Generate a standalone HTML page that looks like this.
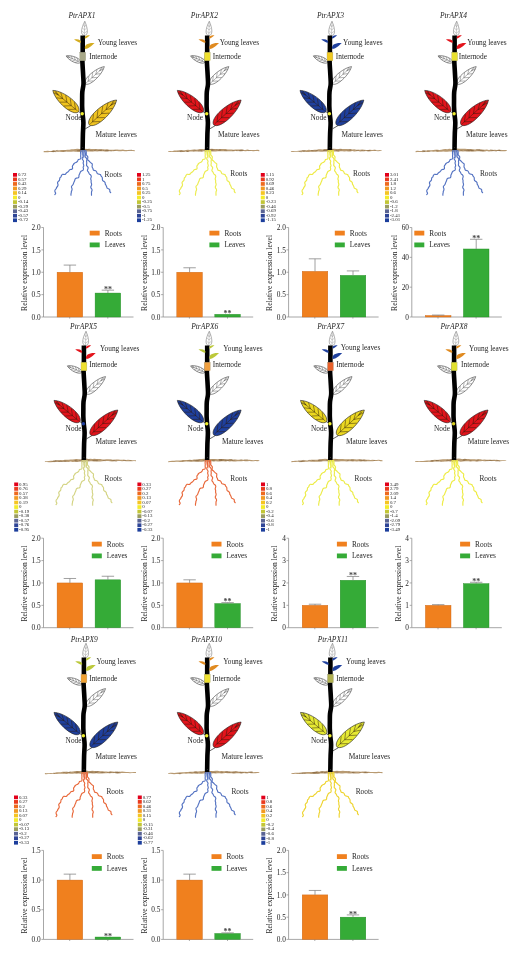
<!DOCTYPE html>
<html><head><meta charset="utf-8"><style>
html,body{margin:0;padding:0;background:#fff;}
svg{display:block;}
text{font-family:"Liberation Serif", "Times New Roman", serif;}
</style></head><body>
<svg width="523" height="957" viewBox="0 0 523 957">
<rect width="523" height="957" fill="#fff"/>
<text x="97.7" y="44.7" font-size="7.35" fill="#262626">Young leaves</text>
<text x="89.2" y="58.5" font-size="7.35" fill="#262626">Internode</text>
<text x="65.6" y="119.8" font-size="7.35" fill="#262626">Node</text>
<text x="95.4" y="136.5" font-size="7.35" fill="#262626">Mature leaves</text>
<text x="104.6" y="176.7" font-size="7.35" fill="#262626">Roots</text>
<text x="82" y="18.4" font-size="7.5" font-style="italic" text-anchor="middle" fill="#262626">PtrAPX1</text>
<path d="M43.7 150.95 L45.68 150.93 L47.66 150.81 L49.64 150.92 L51.62 150.92 L53.6 150.37 L55.58 150.53 L57.56 150.43 L59.54 150.37 L61.52 149.96 L63.5 149.92 L65.48 149.93 L67.47 149.76 L69.45 149.67 L71.43 149.25 L73.41 149.35 L75.39 148.96 L77.37 148.84 L79.35 148.95 L81.33 148.81 L83.31 148.95 L85.29 148.75 L87.27 148.98 L89.25 148.66 L91.23 149.05 L93.21 148.99 L95.19 148.94 L97.17 149.13 L99.15 149.22 L101.13 149.13 L103.11 149.35 L105.09 149.44 L107.07 149.26 L109.05 149.63 L111.03 149.69 L113.02 149.72 L115 149.68 L116.98 149.51 L118.96 149.72 L120.94 149.69 L122.92 149.62 L124.9 150.02 L126.88 150.04 L128.86 150.03 L130.84 150.19 L132.82 149.92 L134.8 150.13 L134.8 151.17 L132.82 151.03 L130.84 150.99 L128.86 150.87 L126.88 151.21 L124.9 151.15 L122.92 150.95 L120.94 151.33 L118.96 151.31 L116.98 151.1 L115 151.03 L113.02 151.34 L111.03 151.04 L109.05 151.32 L107.07 151.13 L105.09 151.41 L103.11 151.22 L101.13 151.26 L99.15 151.22 L97.17 151.46 L95.19 151.16 L93.21 151.62 L91.23 151.58 L89.25 151.61 L87.27 151.55 L85.29 151.29 L83.31 151.33 L81.33 151.64 L79.35 151.64 L77.37 151.65 L75.39 151.68 L73.41 151.52 L71.43 151.63 L69.45 151.72 L67.47 151.68 L65.48 151.56 L63.5 151.9 L61.52 151.96 L59.54 151.68 L57.56 151.8 L55.58 151.81 L53.6 152.08 L51.62 152.08 L49.64 152.01 L47.66 152.15 L45.68 152.17 L43.7 152.18Z" fill="#b89a72"/>
<path d="M76.95 150.81l2.91 0.36M55.82 150.65l1.56 -0.3M51.64 151.22l2.83 0.19M105.05 150.4l3.51 -0.03M78.29 150.19l2.28 -0.16M83.13 150.02l2.92 -0.22M78.98 150.37l1.57 0.24M102.79 150.44l1.6 0.12M56.79 150.69l1.75 0.32M51.57 151.54l2.78 -0.34M98.52 149.99l3.51 0.04M89.62 150.56l3.54 0.19M106.29 150.75l2.99 -0.19M62.41 151.2l3.55 -0.08M128.13 150.42l3.87 -0.33M76.8 150.69l3.87 0.08M104.78 150.74l3.46 0.34M53.52 151.38l2.65 0.37M51.52 151.5l2.41 0.34M94.78 149.9l2.63 -0.14M97.71 150.37l3.77 0.23M93.83 150.41l1.81 0.24M113.5 150.51l2.26 -0.37M85.65 149.71l3.92 -0.32M109.87 150.81l2.06 0.28M99.69 150.37l2.2 -0.18" stroke="#86643e" stroke-width="0.55" fill="none" opacity="0.8"/>
<path d="M80.9 150.5C80.86 150.71 80.72 151.32 80.67 151.73C80.62 152.15 80.58 152.56 80.59 152.98C80.61 153.39 80.75 153.82 80.76 154.24C80.78 154.65 80.69 155.06 80.68 155.48C80.66 155.9 80.66 156.31 80.68 156.73C80.71 157.15 80.88 157.59 80.81 157.99C80.74 158.39 80.66 158.88 80.26 159.13C79.86 159.38 78.86 159.12 78.39 159.48C77.92 159.85 77.78 160.87 77.46 161.32C77.13 161.77 76.84 161.96 76.45 162.19C76.07 162.42 75.53 162.46 75.15 162.68C74.76 162.91 74.46 163.15 74.13 163.51C73.81 163.87 73.48 164.39 73.19 164.85C72.89 165.3 72.48 165.66 72.38 166.24C72.28 166.81 72.69 167.8 72.6 168.3C72.5 168.79 72.16 169.01 71.8 169.22C71.43 169.43 70.82 169.39 70.41 169.55C70.01 169.72 69.64 169.92 69.34 170.2C69.05 170.48 68.9 170.92 68.65 171.23C68.39 171.53 68.16 171.78 67.81 172.03C67.47 172.28 66.95 172.39 66.6 172.72C66.24 173.04 66.04 173.68 65.66 173.98C65.29 174.27 64.87 174.41 64.35 174.47C63.82 174.53 62.98 174.16 62.52 174.32C62.05 174.48 61.81 174.99 61.55 175.42C61.29 175.85 61.23 176.48 60.95 176.88C60.68 177.29 60.11 177.46 59.9 177.83C59.69 178.21 59.76 178.7 59.68 179.12C59.59 179.55 59.61 180.01 59.38 180.39C59.15 180.77 58.6 181.01 58.29 181.41C57.98 181.81 57.55 182.25 57.51 182.77C57.46 183.29 57.99 183.97 58.02 184.52C58.06 185.07 57.91 185.6 57.7 186.07C57.48 186.54 56.97 186.89 56.71 187.34C56.45 187.79 56.42 188.32 56.14 188.78C55.86 189.25 55.21 189.65 55.01 190.12C54.81 190.59 54.82 191.09 54.93 191.61C55.04 192.13 55.71 192.74 55.68 193.24C55.66 193.73 54.95 194.37 54.8 194.6" stroke="#5473c2" stroke-width="1.15" fill="none" stroke-linejoin="round" stroke-linecap="round"/>
<path d="M82.8 150.5C82.81 150.71 82.82 151.33 82.84 151.74C82.86 152.15 82.91 152.57 82.93 152.98C82.94 153.39 82.9 153.81 82.95 154.22C82.99 154.63 83.18 155.04 83.2 155.45C83.22 155.87 83.2 156.28 83.06 156.7C82.91 157.11 82.43 157.53 82.31 157.95C82.19 158.37 82.19 158.78 82.35 159.19C82.5 159.6 83.03 160.01 83.23 160.42C83.43 160.83 83.56 161.24 83.54 161.65C83.52 162.06 83.12 162.4 83.12 162.86C83.11 163.33 83.4 163.94 83.51 164.45C83.61 164.96 83.81 165.5 83.75 165.94C83.69 166.38 83.19 166.68 83.14 167.12C83.09 167.55 83.43 168.05 83.45 168.53C83.46 169.02 83.48 169.64 83.24 170.02C83.01 170.39 82.45 170.54 82.04 170.78C81.62 171.03 81.07 171.17 80.75 171.49C80.42 171.81 80.3 172.29 80.1 172.7C79.9 173.12 79.74 173.57 79.55 174C79.37 174.43 79.09 174.78 78.97 175.27C78.86 175.77 79.05 176.55 78.88 176.99C78.7 177.43 78.35 177.71 77.92 177.91C77.49 178.1 76.76 177.98 76.31 178.15C75.86 178.32 75.49 178.58 75.22 178.94C74.96 179.3 74.89 179.87 74.73 180.32C74.57 180.76 74.45 181.19 74.26 181.61C74.08 182.03 73.8 182.42 73.64 182.84C73.49 183.25 73.5 183.71 73.32 184.11C73.14 184.51 72.86 184.88 72.56 185.25C72.27 185.61 71.7 185.91 71.54 186.32C71.38 186.72 71.5 187.21 71.59 187.66C71.68 188.12 72.03 188.61 72.08 189.05C72.13 189.48 72.01 189.87 71.89 190.28C71.78 190.69 71.48 191.07 71.38 191.48C71.28 191.89 71.35 192.31 71.28 192.72C71.21 193.13 71.02 193.53 70.98 193.95C70.93 194.36 71 194.99 71 195.2" stroke="#5473c2" stroke-width="1.15" fill="none" stroke-linejoin="round" stroke-linecap="round"/>
<path d="M84.7 150.5C84.74 150.71 84.86 151.32 84.95 151.73C85.05 152.14 85.18 152.54 85.28 152.95C85.38 153.36 85.56 153.75 85.55 154.18C85.54 154.61 85.3 155.08 85.23 155.52C85.16 155.96 84.98 156.41 85.14 156.81C85.29 157.21 85.86 157.53 86.15 157.91C86.44 158.28 86.78 158.64 86.87 159.05C86.96 159.47 86.75 159.94 86.7 160.38C86.66 160.81 86.58 161.24 86.6 161.66C86.61 162.08 86.79 162.48 86.79 162.9C86.79 163.32 86.62 163.77 86.58 164.19C86.55 164.62 86.44 165.07 86.59 165.47C86.75 165.87 87.26 166.23 87.53 166.61C87.8 167 88.16 167.38 88.2 167.79C88.24 168.21 87.89 168.67 87.76 169.13C87.63 169.6 87.34 170.16 87.41 170.59C87.49 171.02 87.97 171.33 88.21 171.72C88.46 172.11 88.65 172.53 88.86 172.93C89.08 173.34 89.19 173.79 89.5 174.15C89.81 174.51 90.42 174.72 90.72 175.08C91.02 175.45 91.24 175.91 91.29 176.35C91.33 176.79 91.09 177.29 90.99 177.72C90.9 178.15 90.69 178.51 90.72 178.94C90.74 179.37 91.08 179.85 91.15 180.27C91.21 180.7 91.11 181.06 91.12 181.47C91.12 181.88 91.1 182.32 91.18 182.73C91.26 183.15 91.51 183.54 91.57 183.96C91.63 184.37 91.66 184.8 91.55 185.23C91.44 185.65 91.03 186.08 90.92 186.5C90.81 186.92 90.74 187.33 90.88 187.74C91.01 188.16 91.53 188.57 91.73 188.99C91.93 189.4 92.08 189.81 92.07 190.23C92.05 190.64 91.74 191.06 91.64 191.47C91.54 191.89 91.51 192.3 91.48 192.71C91.46 193.13 91.49 193.54 91.49 193.96C91.49 194.37 91.5 194.99 91.5 195.2" stroke="#5473c2" stroke-width="1.15" fill="none" stroke-linejoin="round" stroke-linecap="round"/>
<path d="M85.9 150.5C85.96 150.72 86.18 151.37 86.25 151.81C86.31 152.26 86.3 152.73 86.3 153.19C86.3 153.65 86.1 154.15 86.23 154.58C86.37 155.02 86.81 155.39 87.08 155.79C87.36 156.2 87.76 156.58 87.86 157.02C87.95 157.46 87.67 157.97 87.65 158.45C87.64 158.92 87.54 159.45 87.76 159.85C87.98 160.25 88.63 160.51 88.97 160.86C89.31 161.21 89.47 161.6 89.81 161.94C90.14 162.28 90.58 162.58 90.98 162.9C91.38 163.21 91.98 163.42 92.19 163.83C92.4 164.24 92.25 164.84 92.24 165.36C92.22 165.88 92 166.47 92.1 166.97C92.2 167.46 92.63 167.83 92.83 168.31C93.03 168.79 93.01 169.48 93.29 169.84C93.56 170.2 94.04 170.31 94.47 170.48C94.91 170.65 95.52 170.61 95.88 170.86C96.24 171.11 96.4 171.53 96.65 171.98C96.89 172.44 96.99 173.25 97.35 173.6C97.71 173.95 98.31 173.92 98.82 174.08C99.33 174.24 100.07 174.3 100.42 174.57C100.78 174.85 100.73 175.37 100.94 175.73C101.15 176.1 101.47 176.41 101.7 176.76C101.94 177.11 102.24 177.42 102.35 177.84C102.46 178.26 102.3 178.81 102.36 179.28C102.41 179.74 102.41 180.28 102.7 180.64C103 181.01 103.73 181.15 104.12 181.46C104.52 181.77 104.89 182.1 105.08 182.52C105.27 182.93 105.11 183.5 105.26 183.96C105.41 184.42 105.77 184.82 105.99 185.27C106.22 185.72 106.43 186.18 106.62 186.65C106.81 187.12 106.8 187.72 107.13 188.1C107.46 188.47 108.16 188.59 108.6 188.88C109.04 189.18 109.56 189.42 109.76 189.86C109.97 190.3 109.68 191.06 109.83 191.53C109.99 192.01 110.56 192.51 110.7 192.7" stroke="#5473c2" stroke-width="1.15" fill="none" stroke-linejoin="round" stroke-linecap="round"/>
<path d="M80.8 150L85.6 150L85.2 155L83.5 159L82 155Z" fill="#5473c2" opacity="0.55"/>
<path d="M80.5 62.2C81.46 58.83 71.81 54.61 66.1 55.9C69.03 60.97 78.68 65.19 80.5 62.2Z" fill="#fff" stroke="#2a2a2a" stroke-width="0.55"/>
<path d="M79.92 61.95L67.11 56.34M78.34 61.26L76.96 58.13M78.34 61.26L75.11 62.36M75.46 59.99L74.07 56.9M75.46 59.99L72.24 61.08M72.58 58.73L71.02 56.04M72.58 58.73L69.54 59.42M69.7 57.47L67.73 55.7M69.7 57.47L67.06 57.24" stroke="#444" stroke-width="0.4" fill="none"/>
<path d="M85.2 83.8C89.07 86.95 101.87 75.43 104.3 66.6C95.27 68.09 82.47 79.62 85.2 83.8Z" fill="#fff" stroke="#2a2a2a" stroke-width="0.55"/>
<path d="M85.96 83.11L102.96 67.8M88.06 81.22L93.32 80.91M88.06 81.22L88.92 76.03M91.89 77.78L97.11 77.44M91.89 77.78L92.77 72.62M95.7 74.34L100.52 73.54M95.7 74.34L97 69.64M99.53 70.9L103.38 69.04M99.53 70.9L101.78 67.26" stroke="#444" stroke-width="0.4" fill="none"/>
<path d="M84.3 35.4C88.16 35.54 88.37 29.57 84.8 21.2C80.65 29.3 80.44 35.26 84.3 35.4Z" fill="#fff" stroke="#666" stroke-width="0.5"/>
<path d="M84.32 34.83L84.77 22.19M84.38 33.27L86.91 31.23M84.38 33.27L81.99 31.05M84.49 30.07L86.67 28.02M84.49 30.07L82.45 27.87M84.6 26.88L86 24.8M84.6 26.88L83.35 24.7" stroke="#888" stroke-width="0.4" fill="none"/>
<path d="M82.7 35.6C82.7 38.33 82.75 47.77 82.7 52C82.65 56.23 82.33 57.17 82.4 61C82.48 64.83 82.97 71.17 83.15 75C83.33 78.83 83.64 81.17 83.5 84C83.36 86.83 82.52 89.33 82.3 92C82.08 94.67 82.18 97.5 82.15 100C82.12 102.5 82.07 104.58 82.15 107C82.23 109.42 82.44 111.92 82.65 114.5C82.86 117.08 83.36 119.25 83.4 122.5C83.44 125.75 83.03 129.75 82.9 134C82.78 138.25 82.69 145.33 82.65 148C82.61 150.67 82.65 149.67 82.65 150" stroke="#000" stroke-width="4.6" fill="none" stroke-linejoin="round"/>
<path d="M81 42.6C81.35 39.91 78.55 38.67 74 39.5C77.15 41.84 79.95 43.08 81 42.6Z" fill="#d4ac20"/>
<path d="M84.9 38.4C85.78 38.67 87.82 37.39 90 35.2C86.33 35.02 84.29 36.3 84.9 38.4Z" fill="#d4ac20"/>
<path d="M85 48.8C86.71 49.47 90.51 47.15 94.5 43C87.74 42.6 83.94 44.92 85 48.8Z" fill="#d4ac20"/>
<rect x="79.8" y="52.2" width="5.9" height="8.6" fill="#a8a888" stroke="#9a9a80" stroke-width="0.3"/>
<path d="M85.2 128.9L90.8 125.6" stroke="#222" stroke-width="0.7"/>
<path d="M81 113L78.5 111.6" stroke="#222" stroke-width="0.7"/>
<path d="M78.6 111.8C82.42 105.62 64.62 90.85 52.8 90.4C55.43 101.93 73.23 116.7 78.6 111.8Z" fill="#f0c420" stroke="#1a1a1a" stroke-width="0.6"/>
<path d="M77.57 110.94L54.61 91.9M75.5 109.23L74.38 102.19M75.5 109.23L68.37 109.43M71.25 105.7L70.22 98.54M71.25 105.7L64.02 106.01M66.99 102.17L65.69 95.34M66.99 102.17L60.04 102.15M62.73 98.64L60.73 92.65M62.73 98.64L56.48 97.78M58.48 95.11L55.26 90.58M58.48 95.11L53.43 92.79" stroke="#2a1808" stroke-width="0.55" fill="none" opacity="0.85"/>
<path d="M89.2 124.8C95.12 129.69 114.03 112.58 116.6 100C103.83 101.31 84.92 118.42 89.2 124.8Z" fill="#f0c420" stroke="#1a1a1a" stroke-width="0.6"/>
<path d="M90.3 123.81L114.68 101.74M92.49 121.82L100.2 121.54M92.49 121.82L93.54 114.18M97.01 117.73L104.83 117.56M97.01 117.73L97.96 109.97M101.53 113.64L109.05 113.13M101.53 113.64L102.78 106.21M106.05 109.55L112.8 108.19M106.05 109.55L108.07 102.97M110.57 105.46L115.97 102.61M110.57 105.46L113.94 100.37" stroke="#2a1808" stroke-width="0.55" fill="none" opacity="0.85"/>
<circle cx="82.2" cy="113.8" r="1.7" fill="#f0ee30"/>
<rect x="13" y="173" width="4" height="3.7" fill="#e2001a"/>
<text x="17.9" y="176" font-size="4.9" fill="#262626">0.72</text>
<rect x="13" y="177.54" width="4" height="3.7" fill="#ea3a1e"/>
<text x="17.9" y="180.54" font-size="4.9" fill="#262626">0.57</text>
<rect x="13" y="182.08" width="4" height="3.7" fill="#ee6a1e"/>
<text x="17.9" y="185.08" font-size="4.9" fill="#262626">0.43</text>
<rect x="13" y="186.62" width="4" height="3.7" fill="#f29a22"/>
<text x="17.9" y="189.62" font-size="4.9" fill="#262626">0.29</text>
<rect x="13" y="191.16" width="4" height="3.7" fill="#f5c523"/>
<text x="17.9" y="194.16" font-size="4.9" fill="#262626">0.14</text>
<rect x="13" y="195.7" width="4" height="3.7" fill="#f4ec2a"/>
<text x="17.9" y="198.7" font-size="4.9" fill="#262626">0</text>
<rect x="13" y="200.24" width="4" height="3.7" fill="#c2c636"/>
<text x="17.9" y="203.24" font-size="4.9" fill="#262626">-0.14</text>
<rect x="13" y="204.78" width="4" height="3.7" fill="#9a9c60"/>
<text x="17.9" y="207.78" font-size="4.9" fill="#262626">-0.29</text>
<rect x="13" y="209.32" width="4" height="3.7" fill="#5a6494"/>
<text x="17.9" y="212.32" font-size="4.9" fill="#262626">-0.43</text>
<rect x="13" y="213.86" width="4" height="3.7" fill="#2e4496"/>
<text x="17.9" y="216.86" font-size="4.9" fill="#262626">-0.57</text>
<rect x="13" y="218.4" width="4" height="3.7" fill="#1c3e9c"/>
<text x="17.9" y="221.4" font-size="4.9" fill="#262626">-0.72</text>
<path d="M43.5 227.5V317H133.5" stroke="#8a8a8a" stroke-width="0.75" fill="none"/>
<path d="M41.4 317H43.5" stroke="#8a8a8a" stroke-width="0.7"/>
<text x="40.7" y="319.75" font-size="7.3" text-anchor="end" fill="#262626">0.0</text>
<path d="M41.4 294.62H43.5" stroke="#8a8a8a" stroke-width="0.7"/>
<text x="40.7" y="297.38" font-size="7.3" text-anchor="end" fill="#262626">0.5</text>
<path d="M41.4 272.25H43.5" stroke="#8a8a8a" stroke-width="0.7"/>
<text x="40.7" y="275" font-size="7.3" text-anchor="end" fill="#262626">1.0</text>
<path d="M41.4 249.88H43.5" stroke="#8a8a8a" stroke-width="0.7"/>
<text x="40.7" y="252.62" font-size="7.3" text-anchor="end" fill="#262626">1.5</text>
<path d="M41.4 227.5H43.5" stroke="#8a8a8a" stroke-width="0.7"/>
<text x="40.7" y="230.25" font-size="7.3" text-anchor="end" fill="#262626">2.0</text>
<path d="M69.7 317V318.6" stroke="#8a8a8a" stroke-width="0.7"/>
<path d="M107.8 317V318.6" stroke="#8a8a8a" stroke-width="0.7"/>
<text transform="translate(26.8 272.95) rotate(-90)" font-size="7.55" text-anchor="middle" fill="#262626">Relative expression level</text>
<rect x="57.1" y="272.25" width="25.6" height="44.75" fill="#f0801e" stroke="#c86010" stroke-width="0.4"/>
<path d="M69.9 272.25V265.09M63.7 265.09H76.1" stroke="#808080" stroke-width="0.75" fill="none"/>
<rect x="95.1" y="293.06" width="25.6" height="23.94" fill="#35ab37" stroke="#208a22" stroke-width="0.4"/>
<path d="M107.9 293.06V290.15M101.7 290.15H114.1" stroke="#808080" stroke-width="0.75" fill="none"/>
<text x="107.9" y="291.75" font-size="8" font-weight="bold" text-anchor="middle" fill="#444">**</text>
<rect x="89.7" y="230.7" width="10" height="4.8" fill="#f0801e"/>
<rect x="89.7" y="242.5" width="10" height="4.8" fill="#35ab37"/>
<text x="104.7" y="235.6" font-size="7.3" fill="#262626">Roots</text>
<text x="104.7" y="247.4" font-size="7.3" fill="#262626">Leaves</text>
<text x="219.7" y="44.7" font-size="7.35" fill="#262626">Young leaves</text>
<text x="212.8" y="58.5" font-size="7.35" fill="#262626">Internode</text>
<text x="187.1" y="119.8" font-size="7.35" fill="#262626">Node</text>
<text x="218.1" y="136.5" font-size="7.35" fill="#262626">Mature leaves</text>
<text x="230.3" y="175.5" font-size="7.35" fill="#262626">Roots</text>
<text x="204.4" y="18.4" font-size="7.5" font-style="italic" text-anchor="middle" fill="#262626">PtrAPX2</text>
<path d="M168.2 151.36 L170.18 151.03 L172.16 151.17 L174.14 150.59 L176.12 150.5 L178.1 150.41 L180.08 150.37 L182.06 150.27 L184.04 150.38 L186.02 149.96 L188 149.82 L189.98 149.98 L191.97 149.86 L193.95 149.48 L195.93 149.67 L197.91 149.39 L199.89 149.07 L201.87 149 L203.85 149.13 L205.83 148.62 L207.81 148.64 L209.79 148.96 L211.77 148.74 L213.75 148.95 L215.73 148.96 L217.71 149.22 L219.69 148.93 L221.67 148.92 L223.65 149.12 L225.63 149.05 L227.61 149.48 L229.59 149.39 L231.57 149.45 L233.55 149.64 L235.53 149.54 L237.52 149.55 L239.5 149.56 L241.48 149.65 L243.46 149.97 L245.44 149.88 L247.42 149.61 L249.4 150.1 L251.38 150.04 L253.36 149.91 L255.34 150.09 L257.32 149.87 L259.3 150.04 L259.3 151.24 L257.32 151.1 L255.34 151 L253.36 151.29 L251.38 150.97 L249.4 150.86 L247.42 151.07 L245.44 151.14 L243.46 151.04 L241.48 151.16 L239.5 150.99 L237.52 150.96 L235.53 151.04 L233.55 151.28 L231.57 151.17 L229.59 151.13 L227.61 151.13 L225.63 151.16 L223.65 151.19 L221.67 151.36 L219.69 151.25 L217.71 151.29 L215.73 151.51 L213.75 151.5 L211.77 151.57 L209.79 151.58 L207.81 151.31 L205.83 151.69 L203.85 151.34 L201.87 151.66 L199.89 151.56 L197.91 151.44 L195.93 151.55 L193.95 151.57 L191.97 151.59 L189.98 151.53 L188 151.94 L186.02 151.56 L184.04 151.92 L182.06 152.01 L180.08 151.74 L178.1 151.7 L176.12 151.91 L174.14 151.97 L172.16 151.95 L170.18 152.06 L168.2 151.96Z" fill="#b89a72"/>
<path d="M218.12 150.28l3.22 -0.19M239.25 150.57l3.59 0.01M185.78 151.41l2.48 0.13M247.75 150.63l2.92 -0.13M239.87 150.05l2.82 -0.35M235.94 150.56l1.63 0.29M200.64 150.61l1.67 0.2M186.87 151.35l1.63 0.11M224.2 150.56l3.03 0.14M181.09 151.03l1.64 0.14M182.2 151.3l2.47 -0.22M210.16 149.71l2.73 0.12M179.82 151.13l2.09 -0.31M232.2 150.65l2.29 -0.14M192.75 150.83l1.58 0.32M197.95 150.92l3.68 -0.28M218.75 150.01l2.13 0.03M180.03 151.57l1.53 0.11M241.09 150.3l2.87 -0.28M216.22 149.7l1.66 0.02M177.13 151.27l3.83 -0.09M211.29 149.85l2.04 0.01M207.41 149.89l1.76 -0.06M210.64 150.16l3.93 -0.3M193.85 150.2l2.43 0.02M238.6 150.85l2.43 -0.09" stroke="#86643e" stroke-width="0.55" fill="none" opacity="0.8"/>
<path d="M205.4 150.5C205.36 150.71 205.22 151.32 205.17 151.73C205.12 152.15 205.08 152.56 205.09 152.98C205.11 153.39 205.25 153.82 205.26 154.24C205.28 154.65 205.19 155.06 205.18 155.48C205.16 155.9 205.16 156.31 205.18 156.73C205.21 157.15 205.38 157.59 205.31 157.99C205.24 158.39 205.16 158.88 204.76 159.13C204.36 159.38 203.36 159.12 202.89 159.48C202.42 159.85 202.28 160.87 201.96 161.32C201.63 161.77 201.34 161.96 200.95 162.19C200.57 162.42 200.03 162.46 199.65 162.68C199.26 162.91 198.96 163.15 198.63 163.51C198.31 163.87 197.98 164.39 197.69 164.85C197.39 165.3 196.98 165.66 196.88 166.24C196.78 166.81 197.19 167.8 197.1 168.3C197 168.79 196.66 169.01 196.3 169.22C195.93 169.43 195.32 169.39 194.91 169.55C194.51 169.72 194.14 169.92 193.84 170.2C193.55 170.48 193.4 170.92 193.15 171.23C192.89 171.53 192.66 171.78 192.31 172.03C191.97 172.28 191.45 172.39 191.1 172.72C190.74 173.04 190.54 173.68 190.16 173.98C189.79 174.27 189.37 174.41 188.85 174.47C188.32 174.53 187.48 174.16 187.02 174.32C186.55 174.48 186.31 174.99 186.05 175.42C185.79 175.85 185.73 176.48 185.45 176.88C185.18 177.29 184.61 177.46 184.4 177.83C184.19 178.21 184.26 178.7 184.18 179.12C184.09 179.55 184.11 180.01 183.88 180.39C183.65 180.77 183.1 181.01 182.79 181.41C182.48 181.81 182.05 182.25 182.01 182.77C181.96 183.29 182.49 183.97 182.52 184.52C182.56 185.07 182.41 185.6 182.2 186.07C181.98 186.54 181.47 186.89 181.21 187.34C180.95 187.79 180.92 188.32 180.64 188.78C180.36 189.25 179.71 189.65 179.51 190.12C179.31 190.59 179.32 191.09 179.43 191.61C179.54 192.13 180.21 192.74 180.18 193.24C180.16 193.73 179.45 194.37 179.3 194.6" stroke="#ecec50" stroke-width="1.15" fill="none" stroke-linejoin="round" stroke-linecap="round"/>
<path d="M207.3 150.5C207.31 150.71 207.32 151.33 207.34 151.74C207.36 152.15 207.41 152.57 207.43 152.98C207.44 153.39 207.4 153.81 207.45 154.22C207.49 154.63 207.68 155.04 207.7 155.45C207.72 155.87 207.7 156.28 207.56 156.7C207.41 157.11 206.93 157.53 206.81 157.95C206.69 158.37 206.69 158.78 206.85 159.19C207 159.6 207.53 160.01 207.73 160.42C207.93 160.83 208.06 161.24 208.04 161.65C208.02 162.06 207.62 162.4 207.62 162.86C207.61 163.33 207.9 163.94 208.01 164.45C208.11 164.96 208.31 165.5 208.25 165.94C208.19 166.38 207.69 166.68 207.64 167.12C207.59 167.55 207.93 168.05 207.95 168.53C207.96 169.02 207.98 169.64 207.74 170.02C207.51 170.39 206.95 170.54 206.54 170.78C206.12 171.03 205.57 171.17 205.25 171.49C204.92 171.81 204.8 172.29 204.6 172.7C204.4 173.12 204.24 173.57 204.05 174C203.87 174.43 203.59 174.78 203.47 175.27C203.36 175.77 203.55 176.55 203.38 176.99C203.2 177.43 202.85 177.71 202.42 177.91C201.99 178.1 201.26 177.98 200.81 178.15C200.36 178.32 199.99 178.58 199.72 178.94C199.46 179.3 199.39 179.87 199.23 180.32C199.07 180.76 198.95 181.19 198.76 181.61C198.58 182.03 198.3 182.42 198.14 182.84C197.99 183.25 198 183.71 197.82 184.11C197.64 184.51 197.36 184.88 197.06 185.25C196.77 185.61 196.2 185.91 196.04 186.32C195.88 186.72 196 187.21 196.09 187.66C196.18 188.12 196.53 188.61 196.58 189.05C196.63 189.48 196.51 189.87 196.39 190.28C196.28 190.69 195.98 191.07 195.88 191.48C195.78 191.89 195.85 192.31 195.78 192.72C195.71 193.13 195.52 193.53 195.48 193.95C195.43 194.36 195.5 194.99 195.5 195.2" stroke="#ecec50" stroke-width="1.15" fill="none" stroke-linejoin="round" stroke-linecap="round"/>
<path d="M209.2 150.5C209.24 150.71 209.36 151.32 209.45 151.73C209.55 152.14 209.68 152.54 209.78 152.95C209.88 153.36 210.06 153.75 210.05 154.18C210.04 154.61 209.8 155.08 209.73 155.52C209.66 155.96 209.48 156.41 209.64 156.81C209.79 157.21 210.36 157.53 210.65 157.91C210.94 158.28 211.28 158.64 211.37 159.05C211.46 159.47 211.25 159.94 211.2 160.38C211.16 160.81 211.08 161.24 211.1 161.66C211.11 162.08 211.29 162.48 211.29 162.9C211.29 163.32 211.12 163.77 211.08 164.19C211.05 164.62 210.94 165.07 211.09 165.47C211.25 165.87 211.76 166.23 212.03 166.61C212.3 167 212.66 167.38 212.7 167.79C212.74 168.21 212.39 168.67 212.26 169.13C212.13 169.6 211.84 170.16 211.91 170.59C211.99 171.02 212.47 171.33 212.71 171.72C212.96 172.11 213.15 172.53 213.36 172.93C213.58 173.34 213.69 173.79 214 174.15C214.31 174.51 214.92 174.72 215.22 175.08C215.52 175.45 215.74 175.91 215.79 176.35C215.83 176.79 215.59 177.29 215.49 177.72C215.4 178.15 215.19 178.51 215.22 178.94C215.24 179.37 215.58 179.85 215.65 180.27C215.71 180.7 215.61 181.06 215.62 181.47C215.62 181.88 215.6 182.32 215.68 182.73C215.76 183.15 216.01 183.54 216.07 183.96C216.13 184.37 216.16 184.8 216.05 185.23C215.94 185.65 215.53 186.08 215.42 186.5C215.31 186.92 215.24 187.33 215.38 187.74C215.51 188.16 216.03 188.57 216.23 188.99C216.43 189.4 216.58 189.81 216.57 190.23C216.55 190.64 216.24 191.06 216.14 191.47C216.04 191.89 216.01 192.3 215.98 192.71C215.96 193.13 215.99 193.54 215.99 193.96C215.99 194.37 216 194.99 216 195.2" stroke="#ecec50" stroke-width="1.15" fill="none" stroke-linejoin="round" stroke-linecap="round"/>
<path d="M210.4 150.5C210.46 150.72 210.68 151.37 210.75 151.81C210.81 152.26 210.8 152.73 210.8 153.19C210.8 153.65 210.6 154.15 210.73 154.58C210.87 155.02 211.31 155.39 211.58 155.79C211.86 156.2 212.26 156.58 212.36 157.02C212.45 157.46 212.17 157.97 212.15 158.45C212.14 158.92 212.04 159.45 212.26 159.85C212.48 160.25 213.13 160.51 213.47 160.86C213.81 161.21 213.97 161.6 214.31 161.94C214.64 162.28 215.08 162.58 215.48 162.9C215.88 163.21 216.48 163.42 216.69 163.83C216.9 164.24 216.75 164.84 216.74 165.36C216.72 165.88 216.5 166.47 216.6 166.97C216.7 167.46 217.13 167.83 217.33 168.31C217.53 168.79 217.51 169.48 217.79 169.84C218.06 170.2 218.54 170.31 218.97 170.48C219.41 170.65 220.02 170.61 220.38 170.86C220.74 171.11 220.9 171.53 221.15 171.98C221.39 172.44 221.49 173.25 221.85 173.6C222.21 173.95 222.81 173.92 223.32 174.08C223.83 174.24 224.57 174.3 224.92 174.57C225.28 174.85 225.23 175.37 225.44 175.73C225.65 176.1 225.97 176.41 226.2 176.76C226.44 177.11 226.74 177.42 226.85 177.84C226.96 178.26 226.8 178.81 226.86 179.28C226.91 179.74 226.91 180.28 227.2 180.64C227.5 181.01 228.23 181.15 228.62 181.46C229.02 181.77 229.39 182.1 229.58 182.52C229.77 182.93 229.61 183.5 229.76 183.96C229.91 184.42 230.27 184.82 230.49 185.27C230.72 185.72 230.93 186.18 231.12 186.65C231.31 187.12 231.3 187.72 231.63 188.1C231.96 188.47 232.66 188.59 233.1 188.88C233.54 189.18 234.06 189.42 234.26 189.86C234.47 190.3 234.18 191.06 234.33 191.53C234.49 192.01 235.06 192.51 235.2 192.7" stroke="#ecec50" stroke-width="1.15" fill="none" stroke-linejoin="round" stroke-linecap="round"/>
<path d="M205.3 150L210.1 150L209.7 155L208 159L206.5 155Z" fill="#ecec50" opacity="0.55"/>
<path d="M205 62.2C205.96 58.83 196.31 54.61 190.6 55.9C193.53 60.97 203.18 65.19 205 62.2Z" fill="#fff" stroke="#2a2a2a" stroke-width="0.55"/>
<path d="M204.42 61.95L191.61 56.34M202.84 61.26L201.46 58.13M202.84 61.26L199.61 62.36M199.96 59.99L198.57 56.9M199.96 59.99L196.74 61.08M197.08 58.73L195.52 56.04M197.08 58.73L194.04 59.42M194.2 57.47L192.23 55.7M194.2 57.47L191.56 57.24" stroke="#444" stroke-width="0.4" fill="none"/>
<path d="M209.7 83.8C213.57 86.95 226.37 75.43 228.8 66.6C219.77 68.09 206.97 79.62 209.7 83.8Z" fill="#fff" stroke="#2a2a2a" stroke-width="0.55"/>
<path d="M210.46 83.11L227.46 67.8M212.56 81.22L217.82 80.91M212.56 81.22L213.42 76.03M216.38 77.78L221.61 77.44M216.38 77.78L217.27 72.62M220.21 74.34L225.02 73.54M220.21 74.34L221.5 69.64M224.03 70.9L227.88 69.04M224.03 70.9L226.28 67.26" stroke="#444" stroke-width="0.4" fill="none"/>
<path d="M208.8 35.4C212.66 35.54 212.87 29.57 209.3 21.2C205.15 29.3 204.94 35.26 208.8 35.4Z" fill="#fff" stroke="#666" stroke-width="0.5"/>
<path d="M208.82 34.83L209.27 22.19M208.88 33.27L211.41 31.23M208.88 33.27L206.49 31.05M208.99 30.07L211.17 28.02M208.99 30.07L206.95 27.87M209.1 26.88L210.5 24.8M209.1 26.88L207.85 24.7" stroke="#888" stroke-width="0.4" fill="none"/>
<path d="M207.2 35.6C207.2 38.33 207.25 47.77 207.2 52C207.15 56.23 206.82 57.17 206.9 61C206.98 64.83 207.47 71.17 207.65 75C207.83 78.83 208.14 81.17 208 84C207.86 86.83 207.03 89.33 206.8 92C206.58 94.67 206.68 97.5 206.65 100C206.62 102.5 206.57 104.58 206.65 107C206.73 109.42 206.94 111.92 207.15 114.5C207.36 117.08 207.86 119.25 207.9 122.5C207.94 125.75 207.53 129.75 207.4 134C207.28 138.25 207.19 145.33 207.15 148C207.11 150.67 207.15 149.67 207.15 150" stroke="#000" stroke-width="4.6" fill="none" stroke-linejoin="round"/>
<path d="M205.5 42.6C205.85 39.91 203.05 38.67 198.5 39.5C201.65 41.84 204.45 43.08 205.5 42.6Z" fill="#e08a20"/>
<path d="M209.4 38.4C210.28 38.67 212.32 37.39 214.5 35.2C210.83 35.02 208.79 36.3 209.4 38.4Z" fill="#e08a20"/>
<path d="M209.5 48.8C211.21 49.47 215.01 47.15 219 43C212.24 42.6 208.44 44.92 209.5 48.8Z" fill="#e08a20"/>
<rect x="204.3" y="52.2" width="5.9" height="8.6" fill="#eee030" stroke="#9a9a80" stroke-width="0.3"/>
<path d="M209.7 128.9L215.3 125.6" stroke="#222" stroke-width="0.7"/>
<path d="M205.5 113L203 111.6" stroke="#222" stroke-width="0.7"/>
<path d="M203.1 111.8C206.92 105.62 189.12 90.85 177.3 90.4C179.93 101.93 197.73 116.7 203.1 111.8Z" fill="#e3141c" stroke="#1a1a1a" stroke-width="0.6"/>
<path d="M202.07 110.94L179.11 91.9M200 109.23L198.88 102.19M200 109.23L192.87 109.43M195.75 105.7L194.72 98.54M195.75 105.7L188.52 106.01M191.49 102.17L190.19 95.34M191.49 102.17L184.54 102.15M187.23 98.64L185.23 92.65M187.23 98.64L180.98 97.78M182.98 95.11L179.76 90.58M182.98 95.11L177.93 92.79" stroke="#2a1808" stroke-width="0.55" fill="none" opacity="0.85"/>
<path d="M213.7 124.8C219.62 129.69 238.53 112.58 241.1 100C228.33 101.31 209.42 118.42 213.7 124.8Z" fill="#e3141c" stroke="#1a1a1a" stroke-width="0.6"/>
<path d="M214.8 123.81L239.18 101.74M216.99 121.82L224.7 121.54M216.99 121.82L218.04 114.18M221.51 117.73L229.33 117.56M221.51 117.73L222.46 109.97M226.03 113.64L233.55 113.13M226.03 113.64L227.28 106.21M230.55 109.55L237.3 108.19M230.55 109.55L232.57 102.97M235.07 105.46L240.47 102.61M235.07 105.46L238.44 100.37" stroke="#2a1808" stroke-width="0.55" fill="none" opacity="0.85"/>
<circle cx="206.7" cy="113.8" r="1.7" fill="#f0ee30"/>
<rect x="137" y="173" width="4" height="3.7" fill="#e2001a"/>
<text x="141.9" y="176" font-size="4.9" fill="#262626">1.25</text>
<rect x="137" y="177.54" width="4" height="3.7" fill="#ea3a1e"/>
<text x="141.9" y="180.54" font-size="4.9" fill="#262626">1</text>
<rect x="137" y="182.08" width="4" height="3.7" fill="#ee6a1e"/>
<text x="141.9" y="185.08" font-size="4.9" fill="#262626">0.75</text>
<rect x="137" y="186.62" width="4" height="3.7" fill="#f29a22"/>
<text x="141.9" y="189.62" font-size="4.9" fill="#262626">0.5</text>
<rect x="137" y="191.16" width="4" height="3.7" fill="#f5c523"/>
<text x="141.9" y="194.16" font-size="4.9" fill="#262626">0.25</text>
<rect x="137" y="195.7" width="4" height="3.7" fill="#f4ec2a"/>
<text x="141.9" y="198.7" font-size="4.9" fill="#262626">0</text>
<rect x="137" y="200.24" width="4" height="3.7" fill="#c2c636"/>
<text x="141.9" y="203.24" font-size="4.9" fill="#262626">-0.25</text>
<rect x="137" y="204.78" width="4" height="3.7" fill="#9a9c60"/>
<text x="141.9" y="207.78" font-size="4.9" fill="#262626">-0.5</text>
<rect x="137" y="209.32" width="4" height="3.7" fill="#5a6494"/>
<text x="141.9" y="212.32" font-size="4.9" fill="#262626">-0.75</text>
<rect x="137" y="213.86" width="4" height="3.7" fill="#2e4496"/>
<text x="141.9" y="216.86" font-size="4.9" fill="#262626">-1</text>
<rect x="137" y="218.4" width="4" height="3.7" fill="#1c3e9c"/>
<text x="141.9" y="221.4" font-size="4.9" fill="#262626">-1.25</text>
<path d="M163.2 227.5V317H253.2" stroke="#8a8a8a" stroke-width="0.75" fill="none"/>
<path d="M161.1 317H163.2" stroke="#8a8a8a" stroke-width="0.7"/>
<text x="160.4" y="319.75" font-size="7.3" text-anchor="end" fill="#262626">0.0</text>
<path d="M161.1 294.62H163.2" stroke="#8a8a8a" stroke-width="0.7"/>
<text x="160.4" y="297.38" font-size="7.3" text-anchor="end" fill="#262626">0.5</text>
<path d="M161.1 272.25H163.2" stroke="#8a8a8a" stroke-width="0.7"/>
<text x="160.4" y="275" font-size="7.3" text-anchor="end" fill="#262626">1.0</text>
<path d="M161.1 249.88H163.2" stroke="#8a8a8a" stroke-width="0.7"/>
<text x="160.4" y="252.62" font-size="7.3" text-anchor="end" fill="#262626">1.5</text>
<path d="M161.1 227.5H163.2" stroke="#8a8a8a" stroke-width="0.7"/>
<text x="160.4" y="230.25" font-size="7.3" text-anchor="end" fill="#262626">2.0</text>
<path d="M189.4 317V318.6" stroke="#8a8a8a" stroke-width="0.7"/>
<path d="M227.5 317V318.6" stroke="#8a8a8a" stroke-width="0.7"/>
<text transform="translate(146.5 272.95) rotate(-90)" font-size="7.55" text-anchor="middle" fill="#262626">Relative expression level</text>
<rect x="176.8" y="272.25" width="25.6" height="44.75" fill="#f0801e" stroke="#c86010" stroke-width="0.4"/>
<path d="M189.6 272.25V267.77M183.4 267.77H195.8" stroke="#808080" stroke-width="0.75" fill="none"/>
<rect x="214.8" y="314.31" width="25.6" height="2.69" fill="#35ab37" stroke="#208a22" stroke-width="0.4"/>
<text x="227.6" y="315.92" font-size="8" font-weight="bold" text-anchor="middle" fill="#444">**</text>
<rect x="209.4" y="230.7" width="10" height="4.8" fill="#f0801e"/>
<rect x="209.4" y="242.5" width="10" height="4.8" fill="#35ab37"/>
<text x="224.4" y="235.6" font-size="7.3" fill="#262626">Roots</text>
<text x="224.4" y="247.4" font-size="7.3" fill="#262626">Leaves</text>
<text x="343.1" y="44.7" font-size="7.35" fill="#262626">Young leaves</text>
<text x="335.8" y="58.5" font-size="7.35" fill="#262626">Internode</text>
<text x="310.5" y="119.8" font-size="7.35" fill="#262626">Node</text>
<text x="341.5" y="136.5" font-size="7.35" fill="#262626">Mature leaves</text>
<text x="353" y="175.5" font-size="7.35" fill="#262626">Roots</text>
<text x="330.5" y="18.4" font-size="7.5" font-style="italic" text-anchor="middle" fill="#262626">PtrAPX3</text>
<path d="M290.9 150.93 L292.88 151.11 L294.86 151.03 L296.84 151.04 L298.82 150.81 L300.8 150.55 L302.78 150.24 L304.76 150.3 L306.74 150.23 L308.72 149.85 L310.7 150.11 L312.68 149.93 L314.67 149.82 L316.65 149.74 L318.63 149.35 L320.61 149.35 L322.59 149.41 L324.57 148.89 L326.55 148.92 L328.53 148.85 L330.51 148.74 L332.49 148.65 L334.47 148.8 L336.45 149.01 L338.43 149.11 L340.41 148.76 L342.39 149.03 L344.37 149.09 L346.35 149.01 L348.33 149.37 L350.31 149.1 L352.29 149.51 L354.27 149.26 L356.25 149.7 L358.23 149.63 L360.22 149.76 L362.2 149.47 L364.18 149.72 L366.16 149.88 L368.14 149.98 L370.12 149.8 L372.1 150 L374.08 149.8 L376.06 150.15 L378.04 150.21 L380.02 150.03 L382 150.39 L382 150.86 L380.02 150.91 L378.04 151.27 L376.06 151.03 L374.08 150.89 L372.1 151.04 L370.12 151.24 L368.14 151.39 L366.16 151.05 L364.18 151.26 L362.2 151.35 L360.22 151.42 L358.23 150.97 L356.25 151.19 L354.27 151.47 L352.29 151.09 L350.31 151.52 L348.33 151.54 L346.35 151.36 L344.37 151.57 L342.39 151.17 L340.41 151.24 L338.43 151.64 L336.45 151.54 L334.47 151.56 L332.49 151.65 L330.51 151.57 L328.53 151.64 L326.55 151.38 L324.57 151.42 L322.59 151.84 L320.61 151.82 L318.63 151.42 L316.65 151.5 L314.67 151.64 L312.68 151.75 L310.7 151.67 L308.72 151.95 L306.74 151.93 L304.76 151.82 L302.78 151.76 L300.8 151.69 L298.82 151.71 L296.84 151.77 L294.86 151.73 L292.88 152.06 L290.9 151.85Z" fill="#b89a72"/>
<path d="M363.48 150.77l1.73 -0.36M301.92 150.78l3.71 0.03M323.09 150.46l2.38 0.15M302.87 151.33l2.01 -0.16M367.85 150.44l2.77 0.24M326.51 150.35l2.99 -0.04M330 149.82l3.23 -0.22M349.5 150.45l2.06 -0.29M330.91 149.93l2.47 -0.18M327.12 150.06l3.02 -0.34M366.59 150.58l3.48 -0.19M335.42 150.31l1.88 -0.14M315.28 151.05l2.07 -0.3M311.51 150.88l3.24 -0.09M347.31 150.04l3.45 -0.25M323.57 150.1l3.72 -0.13M374.31 150.05l1.92 0.28M298.75 151.43l3.17 0.37M361.25 150.53l1.86 0.15M315.47 150.86l2.45 -0.31M327.2 150.1l3.32 0.34M311.04 150.57l1.7 0.01M338.27 149.89l3.72 -0.11M356.15 150.51l2.83 -0.26M336.19 150.59l2.85 0.19M323.34 150.57l3.39 0.11" stroke="#86643e" stroke-width="0.55" fill="none" opacity="0.8"/>
<path d="M328.1 150.5C328.06 150.71 327.92 151.32 327.87 151.73C327.82 152.15 327.78 152.56 327.79 152.98C327.81 153.39 327.95 153.82 327.96 154.24C327.98 154.65 327.89 155.06 327.88 155.48C327.86 155.9 327.86 156.31 327.88 156.73C327.91 157.15 328.08 157.59 328.01 157.99C327.94 158.39 327.86 158.88 327.46 159.13C327.06 159.38 326.06 159.12 325.59 159.48C325.12 159.85 324.98 160.87 324.66 161.32C324.33 161.77 324.04 161.96 323.65 162.19C323.27 162.42 322.73 162.46 322.35 162.68C321.96 162.91 321.66 163.15 321.33 163.51C321.01 163.87 320.68 164.39 320.39 164.85C320.09 165.3 319.68 165.66 319.58 166.24C319.48 166.81 319.89 167.8 319.8 168.3C319.7 168.79 319.36 169.01 319 169.22C318.63 169.43 318.02 169.39 317.61 169.55C317.21 169.72 316.84 169.92 316.54 170.2C316.25 170.48 316.1 170.92 315.85 171.23C315.59 171.53 315.36 171.78 315.01 172.03C314.67 172.28 314.15 172.39 313.8 172.72C313.44 173.04 313.24 173.68 312.86 173.98C312.49 174.27 312.07 174.41 311.55 174.47C311.02 174.53 310.18 174.16 309.72 174.32C309.25 174.48 309.01 174.99 308.75 175.42C308.49 175.85 308.43 176.48 308.15 176.88C307.88 177.29 307.31 177.46 307.1 177.83C306.89 178.21 306.96 178.7 306.88 179.12C306.79 179.55 306.81 180.01 306.58 180.39C306.35 180.77 305.8 181.01 305.49 181.41C305.18 181.81 304.75 182.25 304.71 182.77C304.66 183.29 305.19 183.97 305.22 184.52C305.26 185.07 305.11 185.6 304.9 186.07C304.68 186.54 304.17 186.89 303.91 187.34C303.65 187.79 303.62 188.32 303.34 188.78C303.06 189.25 302.41 189.65 302.21 190.12C302.01 190.59 302.02 191.09 302.13 191.61C302.24 192.13 302.91 192.74 302.88 193.24C302.86 193.73 302.15 194.37 302 194.6" stroke="#eeea44" stroke-width="1.15" fill="none" stroke-linejoin="round" stroke-linecap="round"/>
<path d="M330 150.5C330.01 150.71 330.02 151.33 330.04 151.74C330.06 152.15 330.11 152.57 330.13 152.98C330.14 153.39 330.1 153.81 330.15 154.22C330.19 154.63 330.38 155.04 330.4 155.45C330.42 155.87 330.4 156.28 330.26 156.7C330.11 157.11 329.63 157.53 329.51 157.95C329.39 158.37 329.39 158.78 329.55 159.19C329.7 159.6 330.23 160.01 330.43 160.42C330.63 160.83 330.76 161.24 330.74 161.65C330.72 162.06 330.32 162.4 330.32 162.86C330.31 163.33 330.6 163.94 330.71 164.45C330.81 164.96 331.01 165.5 330.95 165.94C330.89 166.38 330.39 166.68 330.34 167.12C330.29 167.55 330.63 168.05 330.65 168.53C330.66 169.02 330.68 169.64 330.44 170.02C330.21 170.39 329.65 170.54 329.24 170.78C328.82 171.03 328.27 171.17 327.95 171.49C327.62 171.81 327.5 172.29 327.3 172.7C327.1 173.12 326.94 173.57 326.75 174C326.57 174.43 326.29 174.78 326.17 175.27C326.06 175.77 326.25 176.55 326.08 176.99C325.9 177.43 325.55 177.71 325.12 177.91C324.69 178.1 323.96 177.98 323.51 178.15C323.06 178.32 322.69 178.58 322.42 178.94C322.16 179.3 322.09 179.87 321.93 180.32C321.77 180.76 321.65 181.19 321.46 181.61C321.28 182.03 321 182.42 320.84 182.84C320.69 183.25 320.7 183.71 320.52 184.11C320.34 184.51 320.06 184.88 319.76 185.25C319.47 185.61 318.9 185.91 318.74 186.32C318.58 186.72 318.7 187.21 318.79 187.66C318.88 188.12 319.23 188.61 319.28 189.05C319.33 189.48 319.21 189.87 319.09 190.28C318.98 190.69 318.68 191.07 318.58 191.48C318.48 191.89 318.55 192.31 318.48 192.72C318.41 193.13 318.22 193.53 318.18 193.95C318.13 194.36 318.2 194.99 318.2 195.2" stroke="#eeea44" stroke-width="1.15" fill="none" stroke-linejoin="round" stroke-linecap="round"/>
<path d="M331.9 150.5C331.94 150.71 332.06 151.32 332.15 151.73C332.25 152.14 332.38 152.54 332.48 152.95C332.58 153.36 332.76 153.75 332.75 154.18C332.74 154.61 332.5 155.08 332.43 155.52C332.36 155.96 332.18 156.41 332.34 156.81C332.49 157.21 333.06 157.53 333.35 157.91C333.64 158.28 333.98 158.64 334.07 159.05C334.16 159.47 333.95 159.94 333.9 160.38C333.86 160.81 333.78 161.24 333.8 161.66C333.81 162.08 333.99 162.48 333.99 162.9C333.99 163.32 333.82 163.77 333.78 164.19C333.75 164.62 333.64 165.07 333.79 165.47C333.95 165.87 334.46 166.23 334.73 166.61C335 167 335.36 167.38 335.4 167.79C335.44 168.21 335.09 168.67 334.96 169.13C334.83 169.6 334.54 170.16 334.61 170.59C334.69 171.02 335.17 171.33 335.41 171.72C335.66 172.11 335.85 172.53 336.06 172.93C336.28 173.34 336.39 173.79 336.7 174.15C337.01 174.51 337.62 174.72 337.92 175.08C338.22 175.45 338.44 175.91 338.49 176.35C338.53 176.79 338.29 177.29 338.19 177.72C338.1 178.15 337.89 178.51 337.92 178.94C337.94 179.37 338.28 179.85 338.35 180.27C338.41 180.7 338.31 181.06 338.32 181.47C338.32 181.88 338.3 182.32 338.38 182.73C338.46 183.15 338.71 183.54 338.77 183.96C338.83 184.37 338.86 184.8 338.75 185.23C338.64 185.65 338.23 186.08 338.12 186.5C338.01 186.92 337.94 187.33 338.08 187.74C338.21 188.16 338.73 188.57 338.93 188.99C339.13 189.4 339.28 189.81 339.27 190.23C339.25 190.64 338.94 191.06 338.84 191.47C338.74 191.89 338.71 192.3 338.68 192.71C338.66 193.13 338.69 193.54 338.69 193.96C338.69 194.37 338.7 194.99 338.7 195.2" stroke="#eeea44" stroke-width="1.15" fill="none" stroke-linejoin="round" stroke-linecap="round"/>
<path d="M333.1 150.5C333.16 150.72 333.38 151.37 333.45 151.81C333.51 152.26 333.5 152.73 333.5 153.19C333.5 153.65 333.3 154.15 333.43 154.58C333.57 155.02 334.01 155.39 334.28 155.79C334.56 156.2 334.96 156.58 335.06 157.02C335.15 157.46 334.87 157.97 334.85 158.45C334.84 158.92 334.74 159.45 334.96 159.85C335.18 160.25 335.83 160.51 336.17 160.86C336.51 161.21 336.67 161.6 337.01 161.94C337.34 162.28 337.78 162.58 338.18 162.9C338.58 163.21 339.18 163.42 339.39 163.83C339.6 164.24 339.45 164.84 339.44 165.36C339.42 165.88 339.2 166.47 339.3 166.97C339.4 167.46 339.83 167.83 340.03 168.31C340.23 168.79 340.21 169.48 340.49 169.84C340.76 170.2 341.24 170.31 341.67 170.48C342.11 170.65 342.72 170.61 343.08 170.86C343.44 171.11 343.6 171.53 343.85 171.98C344.09 172.44 344.19 173.25 344.55 173.6C344.91 173.95 345.51 173.92 346.02 174.08C346.53 174.24 347.27 174.3 347.62 174.57C347.98 174.85 347.93 175.37 348.14 175.73C348.35 176.1 348.67 176.41 348.9 176.76C349.14 177.11 349.44 177.42 349.55 177.84C349.66 178.26 349.5 178.81 349.56 179.28C349.61 179.74 349.61 180.28 349.9 180.64C350.2 181.01 350.93 181.15 351.32 181.46C351.72 181.77 352.09 182.1 352.28 182.52C352.47 182.93 352.31 183.5 352.46 183.96C352.61 184.42 352.97 184.82 353.19 185.27C353.42 185.72 353.63 186.18 353.82 186.65C354.01 187.12 354 187.72 354.33 188.1C354.66 188.47 355.36 188.59 355.8 188.88C356.24 189.18 356.76 189.42 356.96 189.86C357.17 190.3 356.88 191.06 357.03 191.53C357.19 192.01 357.76 192.51 357.9 192.7" stroke="#eeea44" stroke-width="1.15" fill="none" stroke-linejoin="round" stroke-linecap="round"/>
<path d="M328 150L332.8 150L332.4 155L330.7 159L329.2 155Z" fill="#eeea44" opacity="0.55"/>
<path d="M327.7 62.2C328.66 58.83 319.01 54.61 313.3 55.9C316.23 60.97 325.88 65.19 327.7 62.2Z" fill="#fff" stroke="#2a2a2a" stroke-width="0.55"/>
<path d="M327.12 61.95L314.31 56.34M325.54 61.26L324.16 58.13M325.54 61.26L322.31 62.36M322.66 60L321.27 56.9M322.66 60L319.44 61.08M319.78 58.73L318.22 56.04M319.78 58.73L316.74 59.42M316.9 57.48L314.93 55.7M316.9 57.48L314.26 57.24" stroke="#444" stroke-width="0.4" fill="none"/>
<path d="M332.4 83.8C336.27 86.95 349.07 75.43 351.5 66.6C342.47 68.09 329.67 79.62 332.4 83.8Z" fill="#fff" stroke="#2a2a2a" stroke-width="0.55"/>
<path d="M333.16 83.11L350.16 67.8M335.26 81.22L340.52 80.91M335.26 81.22L336.12 76.03M339.08 77.78L344.31 77.44M339.08 77.78L339.97 72.62M342.9 74.34L347.72 73.54M342.9 74.34L344.2 69.64M346.73 70.9L350.58 69.04M346.73 70.9L348.98 67.26" stroke="#444" stroke-width="0.4" fill="none"/>
<path d="M331.5 35.4C335.36 35.54 335.57 29.57 332 21.2C327.85 29.3 327.64 35.26 331.5 35.4Z" fill="#fff" stroke="#666" stroke-width="0.5"/>
<path d="M331.52 34.83L331.96 22.19M331.57 33.27L334.11 31.23M331.57 33.27L329.19 31.05M331.69 30.07L333.87 28.02M331.69 30.07L329.65 27.87M331.8 26.88L333.2 24.8M331.8 26.88L330.55 24.7" stroke="#888" stroke-width="0.4" fill="none"/>
<path d="M329.9 35.6C329.9 38.33 329.95 47.77 329.9 52C329.85 56.23 329.52 57.17 329.6 61C329.67 64.83 330.17 71.17 330.35 75C330.53 78.83 330.84 81.17 330.7 84C330.56 86.83 329.73 89.33 329.5 92C329.27 94.67 329.38 97.5 329.35 100C329.32 102.5 329.27 104.58 329.35 107C329.43 109.42 329.64 111.92 329.85 114.5C330.06 117.08 330.56 119.25 330.6 122.5C330.64 125.75 330.22 129.75 330.1 134C329.97 138.25 329.89 145.33 329.85 148C329.81 150.67 329.85 149.67 329.85 150" stroke="#000" stroke-width="4.6" fill="none" stroke-linejoin="round"/>
<path d="M328.2 42.6C328.55 39.91 325.75 38.67 321.2 39.5C324.35 41.84 327.15 43.08 328.2 42.6Z" fill="#1f409e"/>
<path d="M332.1 38.4C332.98 38.67 335.02 37.39 337.2 35.2C333.53 35.02 331.49 36.3 332.1 38.4Z" fill="#1f409e"/>
<path d="M332.2 48.8C333.91 49.47 337.71 47.15 341.7 43C334.94 42.6 331.14 44.92 332.2 48.8Z" fill="#1f409e"/>
<rect x="327" y="52.2" width="5.9" height="8.6" fill="#f0c820" stroke="#9a9a80" stroke-width="0.3"/>
<path d="M332.4 128.9L338 125.6" stroke="#222" stroke-width="0.7"/>
<path d="M328.2 113L325.7 111.6" stroke="#222" stroke-width="0.7"/>
<path d="M325.8 111.8C329.62 105.62 311.82 90.85 300 90.4C302.63 101.93 320.43 116.7 325.8 111.8Z" fill="#1f409e" stroke="#1a1a1a" stroke-width="0.6"/>
<path d="M324.77 110.94L301.81 91.9M322.7 109.23L321.58 102.19M322.7 109.23L315.57 109.43M318.45 105.7L317.42 98.54M318.45 105.7L311.22 106.01M314.19 102.17L312.89 95.34M314.19 102.17L307.24 102.15M309.93 98.64L307.93 92.65M309.93 98.64L303.68 97.78M305.68 95.11L302.46 90.58M305.68 95.11L300.63 92.79" stroke="#2a1808" stroke-width="0.55" fill="none" opacity="0.85"/>
<path d="M336.4 124.8C342.32 129.69 361.23 112.58 363.8 100C351.03 101.31 332.12 118.42 336.4 124.8Z" fill="#1f409e" stroke="#1a1a1a" stroke-width="0.6"/>
<path d="M337.5 123.81L361.88 101.74M339.69 121.82L347.4 121.54M339.69 121.82L340.74 114.18M344.21 117.73L352.03 117.56M344.21 117.73L345.16 109.97M348.73 113.64L356.25 113.13M348.73 113.64L349.98 106.21M353.25 109.55L360 108.19M353.25 109.55L355.27 102.97M357.77 105.46L363.17 102.61M357.77 105.46L361.14 100.37" stroke="#2a1808" stroke-width="0.55" fill="none" opacity="0.85"/>
<circle cx="329.4" cy="113.8" r="1.7" fill="#f0ee30"/>
<rect x="260.8" y="173" width="4" height="3.7" fill="#e2001a"/>
<text x="265.7" y="176" font-size="4.9" fill="#262626">1.15</text>
<rect x="260.8" y="177.54" width="4" height="3.7" fill="#ea3a1e"/>
<text x="265.7" y="180.54" font-size="4.9" fill="#262626">0.92</text>
<rect x="260.8" y="182.08" width="4" height="3.7" fill="#ee6a1e"/>
<text x="265.7" y="185.08" font-size="4.9" fill="#262626">0.69</text>
<rect x="260.8" y="186.62" width="4" height="3.7" fill="#f29a22"/>
<text x="265.7" y="189.62" font-size="4.9" fill="#262626">0.46</text>
<rect x="260.8" y="191.16" width="4" height="3.7" fill="#f5c523"/>
<text x="265.7" y="194.16" font-size="4.9" fill="#262626">0.23</text>
<rect x="260.8" y="195.7" width="4" height="3.7" fill="#f4ec2a"/>
<text x="265.7" y="198.7" font-size="4.9" fill="#262626">0</text>
<rect x="260.8" y="200.24" width="4" height="3.7" fill="#c2c636"/>
<text x="265.7" y="203.24" font-size="4.9" fill="#262626">-0.23</text>
<rect x="260.8" y="204.78" width="4" height="3.7" fill="#9a9c60"/>
<text x="265.7" y="207.78" font-size="4.9" fill="#262626">-0.46</text>
<rect x="260.8" y="209.32" width="4" height="3.7" fill="#5a6494"/>
<text x="265.7" y="212.32" font-size="4.9" fill="#262626">-0.69</text>
<rect x="260.8" y="213.86" width="4" height="3.7" fill="#2e4496"/>
<text x="265.7" y="216.86" font-size="4.9" fill="#262626">-0.92</text>
<rect x="260.8" y="218.4" width="4" height="3.7" fill="#1c3e9c"/>
<text x="265.7" y="221.4" font-size="4.9" fill="#262626">-1.15</text>
<path d="M288.6 227.5V317H378.6" stroke="#8a8a8a" stroke-width="0.75" fill="none"/>
<path d="M286.5 317H288.6" stroke="#8a8a8a" stroke-width="0.7"/>
<text x="285.8" y="319.75" font-size="7.3" text-anchor="end" fill="#262626">0.0</text>
<path d="M286.5 294.62H288.6" stroke="#8a8a8a" stroke-width="0.7"/>
<text x="285.8" y="297.38" font-size="7.3" text-anchor="end" fill="#262626">0.5</text>
<path d="M286.5 272.25H288.6" stroke="#8a8a8a" stroke-width="0.7"/>
<text x="285.8" y="275" font-size="7.3" text-anchor="end" fill="#262626">1.0</text>
<path d="M286.5 249.88H288.6" stroke="#8a8a8a" stroke-width="0.7"/>
<text x="285.8" y="252.62" font-size="7.3" text-anchor="end" fill="#262626">1.5</text>
<path d="M286.5 227.5H288.6" stroke="#8a8a8a" stroke-width="0.7"/>
<text x="285.8" y="230.25" font-size="7.3" text-anchor="end" fill="#262626">2.0</text>
<path d="M314.8 317V318.6" stroke="#8a8a8a" stroke-width="0.7"/>
<path d="M352.9 317V318.6" stroke="#8a8a8a" stroke-width="0.7"/>
<text transform="translate(271.9 272.95) rotate(-90)" font-size="7.55" text-anchor="middle" fill="#262626">Relative expression level</text>
<rect x="302.2" y="271.36" width="25.6" height="45.64" fill="#f0801e" stroke="#c86010" stroke-width="0.4"/>
<path d="M315 271.36V258.82M308.8 258.82H321.2" stroke="#808080" stroke-width="0.75" fill="none"/>
<rect x="340.2" y="275.38" width="25.6" height="41.62" fill="#35ab37" stroke="#208a22" stroke-width="0.4"/>
<path d="M353 275.38V270.91M346.8 270.91H359.2" stroke="#808080" stroke-width="0.75" fill="none"/>
<rect x="334.8" y="230.7" width="10" height="4.8" fill="#f0801e"/>
<rect x="334.8" y="242.5" width="10" height="4.8" fill="#35ab37"/>
<text x="349.8" y="235.6" font-size="7.3" fill="#262626">Roots</text>
<text x="349.8" y="247.4" font-size="7.3" fill="#262626">Leaves</text>
<text x="467.2" y="44.7" font-size="7.35" fill="#262626">Young leaves</text>
<text x="458.8" y="58.5" font-size="7.35" fill="#262626">Internode</text>
<text x="434" y="119.8" font-size="7.35" fill="#262626">Node</text>
<text x="466.1" y="136.5" font-size="7.35" fill="#262626">Mature leaves</text>
<text x="479.9" y="175.5" font-size="7.35" fill="#262626">Roots</text>
<text x="453.5" y="18.4" font-size="7.5" font-style="italic" text-anchor="middle" fill="#262626">PtrAPX4</text>
<path d="M415.6 150.9 L417.58 150.86 L419.56 150.89 L421.54 150.97 L423.52 150.52 L425.5 150.65 L427.48 150.21 L429.46 150.15 L431.44 150.32 L433.42 150.1 L435.4 149.76 L437.38 149.67 L439.37 149.95 L441.35 149.7 L443.33 149.25 L445.31 149.08 L447.29 149.29 L449.27 148.87 L451.25 148.95 L453.23 148.88 L455.21 148.72 L457.19 148.6 L459.17 148.73 L461.15 148.65 L463.13 148.82 L465.11 148.82 L467.09 148.91 L469.07 149.15 L471.05 148.99 L473.03 149.28 L475.01 149.51 L476.99 149.29 L478.97 149.49 L480.95 149.33 L482.93 149.72 L484.92 149.8 L486.9 149.61 L488.88 149.92 L490.86 149.7 L492.84 150 L494.82 149.75 L496.8 150 L498.78 149.83 L500.76 150.15 L502.74 149.97 L504.72 150.07 L506.7 150.1 L506.7 151 L504.72 151.28 L502.74 151.14 L500.76 151.15 L498.78 151.01 L496.8 150.98 L494.82 150.98 L492.84 150.99 L490.86 151.35 L488.88 151.38 L486.9 151.08 L484.92 151.46 L482.93 151.43 L480.95 151.15 L478.97 151.23 L476.99 151.18 L475.01 151.54 L473.03 151.42 L471.05 151.56 L469.07 151.58 L467.09 151.5 L465.11 151.32 L463.13 151.54 L461.15 151.24 L459.17 151.51 L457.19 151.31 L455.21 151.41 L453.23 151.45 L451.25 151.6 L449.27 151.54 L447.29 151.77 L445.31 151.83 L443.33 151.5 L441.35 151.75 L439.37 151.85 L437.38 151.94 L435.4 151.58 L433.42 151.81 L431.44 151.61 L429.46 151.77 L427.48 152.06 L425.5 151.8 L423.52 151.78 L421.54 152.03 L419.56 152.06 L417.58 151.93 L415.6 152.19Z" fill="#b89a72"/>
<path d="M479.5 150.39l3.04 0.18M467.19 150.22l2.48 -0.09M427.36 151.02l2.49 0.25M476.21 149.81l3.69 -0.36M467.37 149.77l3.61 0.04M422.27 151.78l3.16 -0.39M482.25 150.24l2.1 0.09M435.94 150.37l2.56 0.08M470.32 150.48l3.25 0.34M423.11 151.27l2.03 0.36M470.96 150.75l2.92 -0.22M468.12 150.57l3.87 -0.36M494.39 150.87l2.45 0.33M477.63 150.4l2.28 -0.29M466.11 150.57l3.78 0.27M491.3 150.82l2.69 -0.19M498.38 150.15l1.74 -0.11M421.92 150.88l3.63 -0.21M464.31 150.67l2.23 0.06M499.13 150.33l2.44 0.02M479.84 150.78l3.96 0.13M489.99 150.02l3.21 0.17M451.37 150.68l3.01 -0.1M470.81 150.52l2.47 0.02M496.69 150.48l3.93 0.03M460.43 150.53l2.1 0.17" stroke="#86643e" stroke-width="0.55" fill="none" opacity="0.8"/>
<path d="M452.8 150.5C452.76 150.71 452.62 151.32 452.57 151.73C452.52 152.15 452.48 152.56 452.49 152.98C452.51 153.39 452.65 153.82 452.66 154.24C452.68 154.65 452.59 155.06 452.58 155.48C452.56 155.9 452.56 156.31 452.58 156.73C452.61 157.15 452.78 157.59 452.71 157.99C452.64 158.39 452.56 158.88 452.16 159.13C451.76 159.38 450.76 159.12 450.29 159.48C449.82 159.85 449.68 160.87 449.36 161.32C449.03 161.77 448.74 161.96 448.35 162.19C447.97 162.42 447.43 162.46 447.05 162.68C446.66 162.91 446.36 163.15 446.03 163.51C445.71 163.87 445.38 164.39 445.09 164.85C444.79 165.3 444.38 165.66 444.28 166.24C444.18 166.81 444.59 167.8 444.5 168.3C444.4 168.79 444.06 169.01 443.7 169.22C443.33 169.43 442.72 169.39 442.31 169.55C441.91 169.72 441.54 169.92 441.24 170.2C440.95 170.48 440.8 170.92 440.55 171.23C440.29 171.53 440.06 171.78 439.71 172.03C439.37 172.28 438.85 172.39 438.5 172.72C438.14 173.04 437.94 173.68 437.56 173.98C437.19 174.27 436.77 174.41 436.25 174.47C435.72 174.53 434.88 174.16 434.42 174.32C433.95 174.48 433.71 174.99 433.45 175.42C433.19 175.85 433.13 176.48 432.85 176.88C432.58 177.29 432.01 177.46 431.8 177.83C431.59 178.21 431.66 178.7 431.58 179.12C431.49 179.55 431.51 180.01 431.28 180.39C431.05 180.77 430.5 181.01 430.19 181.41C429.88 181.81 429.45 182.25 429.41 182.77C429.36 183.29 429.89 183.97 429.92 184.52C429.96 185.07 429.81 185.6 429.6 186.07C429.38 186.54 428.87 186.89 428.61 187.34C428.35 187.79 428.32 188.32 428.04 188.78C427.76 189.25 427.11 189.65 426.91 190.12C426.71 190.59 426.72 191.09 426.83 191.61C426.94 192.13 427.61 192.74 427.58 193.24C427.56 193.73 426.85 194.37 426.7 194.6" stroke="#5473c2" stroke-width="1.15" fill="none" stroke-linejoin="round" stroke-linecap="round"/>
<path d="M454.7 150.5C454.71 150.71 454.72 151.33 454.74 151.74C454.76 152.15 454.81 152.57 454.83 152.98C454.84 153.39 454.8 153.81 454.85 154.22C454.89 154.63 455.08 155.04 455.1 155.45C455.12 155.87 455.1 156.28 454.96 156.7C454.81 157.11 454.33 157.53 454.21 157.95C454.09 158.37 454.09 158.78 454.25 159.19C454.4 159.6 454.93 160.01 455.13 160.42C455.33 160.83 455.46 161.24 455.44 161.65C455.42 162.06 455.02 162.4 455.02 162.86C455.01 163.33 455.3 163.94 455.41 164.45C455.51 164.96 455.71 165.5 455.65 165.94C455.59 166.38 455.09 166.68 455.04 167.12C454.99 167.55 455.33 168.05 455.35 168.53C455.36 169.02 455.38 169.64 455.14 170.02C454.91 170.39 454.35 170.54 453.94 170.78C453.52 171.03 452.97 171.17 452.65 171.49C452.32 171.81 452.2 172.29 452 172.7C451.8 173.12 451.64 173.57 451.45 174C451.27 174.43 450.99 174.78 450.87 175.27C450.76 175.77 450.95 176.55 450.78 176.99C450.6 177.43 450.25 177.71 449.82 177.91C449.39 178.1 448.66 177.98 448.21 178.15C447.76 178.32 447.39 178.58 447.12 178.94C446.86 179.3 446.79 179.87 446.63 180.32C446.47 180.76 446.35 181.19 446.16 181.61C445.98 182.03 445.7 182.42 445.54 182.84C445.39 183.25 445.4 183.71 445.22 184.11C445.04 184.51 444.76 184.88 444.46 185.25C444.17 185.61 443.6 185.91 443.44 186.32C443.28 186.72 443.4 187.21 443.49 187.66C443.58 188.12 443.93 188.61 443.98 189.05C444.03 189.48 443.91 189.87 443.79 190.28C443.68 190.69 443.38 191.07 443.28 191.48C443.18 191.89 443.25 192.31 443.18 192.72C443.11 193.13 442.92 193.53 442.88 193.95C442.83 194.36 442.9 194.99 442.9 195.2" stroke="#5473c2" stroke-width="1.15" fill="none" stroke-linejoin="round" stroke-linecap="round"/>
<path d="M456.6 150.5C456.64 150.71 456.76 151.32 456.85 151.73C456.95 152.14 457.08 152.54 457.18 152.95C457.28 153.36 457.46 153.75 457.45 154.18C457.44 154.61 457.2 155.08 457.13 155.52C457.06 155.96 456.88 156.41 457.04 156.81C457.19 157.21 457.76 157.53 458.05 157.91C458.34 158.28 458.68 158.64 458.77 159.05C458.86 159.47 458.65 159.94 458.6 160.38C458.56 160.81 458.48 161.24 458.5 161.66C458.51 162.08 458.69 162.48 458.69 162.9C458.69 163.32 458.52 163.77 458.48 164.19C458.45 164.62 458.34 165.07 458.49 165.47C458.65 165.87 459.16 166.23 459.43 166.61C459.7 167 460.06 167.38 460.1 167.79C460.14 168.21 459.79 168.67 459.66 169.13C459.53 169.6 459.24 170.16 459.31 170.59C459.39 171.02 459.87 171.33 460.11 171.72C460.36 172.11 460.55 172.53 460.76 172.93C460.98 173.34 461.09 173.79 461.4 174.15C461.71 174.51 462.32 174.72 462.62 175.08C462.92 175.45 463.14 175.91 463.19 176.35C463.23 176.79 462.99 177.29 462.89 177.72C462.8 178.15 462.59 178.51 462.62 178.94C462.64 179.37 462.98 179.85 463.05 180.27C463.11 180.7 463.01 181.06 463.02 181.47C463.02 181.88 463 182.32 463.08 182.73C463.16 183.15 463.41 183.54 463.47 183.96C463.53 184.37 463.56 184.8 463.45 185.23C463.34 185.65 462.93 186.08 462.82 186.5C462.71 186.92 462.64 187.33 462.78 187.74C462.91 188.16 463.43 188.57 463.63 188.99C463.83 189.4 463.98 189.81 463.97 190.23C463.95 190.64 463.64 191.06 463.54 191.47C463.44 191.89 463.41 192.3 463.38 192.71C463.36 193.13 463.39 193.54 463.39 193.96C463.39 194.37 463.4 194.99 463.4 195.2" stroke="#5473c2" stroke-width="1.15" fill="none" stroke-linejoin="round" stroke-linecap="round"/>
<path d="M457.8 150.5C457.86 150.72 458.08 151.37 458.15 151.81C458.21 152.26 458.2 152.73 458.2 153.19C458.2 153.65 458 154.15 458.13 154.58C458.27 155.02 458.71 155.39 458.98 155.79C459.26 156.2 459.66 156.58 459.76 157.02C459.85 157.46 459.57 157.97 459.55 158.45C459.54 158.92 459.44 159.45 459.66 159.85C459.88 160.25 460.53 160.51 460.87 160.86C461.21 161.21 461.37 161.6 461.71 161.94C462.04 162.28 462.48 162.58 462.88 162.9C463.28 163.21 463.88 163.42 464.09 163.83C464.3 164.24 464.15 164.84 464.14 165.36C464.12 165.88 463.9 166.47 464 166.97C464.1 167.46 464.53 167.83 464.73 168.31C464.93 168.79 464.91 169.48 465.19 169.84C465.46 170.2 465.94 170.31 466.37 170.48C466.81 170.65 467.42 170.61 467.78 170.86C468.14 171.11 468.3 171.53 468.55 171.98C468.79 172.44 468.89 173.25 469.25 173.6C469.61 173.95 470.21 173.92 470.72 174.08C471.23 174.24 471.97 174.3 472.32 174.57C472.68 174.85 472.63 175.37 472.84 175.73C473.05 176.1 473.37 176.41 473.6 176.76C473.84 177.11 474.14 177.42 474.25 177.84C474.36 178.26 474.2 178.81 474.26 179.28C474.31 179.74 474.31 180.28 474.6 180.64C474.9 181.01 475.63 181.15 476.02 181.46C476.42 181.77 476.79 182.1 476.98 182.52C477.17 182.93 477.01 183.5 477.16 183.96C477.31 184.42 477.67 184.82 477.89 185.27C478.12 185.72 478.33 186.18 478.52 186.65C478.71 187.12 478.7 187.72 479.03 188.1C479.36 188.47 480.06 188.59 480.5 188.88C480.94 189.18 481.46 189.42 481.66 189.86C481.87 190.3 481.58 191.06 481.73 191.53C481.89 192.01 482.46 192.51 482.6 192.7" stroke="#5473c2" stroke-width="1.15" fill="none" stroke-linejoin="round" stroke-linecap="round"/>
<path d="M452.7 150L457.5 150L457.1 155L455.4 159L453.9 155Z" fill="#5473c2" opacity="0.55"/>
<path d="M452.4 62.2C453.36 58.83 443.71 54.61 438 55.9C440.93 60.97 450.58 65.19 452.4 62.2Z" fill="#fff" stroke="#2a2a2a" stroke-width="0.55"/>
<path d="M451.82 61.95L439.01 56.34M450.24 61.26L448.86 58.13M450.24 61.26L447.01 62.36M447.36 60L445.97 56.9M447.36 60L444.14 61.08M444.48 58.73L442.92 56.04M444.48 58.73L441.44 59.42M441.6 57.48L439.63 55.7M441.6 57.48L438.96 57.24" stroke="#444" stroke-width="0.4" fill="none"/>
<path d="M457.1 83.8C460.97 86.95 473.77 75.43 476.2 66.6C467.17 68.09 454.37 79.62 457.1 83.8Z" fill="#fff" stroke="#2a2a2a" stroke-width="0.55"/>
<path d="M457.86 83.11L474.86 67.8M459.96 81.22L465.22 80.91M459.96 81.22L460.82 76.03M463.78 77.78L469.01 77.44M463.78 77.78L464.67 72.62M467.6 74.34L472.42 73.54M467.6 74.34L468.9 69.64M471.43 70.9L475.28 69.04M471.43 70.9L473.68 67.26" stroke="#444" stroke-width="0.4" fill="none"/>
<path d="M456.2 35.4C460.06 35.54 460.27 29.57 456.7 21.2C452.55 29.3 452.34 35.26 456.2 35.4Z" fill="#fff" stroke="#666" stroke-width="0.5"/>
<path d="M456.22 34.83L456.66 22.19M456.27 33.27L458.81 31.23M456.27 33.27L453.89 31.05M456.39 30.07L458.57 28.02M456.39 30.07L454.35 27.87M456.5 26.88L457.9 24.8M456.5 26.88L455.25 24.7" stroke="#888" stroke-width="0.4" fill="none"/>
<path d="M454.6 35.6C454.6 38.33 454.65 47.77 454.6 52C454.55 56.23 454.22 57.17 454.3 61C454.37 64.83 454.87 71.17 455.05 75C455.23 78.83 455.54 81.17 455.4 84C455.26 86.83 454.43 89.33 454.2 92C453.97 94.67 454.07 97.5 454.05 100C454.02 102.5 453.97 104.58 454.05 107C454.13 109.42 454.34 111.92 454.55 114.5C454.76 117.08 455.26 119.25 455.3 122.5C455.34 125.75 454.92 129.75 454.8 134C454.67 138.25 454.59 145.33 454.55 148C454.51 150.67 454.55 149.67 454.55 150" stroke="#000" stroke-width="4.6" fill="none" stroke-linejoin="round"/>
<path d="M452.9 42.6C453.25 39.91 450.45 38.67 445.9 39.5C449.05 41.84 451.85 43.08 452.9 42.6Z" fill="#e3141c"/>
<path d="M456.8 38.4C457.68 38.67 459.72 37.39 461.9 35.2C458.23 35.02 456.19 36.3 456.8 38.4Z" fill="#e3141c"/>
<path d="M456.9 48.8C458.61 49.47 462.41 47.15 466.4 43C459.64 42.6 455.84 44.92 456.9 48.8Z" fill="#e3141c"/>
<rect x="451.7" y="52.2" width="5.9" height="8.6" fill="#e8e030" stroke="#9a9a80" stroke-width="0.3"/>
<path d="M457.1 128.9L462.7 125.6" stroke="#222" stroke-width="0.7"/>
<path d="M452.9 113L450.4 111.6" stroke="#222" stroke-width="0.7"/>
<path d="M450.5 111.8C454.32 105.62 436.52 90.85 424.7 90.4C427.33 101.93 445.13 116.7 450.5 111.8Z" fill="#e3141c" stroke="#1a1a1a" stroke-width="0.6"/>
<path d="M449.47 110.94L426.51 91.9M447.4 109.23L446.28 102.19M447.4 109.23L440.27 109.43M443.15 105.7L442.12 98.54M443.15 105.7L435.92 106.01M438.89 102.17L437.59 95.34M438.89 102.17L431.94 102.15M434.63 98.64L432.63 92.65M434.63 98.64L428.38 97.78M430.38 95.11L427.16 90.58M430.38 95.11L425.33 92.79" stroke="#2a1808" stroke-width="0.55" fill="none" opacity="0.85"/>
<path d="M461.1 124.8C467.02 129.69 485.93 112.58 488.5 100C475.73 101.31 456.82 118.42 461.1 124.8Z" fill="#e3141c" stroke="#1a1a1a" stroke-width="0.6"/>
<path d="M462.2 123.81L486.58 101.74M464.39 121.82L472.1 121.54M464.39 121.82L465.44 114.18M468.91 117.73L476.73 117.56M468.91 117.73L469.86 109.97M473.43 113.64L480.95 113.13M473.43 113.64L474.68 106.21M477.95 109.55L484.7 108.19M477.95 109.55L479.97 102.97M482.47 105.46L487.87 102.61M482.47 105.46L485.84 100.37" stroke="#2a1808" stroke-width="0.55" fill="none" opacity="0.85"/>
<circle cx="454.1" cy="113.8" r="1.7" fill="#f0ee30"/>
<rect x="385" y="173" width="4" height="3.7" fill="#e2001a"/>
<text x="389.9" y="176" font-size="4.9" fill="#262626">3.01</text>
<rect x="385" y="177.54" width="4" height="3.7" fill="#ea3a1e"/>
<text x="389.9" y="180.54" font-size="4.9" fill="#262626">2.41</text>
<rect x="385" y="182.08" width="4" height="3.7" fill="#ee6a1e"/>
<text x="389.9" y="185.08" font-size="4.9" fill="#262626">1.8</text>
<rect x="385" y="186.62" width="4" height="3.7" fill="#f29a22"/>
<text x="389.9" y="189.62" font-size="4.9" fill="#262626">1.2</text>
<rect x="385" y="191.16" width="4" height="3.7" fill="#f5c523"/>
<text x="389.9" y="194.16" font-size="4.9" fill="#262626">0.6</text>
<rect x="385" y="195.7" width="4" height="3.7" fill="#f4ec2a"/>
<text x="389.9" y="198.7" font-size="4.9" fill="#262626">0</text>
<rect x="385" y="200.24" width="4" height="3.7" fill="#c2c636"/>
<text x="389.9" y="203.24" font-size="4.9" fill="#262626">-0.6</text>
<rect x="385" y="204.78" width="4" height="3.7" fill="#9a9c60"/>
<text x="389.9" y="207.78" font-size="4.9" fill="#262626">-1.2</text>
<rect x="385" y="209.32" width="4" height="3.7" fill="#5a6494"/>
<text x="389.9" y="212.32" font-size="4.9" fill="#262626">-1.8</text>
<rect x="385" y="213.86" width="4" height="3.7" fill="#2e4496"/>
<text x="389.9" y="216.86" font-size="4.9" fill="#262626">-2.41</text>
<rect x="385" y="218.4" width="4" height="3.7" fill="#1c3e9c"/>
<text x="389.9" y="221.4" font-size="4.9" fill="#262626">-3.01</text>
<path d="M411.8 227.5V317H501.8" stroke="#8a8a8a" stroke-width="0.75" fill="none"/>
<path d="M409.7 317H411.8" stroke="#8a8a8a" stroke-width="0.7"/>
<text x="409" y="319.75" font-size="7.3" text-anchor="end" fill="#262626">0</text>
<path d="M409.7 287.17H411.8" stroke="#8a8a8a" stroke-width="0.7"/>
<text x="409" y="289.92" font-size="7.3" text-anchor="end" fill="#262626">20</text>
<path d="M409.7 257.33H411.8" stroke="#8a8a8a" stroke-width="0.7"/>
<text x="409" y="260.08" font-size="7.3" text-anchor="end" fill="#262626">40</text>
<path d="M409.7 227.5H411.8" stroke="#8a8a8a" stroke-width="0.7"/>
<text x="409" y="230.25" font-size="7.3" text-anchor="end" fill="#262626">60</text>
<path d="M438 317V318.6" stroke="#8a8a8a" stroke-width="0.7"/>
<path d="M476.1 317V318.6" stroke="#8a8a8a" stroke-width="0.7"/>
<text transform="translate(396.9 272.95) rotate(-90)" font-size="7.55" text-anchor="middle" fill="#262626">Relative expression level</text>
<rect x="425.4" y="315.51" width="25.6" height="1.49" fill="#f0801e" stroke="#c86010" stroke-width="0.4"/>
<path d="M438.2 315.51V315.06M432 315.06H444.4" stroke="#808080" stroke-width="0.75" fill="none"/>
<rect x="463.4" y="248.98" width="25.6" height="68.02" fill="#35ab37" stroke="#208a22" stroke-width="0.4"/>
<path d="M476.2 248.98V239.28M470 239.28H482.4" stroke="#808080" stroke-width="0.75" fill="none"/>
<text x="476.2" y="240.88" font-size="8" font-weight="bold" text-anchor="middle" fill="#444">**</text>
<rect x="414.3" y="230.7" width="10" height="4.8" fill="#f0801e"/>
<rect x="414.3" y="242.5" width="10" height="4.8" fill="#35ab37"/>
<text x="429.3" y="235.6" font-size="7.3" fill="#262626">Roots</text>
<text x="429.3" y="247.4" font-size="7.3" fill="#262626">Leaves</text>
<text x="100" y="350.8" font-size="7.35" fill="#262626">Young leaves</text>
<text x="89.2" y="367.4" font-size="7.35" fill="#262626">Internode</text>
<text x="65.6" y="430.5" font-size="7.35" fill="#262626">Node</text>
<text x="95.4" y="444.2" font-size="7.35" fill="#262626">Mature leaves</text>
<text x="104.6" y="481" font-size="7.35" fill="#262626">Roots</text>
<text x="83.6" y="328.8" font-size="7.5" font-style="italic" text-anchor="middle" fill="#262626">PtrAPX5</text>
<path d="M44.9 461.18 L46.88 461.25 L48.86 461.03 L50.84 460.8 L52.82 460.66 L54.8 460.6 L56.78 460.62 L58.76 460.24 L60.74 460 L62.72 460.25 L64.7 459.78 L66.68 459.69 L68.67 459.8 L70.65 459.55 L72.63 459.54 L74.61 459.22 L76.59 459.1 L78.57 459.27 L80.55 459.18 L82.53 458.68 L84.51 458.59 L86.49 458.54 L88.47 458.99 L90.45 458.75 L92.43 459.08 L94.41 458.76 L96.39 459.08 L98.37 458.93 L100.35 459.05 L102.33 459.48 L104.31 459.47 L106.29 459.22 L108.27 459.24 L110.25 459.38 L112.23 459.72 L114.22 459.77 L116.2 459.49 L118.18 459.52 L120.16 459.87 L122.14 459.82 L124.12 459.85 L126.1 460.09 L128.08 459.82 L130.06 459.94 L132.04 460.14 L134.02 460.35 L136 460.17 L136 461.3 L134.02 460.88 L132.04 461.28 L130.06 461.28 L128.08 461.19 L126.1 461.32 L124.12 461.07 L122.14 461.29 L120.16 461.12 L118.18 461.09 L116.2 461.35 L114.22 460.96 L112.23 461.47 L110.25 461.14 L108.27 461.07 L106.29 461.07 L104.31 461.05 L102.33 461.15 L100.35 461.57 L98.37 461.38 L96.39 461.52 L94.41 461.61 L92.43 461.29 L90.45 461.3 L88.47 461.47 L86.49 461.36 L84.51 461.68 L82.53 461.77 L80.55 461.46 L78.57 461.81 L76.59 461.63 L74.61 461.67 L72.63 461.88 L70.65 461.58 L68.67 461.93 L66.68 461.81 L64.7 461.81 L62.72 461.86 L60.74 461.58 L58.76 461.9 L56.78 461.83 L54.8 462.02 L52.82 461.88 L50.84 462.13 L48.86 462.16 L46.88 462.01 L44.9 462.11Z" fill="#b89a72"/>
<path d="M62.15 461.22l3.67 0.12M83.26 460.62l3.24 -0.28M74.64 460.93l3.54 0.39M86.62 460.02l3.32 -0.28M64.13 460.95l1.94 0.17M93.85 460.08l3.99 0.04M58.66 461.43l3.55 -0.02M111.67 460.45l3.27 -0.18M53.18 460.91l2.99 -0.15M74.92 460.82l2.27 0.13M51.57 461.58l3.53 0.07M102.58 460.42l3.12 0.35M112.85 460.8l3.84 0.28M92.3 460.62l1.83 -0.01M55.04 460.92l3.71 -0.06M58.58 461.25l3.82 0.29M55.2 461.19l2.18 -0.31M92.78 460.33l3.73 0.23M95.91 460.69l2.24 -0.06M129.46 460.45l2.12 0.05M78.92 460.64l3.78 -0.07M123.01 460.29l3.13 0.23M74.63 460.46l1.68 -0.4M65.84 461.25l1.63 -0.11M109.66 459.92l2.19 0.2M84.74 460.12l3.9 0.06" stroke="#86643e" stroke-width="0.55" fill="none" opacity="0.8"/>
<path d="M82.1 460.5C82.06 460.71 81.92 461.32 81.87 461.73C81.82 462.15 81.78 462.56 81.79 462.98C81.81 463.39 81.95 463.82 81.96 464.24C81.98 464.65 81.89 465.06 81.88 465.48C81.86 465.9 81.86 466.31 81.88 466.73C81.91 467.15 82.08 467.59 82.01 467.99C81.94 468.39 81.86 468.88 81.46 469.13C81.06 469.38 80.06 469.12 79.59 469.48C79.12 469.85 78.98 470.87 78.66 471.32C78.33 471.77 78.04 471.96 77.65 472.19C77.27 472.42 76.73 472.46 76.35 472.68C75.96 472.91 75.66 473.15 75.33 473.51C75.01 473.87 74.68 474.39 74.39 474.85C74.09 475.3 73.68 475.66 73.58 476.24C73.48 476.81 73.89 477.8 73.8 478.3C73.7 478.79 73.36 479.01 73 479.22C72.63 479.43 72.02 479.39 71.61 479.55C71.21 479.72 70.84 479.92 70.54 480.2C70.25 480.48 70.1 480.92 69.85 481.23C69.59 481.53 69.36 481.78 69.01 482.03C68.67 482.28 68.15 482.39 67.8 482.72C67.44 483.04 67.24 483.68 66.86 483.98C66.49 484.27 66.07 484.41 65.55 484.47C65.02 484.53 64.18 484.16 63.72 484.32C63.25 484.48 63.01 484.99 62.75 485.42C62.49 485.85 62.43 486.48 62.15 486.88C61.88 487.29 61.31 487.46 61.1 487.83C60.89 488.21 60.96 488.7 60.88 489.12C60.79 489.55 60.81 490.01 60.58 490.39C60.35 490.77 59.8 491.01 59.49 491.41C59.18 491.81 58.75 492.25 58.71 492.77C58.66 493.29 59.19 493.97 59.22 494.52C59.26 495.07 59.11 495.6 58.9 496.07C58.68 496.54 58.17 496.89 57.91 497.34C57.65 497.79 57.62 498.32 57.34 498.78C57.06 499.25 56.41 499.65 56.21 500.12C56.01 500.59 56.02 501.09 56.13 501.61C56.24 502.13 56.91 502.74 56.88 503.24C56.86 503.73 56.15 504.37 56 504.6" stroke="#d4d484" stroke-width="1.15" fill="none" stroke-linejoin="round" stroke-linecap="round"/>
<path d="M84 460.5C84.01 460.71 84.02 461.33 84.04 461.74C84.06 462.15 84.11 462.57 84.13 462.98C84.14 463.39 84.1 463.81 84.15 464.22C84.19 464.63 84.38 465.04 84.4 465.45C84.42 465.87 84.4 466.28 84.26 466.7C84.11 467.11 83.63 467.53 83.51 467.95C83.39 468.37 83.39 468.78 83.55 469.19C83.7 469.6 84.23 470.01 84.43 470.42C84.63 470.83 84.76 471.24 84.74 471.65C84.72 472.06 84.32 472.4 84.32 472.86C84.31 473.33 84.6 473.94 84.71 474.45C84.81 474.96 85.01 475.5 84.95 475.94C84.89 476.38 84.39 476.68 84.34 477.12C84.29 477.55 84.63 478.05 84.65 478.53C84.66 479.02 84.68 479.64 84.44 480.02C84.21 480.39 83.65 480.54 83.24 480.78C82.82 481.03 82.27 481.17 81.95 481.49C81.62 481.81 81.5 482.29 81.3 482.7C81.1 483.12 80.94 483.57 80.75 484C80.57 484.43 80.29 484.78 80.17 485.27C80.06 485.77 80.25 486.55 80.08 486.99C79.9 487.43 79.55 487.71 79.12 487.91C78.69 488.1 77.96 487.98 77.51 488.15C77.06 488.32 76.69 488.58 76.42 488.94C76.16 489.3 76.09 489.87 75.93 490.32C75.77 490.76 75.65 491.19 75.46 491.61C75.28 492.03 75 492.42 74.84 492.84C74.69 493.25 74.7 493.71 74.52 494.11C74.34 494.51 74.06 494.88 73.76 495.25C73.47 495.61 72.9 495.91 72.74 496.32C72.58 496.72 72.7 497.21 72.79 497.66C72.88 498.12 73.23 498.61 73.28 499.05C73.33 499.48 73.21 499.87 73.09 500.28C72.98 500.69 72.68 501.07 72.58 501.48C72.48 501.89 72.55 502.31 72.48 502.72C72.41 503.13 72.22 503.53 72.18 503.95C72.13 504.36 72.2 504.99 72.2 505.2" stroke="#d4d484" stroke-width="1.15" fill="none" stroke-linejoin="round" stroke-linecap="round"/>
<path d="M85.9 460.5C85.94 460.71 86.06 461.32 86.15 461.73C86.25 462.14 86.38 462.54 86.48 462.95C86.58 463.36 86.76 463.75 86.75 464.18C86.74 464.61 86.5 465.08 86.43 465.52C86.36 465.96 86.18 466.41 86.34 466.81C86.49 467.21 87.06 467.53 87.35 467.91C87.64 468.28 87.98 468.64 88.07 469.05C88.16 469.47 87.95 469.94 87.9 470.38C87.86 470.81 87.78 471.24 87.8 471.66C87.81 472.08 87.99 472.48 87.99 472.9C87.99 473.32 87.82 473.77 87.78 474.19C87.75 474.62 87.64 475.07 87.79 475.47C87.95 475.87 88.46 476.23 88.73 476.61C89 477 89.36 477.38 89.4 477.79C89.44 478.21 89.09 478.67 88.96 479.13C88.83 479.6 88.54 480.16 88.61 480.59C88.69 481.02 89.17 481.33 89.41 481.72C89.66 482.11 89.85 482.53 90.06 482.93C90.28 483.34 90.39 483.79 90.7 484.15C91.01 484.51 91.62 484.72 91.92 485.08C92.22 485.45 92.44 485.91 92.49 486.35C92.53 486.79 92.29 487.29 92.19 487.72C92.1 488.15 91.89 488.51 91.92 488.94C91.94 489.37 92.28 489.85 92.35 490.27C92.41 490.7 92.31 491.06 92.32 491.47C92.32 491.88 92.3 492.32 92.38 492.73C92.46 493.15 92.71 493.54 92.77 493.96C92.83 494.37 92.86 494.8 92.75 495.23C92.64 495.65 92.23 496.08 92.12 496.5C92.01 496.92 91.94 497.33 92.08 497.74C92.21 498.16 92.73 498.57 92.93 498.99C93.13 499.4 93.28 499.81 93.27 500.23C93.25 500.64 92.94 501.06 92.84 501.47C92.74 501.89 92.71 502.3 92.68 502.71C92.66 503.13 92.69 503.54 92.69 503.96C92.69 504.37 92.7 504.99 92.7 505.2" stroke="#d4d484" stroke-width="1.15" fill="none" stroke-linejoin="round" stroke-linecap="round"/>
<path d="M87.1 460.5C87.16 460.72 87.38 461.37 87.45 461.81C87.51 462.26 87.5 462.73 87.5 463.19C87.5 463.65 87.3 464.15 87.43 464.58C87.57 465.02 88.01 465.39 88.28 465.79C88.56 466.2 88.96 466.58 89.06 467.02C89.15 467.46 88.87 467.97 88.85 468.45C88.84 468.92 88.74 469.45 88.96 469.85C89.18 470.25 89.83 470.51 90.17 470.86C90.51 471.21 90.67 471.6 91.01 471.94C91.34 472.28 91.78 472.58 92.18 472.9C92.58 473.21 93.18 473.42 93.39 473.83C93.6 474.24 93.45 474.84 93.44 475.36C93.42 475.88 93.2 476.47 93.3 476.97C93.4 477.46 93.83 477.83 94.03 478.31C94.23 478.79 94.21 479.48 94.49 479.84C94.76 480.2 95.24 480.31 95.67 480.48C96.11 480.65 96.72 480.61 97.08 480.86C97.44 481.11 97.6 481.53 97.85 481.98C98.09 482.44 98.19 483.25 98.55 483.6C98.91 483.95 99.51 483.92 100.02 484.08C100.53 484.24 101.27 484.3 101.62 484.57C101.98 484.85 101.93 485.37 102.14 485.73C102.35 486.1 102.67 486.41 102.9 486.76C103.14 487.11 103.44 487.42 103.55 487.84C103.66 488.26 103.5 488.81 103.56 489.28C103.61 489.74 103.61 490.28 103.9 490.64C104.2 491.01 104.93 491.15 105.32 491.46C105.72 491.77 106.09 492.1 106.28 492.52C106.47 492.93 106.31 493.5 106.46 493.96C106.61 494.42 106.97 494.82 107.19 495.27C107.42 495.72 107.63 496.18 107.82 496.65C108.01 497.12 108 497.72 108.33 498.1C108.66 498.47 109.36 498.59 109.8 498.88C110.24 499.18 110.76 499.42 110.96 499.86C111.17 500.3 110.88 501.06 111.03 501.53C111.19 502.01 111.76 502.51 111.9 502.7" stroke="#d4d484" stroke-width="1.15" fill="none" stroke-linejoin="round" stroke-linecap="round"/>
<path d="M82 460L86.8 460L86.4 465L84.7 469L83.2 465Z" fill="#d4d484" opacity="0.55"/>
<path d="M81.7 372.2C82.66 368.83 73.01 364.61 67.3 365.9C70.23 370.97 79.88 375.19 81.7 372.2Z" fill="#fff" stroke="#2a2a2a" stroke-width="0.55"/>
<path d="M81.12 371.95L68.31 366.34M79.54 371.25L78.16 368.13M79.54 371.25L76.31 372.36M76.66 370L75.27 366.9M76.66 370L73.44 371.08M73.78 368.73L72.22 366.04M73.78 368.73L70.74 369.42M70.9 367.47L68.93 365.7M70.9 367.47L68.26 367.24" stroke="#444" stroke-width="0.4" fill="none"/>
<path d="M86.4 393.8C90.27 396.95 103.07 385.43 105.5 376.6C96.47 378.09 83.67 389.62 86.4 393.8Z" fill="#fff" stroke="#2a2a2a" stroke-width="0.55"/>
<path d="M87.16 393.11L104.16 377.8M89.27 391.22L94.52 390.91M89.27 391.22L90.12 386.03M93.09 387.78L98.31 387.44M93.09 387.78L93.97 382.62M96.91 384.34L101.72 383.54M96.91 384.34L98.2 379.64M100.73 380.9L104.58 379.04M100.73 380.9L102.98 377.26" stroke="#444" stroke-width="0.4" fill="none"/>
<path d="M85.5 345.4C89.36 345.54 89.57 339.57 86 331.2C81.85 339.3 81.64 345.26 85.5 345.4Z" fill="#fff" stroke="#666" stroke-width="0.5"/>
<path d="M85.52 344.83L85.97 332.19M85.58 343.27L88.11 341.23M85.58 343.27L83.19 341.05M85.69 340.07L87.87 338.02M85.69 340.07L83.65 337.87M85.8 336.88L87.2 334.8M85.8 336.88L84.55 334.7" stroke="#888" stroke-width="0.4" fill="none"/>
<path d="M83.9 345.6C83.9 348.33 83.95 357.77 83.9 362C83.85 366.23 83.53 367.17 83.6 371C83.68 374.83 84.17 381.17 84.35 385C84.53 388.83 84.84 391.17 84.7 394C84.56 396.83 83.72 399.33 83.5 402C83.28 404.67 83.38 407.5 83.35 410C83.33 412.5 83.27 414.58 83.35 417C83.43 419.42 83.64 421.92 83.85 424.5C84.06 427.08 84.56 429.25 84.6 432.5C84.64 435.75 84.23 439.75 84.1 444C83.98 448.25 83.89 455.33 83.85 458C83.81 460.67 83.85 459.67 83.85 460" stroke="#000" stroke-width="4.6" fill="none" stroke-linejoin="round"/>
<path d="M82.2 352.6C82.55 349.91 79.75 348.67 75.2 349.5C78.35 351.84 81.15 353.08 82.2 352.6Z" fill="#e3141c"/>
<path d="M86.1 348.4C86.98 348.67 89.02 347.39 91.2 345.2C87.53 345.02 85.49 346.3 86.1 348.4Z" fill="#e3141c"/>
<path d="M86.2 358.8C87.91 359.47 91.71 357.15 95.7 353C88.94 352.6 85.14 354.92 86.2 358.8Z" fill="#e3141c"/>
<rect x="81" y="362.2" width="5.9" height="8.6" fill="#eee030" stroke="#9a9a80" stroke-width="0.3"/>
<path d="M86.4 438.9L92 435.6" stroke="#222" stroke-width="0.7"/>
<path d="M82.2 423L79.7 421.6" stroke="#222" stroke-width="0.7"/>
<path d="M79.8 421.8C83.62 415.62 65.82 400.85 54 400.4C56.63 411.93 74.43 426.7 79.8 421.8Z" fill="#e3141c" stroke="#1a1a1a" stroke-width="0.6"/>
<path d="M78.77 420.94L55.81 401.9M76.7 419.23L75.58 412.19M76.7 419.23L69.57 419.43M72.45 415.7L71.42 408.54M72.45 415.7L65.22 416.01M68.19 412.17L66.89 405.34M68.19 412.17L61.24 412.15M63.93 408.64L61.93 402.65M63.93 408.64L57.68 407.78M59.68 405.11L56.46 400.58M59.68 405.11L54.63 402.79" stroke="#2a1808" stroke-width="0.55" fill="none" opacity="0.85"/>
<path d="M90.4 434.8C96.32 439.69 115.23 422.58 117.8 410C105.03 411.31 86.12 428.42 90.4 434.8Z" fill="#e3141c" stroke="#1a1a1a" stroke-width="0.6"/>
<path d="M91.5 433.81L115.88 411.74M93.69 431.82L101.4 431.54M93.69 431.82L94.74 424.18M98.21 427.73L106.03 427.56M98.21 427.73L99.16 419.97M102.73 423.64L110.25 423.13M102.73 423.64L103.98 416.21M107.25 419.55L114 418.19M107.25 419.55L109.27 412.97M111.77 415.46L117.17 412.61M111.77 415.46L115.14 410.37" stroke="#2a1808" stroke-width="0.55" fill="none" opacity="0.85"/>
<circle cx="83.4" cy="423.8" r="1.7" fill="#2040a0"/>
<rect x="14.2" y="482.5" width="4" height="3.7" fill="#e2001a"/>
<text x="19.1" y="485.5" font-size="4.9" fill="#262626">0.95</text>
<rect x="14.2" y="487.04" width="4" height="3.7" fill="#ea3a1e"/>
<text x="19.1" y="490.04" font-size="4.9" fill="#262626">0.76</text>
<rect x="14.2" y="491.58" width="4" height="3.7" fill="#ee6a1e"/>
<text x="19.1" y="494.58" font-size="4.9" fill="#262626">0.57</text>
<rect x="14.2" y="496.12" width="4" height="3.7" fill="#f29a22"/>
<text x="19.1" y="499.12" font-size="4.9" fill="#262626">0.38</text>
<rect x="14.2" y="500.66" width="4" height="3.7" fill="#f5c523"/>
<text x="19.1" y="503.66" font-size="4.9" fill="#262626">0.19</text>
<rect x="14.2" y="505.2" width="4" height="3.7" fill="#f4ec2a"/>
<text x="19.1" y="508.2" font-size="4.9" fill="#262626">0</text>
<rect x="14.2" y="509.74" width="4" height="3.7" fill="#c2c636"/>
<text x="19.1" y="512.74" font-size="4.9" fill="#262626">-0.19</text>
<rect x="14.2" y="514.28" width="4" height="3.7" fill="#9a9c60"/>
<text x="19.1" y="517.28" font-size="4.9" fill="#262626">-0.38</text>
<rect x="14.2" y="518.82" width="4" height="3.7" fill="#5a6494"/>
<text x="19.1" y="521.82" font-size="4.9" fill="#262626">-0.57</text>
<rect x="14.2" y="523.36" width="4" height="3.7" fill="#2e4496"/>
<text x="19.1" y="526.36" font-size="4.9" fill="#262626">-0.76</text>
<rect x="14.2" y="527.9" width="4" height="3.7" fill="#1c3e9c"/>
<text x="19.1" y="530.9" font-size="4.9" fill="#262626">-0.95</text>
<path d="M43.5 538.2V627.7H133.5" stroke="#8a8a8a" stroke-width="0.75" fill="none"/>
<path d="M41.4 627.7H43.5" stroke="#8a8a8a" stroke-width="0.7"/>
<text x="40.7" y="630.45" font-size="7.3" text-anchor="end" fill="#262626">0.0</text>
<path d="M41.4 605.33H43.5" stroke="#8a8a8a" stroke-width="0.7"/>
<text x="40.7" y="608.08" font-size="7.3" text-anchor="end" fill="#262626">0.5</text>
<path d="M41.4 582.95H43.5" stroke="#8a8a8a" stroke-width="0.7"/>
<text x="40.7" y="585.7" font-size="7.3" text-anchor="end" fill="#262626">1.0</text>
<path d="M41.4 560.58H43.5" stroke="#8a8a8a" stroke-width="0.7"/>
<text x="40.7" y="563.33" font-size="7.3" text-anchor="end" fill="#262626">1.5</text>
<path d="M41.4 538.2H43.5" stroke="#8a8a8a" stroke-width="0.7"/>
<text x="40.7" y="540.95" font-size="7.3" text-anchor="end" fill="#262626">2.0</text>
<path d="M69.7 627.7V629.3" stroke="#8a8a8a" stroke-width="0.7"/>
<path d="M107.8 627.7V629.3" stroke="#8a8a8a" stroke-width="0.7"/>
<text transform="translate(26.8 583.65) rotate(-90)" font-size="7.55" text-anchor="middle" fill="#262626">Relative expression level</text>
<rect x="57.1" y="582.95" width="25.6" height="44.75" fill="#f0801e" stroke="#c86010" stroke-width="0.4"/>
<path d="M69.9 582.95V578.48M63.7 578.48H76.1" stroke="#808080" stroke-width="0.75" fill="none"/>
<rect x="95.1" y="579.82" width="25.6" height="47.88" fill="#35ab37" stroke="#208a22" stroke-width="0.4"/>
<path d="M107.9 579.82V576.24M101.7 576.24H114.1" stroke="#808080" stroke-width="0.75" fill="none"/>
<rect x="91.8" y="541.7" width="10" height="4.8" fill="#f0801e"/>
<rect x="91.8" y="553.5" width="10" height="4.8" fill="#35ab37"/>
<text x="106.8" y="546.6" font-size="7.3" fill="#262626">Roots</text>
<text x="106.8" y="558.4" font-size="7.3" fill="#262626">Leaves</text>
<text x="223.2" y="350.8" font-size="7.35" fill="#262626">Young leaves</text>
<text x="212.8" y="367.4" font-size="7.35" fill="#262626">Internode</text>
<text x="187.6" y="430.5" font-size="7.35" fill="#262626">Node</text>
<text x="222" y="444.2" font-size="7.35" fill="#262626">Mature leaves</text>
<text x="230.3" y="481" font-size="7.35" fill="#262626">Roots</text>
<text x="204.7" y="328.8" font-size="7.5" font-style="italic" text-anchor="middle" fill="#262626">PtrAPX6</text>
<path d="M168.2 461.26 L170.18 461.06 L172.16 460.8 L174.14 460.73 L176.12 460.59 L178.1 460.57 L180.08 460.54 L182.06 460.27 L184.04 460.01 L186.02 460.12 L188 460.02 L189.98 459.82 L191.97 459.91 L193.95 459.53 L195.93 459.42 L197.91 459.47 L199.89 459.11 L201.87 459.04 L203.85 458.79 L205.83 459.01 L207.81 458.8 L209.79 458.88 L211.77 459.07 L213.75 459.09 L215.73 458.99 L217.71 459.25 L219.69 459.01 L221.67 459.09 L223.65 459 L225.63 459.4 L227.61 459.51 L229.59 459.15 L231.57 459.31 L233.55 459.69 L235.53 459.39 L237.52 459.71 L239.5 459.81 L241.48 459.82 L243.46 459.71 L245.44 459.82 L247.42 459.71 L249.4 459.76 L251.38 459.92 L253.36 460.14 L255.34 459.97 L257.32 460.12 L259.3 460.19 L259.3 460.92 L257.32 461.17 L255.34 460.99 L253.36 461.27 L251.38 461.14 L249.4 461.11 L247.42 461.14 L245.44 461.18 L243.46 460.93 L241.48 461.21 L239.5 461.31 L237.52 461.18 L235.53 461.43 L233.55 461.48 L231.57 461.31 L229.59 461.39 L227.61 461.11 L225.63 461.48 L223.65 461.2 L221.67 461.22 L219.69 461.45 L217.71 461.6 L215.73 461.29 L213.75 461.53 L211.77 461.37 L209.79 461.69 L207.81 461.47 L205.83 461.29 L203.85 461.38 L201.87 461.79 L199.89 461.73 L197.91 461.71 L195.93 461.52 L193.95 461.49 L191.97 461.69 L189.98 461.84 L188 461.58 L186.02 461.53 L184.04 461.7 L182.06 462.01 L180.08 461.99 L178.1 461.72 L176.12 461.74 L174.14 461.97 L172.16 461.99 L170.18 461.99 L168.2 462.21Z" fill="#b89a72"/>
<path d="M218.97 460.51l2.87 0.01M229.05 459.87l2.98 -0.25M202.64 460.29l1.87 0.36M189.04 460.4l3.07 0.37M219.59 460.1l2.45 0.12M212.31 460.53l2.15 0.31M229.61 460.18l3.48 0.18M193.18 460.73l2.73 0.21M194.62 460.7l3.99 0.39M196.76 460.46l2.61 -0.36M225.36 459.83l3.98 0.26M211.55 459.94l3.44 0.27M224.67 460.42l1.97 0.23M195.61 460.85l1.6 0.11M187.28 460.86l1.74 -0.34M232.19 460.33l3.02 -0.27M226.7 460.55l2.17 -0.07M221.22 460.19l3.26 -0.28M219.05 459.86l2.23 0.17M243.95 460.03l3.89 -0.16M224.29 459.97l1.91 -0.11M221.11 459.91l2.36 0.31M182.05 461.01l1.62 -0.21M196.17 460.23l3.72 -0.03M218.6 459.73l3.41 -0.16M239.65 460.07l2.67 -0.33" stroke="#86643e" stroke-width="0.55" fill="none" opacity="0.8"/>
<path d="M205.4 460.5C205.36 460.71 205.22 461.32 205.17 461.73C205.12 462.15 205.08 462.56 205.09 462.98C205.11 463.39 205.25 463.82 205.26 464.24C205.28 464.65 205.19 465.06 205.18 465.48C205.16 465.9 205.16 466.31 205.18 466.73C205.21 467.15 205.38 467.59 205.31 467.99C205.24 468.39 205.16 468.88 204.76 469.13C204.36 469.38 203.36 469.12 202.89 469.48C202.42 469.85 202.28 470.87 201.96 471.32C201.63 471.77 201.34 471.96 200.95 472.19C200.57 472.42 200.03 472.46 199.65 472.68C199.26 472.91 198.96 473.15 198.63 473.51C198.31 473.87 197.98 474.39 197.69 474.85C197.39 475.3 196.98 475.66 196.88 476.24C196.78 476.81 197.19 477.8 197.1 478.3C197 478.79 196.66 479.01 196.3 479.22C195.93 479.43 195.32 479.39 194.91 479.55C194.51 479.72 194.14 479.92 193.84 480.2C193.55 480.48 193.4 480.92 193.15 481.23C192.89 481.53 192.66 481.78 192.31 482.03C191.97 482.28 191.45 482.39 191.1 482.72C190.74 483.04 190.54 483.68 190.16 483.98C189.79 484.27 189.37 484.41 188.85 484.47C188.32 484.53 187.48 484.16 187.02 484.32C186.55 484.48 186.31 484.99 186.05 485.42C185.79 485.85 185.73 486.48 185.45 486.88C185.18 487.29 184.61 487.46 184.4 487.83C184.19 488.21 184.26 488.7 184.18 489.12C184.09 489.55 184.11 490.01 183.88 490.39C183.65 490.77 183.1 491.01 182.79 491.41C182.48 491.81 182.05 492.25 182.01 492.77C181.96 493.29 182.49 493.97 182.52 494.52C182.56 495.07 182.41 495.6 182.2 496.07C181.98 496.54 181.47 496.89 181.21 497.34C180.95 497.79 180.92 498.32 180.64 498.78C180.36 499.25 179.71 499.65 179.51 500.12C179.31 500.59 179.32 501.09 179.43 501.61C179.54 502.13 180.21 502.74 180.18 503.24C180.16 503.73 179.45 504.37 179.3 504.6" stroke="#e8683a" stroke-width="1.15" fill="none" stroke-linejoin="round" stroke-linecap="round"/>
<path d="M207.3 460.5C207.31 460.71 207.32 461.33 207.34 461.74C207.36 462.15 207.41 462.57 207.43 462.98C207.44 463.39 207.4 463.81 207.45 464.22C207.49 464.63 207.68 465.04 207.7 465.45C207.72 465.87 207.7 466.28 207.56 466.7C207.41 467.11 206.93 467.53 206.81 467.95C206.69 468.37 206.69 468.78 206.85 469.19C207 469.6 207.53 470.01 207.73 470.42C207.93 470.83 208.06 471.24 208.04 471.65C208.02 472.06 207.62 472.4 207.62 472.86C207.61 473.33 207.9 473.94 208.01 474.45C208.11 474.96 208.31 475.5 208.25 475.94C208.19 476.38 207.69 476.68 207.64 477.12C207.59 477.55 207.93 478.05 207.95 478.53C207.96 479.02 207.98 479.64 207.74 480.02C207.51 480.39 206.95 480.54 206.54 480.78C206.12 481.03 205.57 481.17 205.25 481.49C204.92 481.81 204.8 482.29 204.6 482.7C204.4 483.12 204.24 483.57 204.05 484C203.87 484.43 203.59 484.78 203.47 485.27C203.36 485.77 203.55 486.55 203.38 486.99C203.2 487.43 202.85 487.71 202.42 487.91C201.99 488.1 201.26 487.98 200.81 488.15C200.36 488.32 199.99 488.58 199.72 488.94C199.46 489.3 199.39 489.87 199.23 490.32C199.07 490.76 198.95 491.19 198.76 491.61C198.58 492.03 198.3 492.42 198.14 492.84C197.99 493.25 198 493.71 197.82 494.11C197.64 494.51 197.36 494.88 197.06 495.25C196.77 495.61 196.2 495.91 196.04 496.32C195.88 496.72 196 497.21 196.09 497.66C196.18 498.12 196.53 498.61 196.58 499.05C196.63 499.48 196.51 499.87 196.39 500.28C196.28 500.69 195.98 501.07 195.88 501.48C195.78 501.89 195.85 502.31 195.78 502.72C195.71 503.13 195.52 503.53 195.48 503.95C195.43 504.36 195.5 504.99 195.5 505.2" stroke="#e8683a" stroke-width="1.15" fill="none" stroke-linejoin="round" stroke-linecap="round"/>
<path d="M209.2 460.5C209.24 460.71 209.36 461.32 209.45 461.73C209.55 462.14 209.68 462.54 209.78 462.95C209.88 463.36 210.06 463.75 210.05 464.18C210.04 464.61 209.8 465.08 209.73 465.52C209.66 465.96 209.48 466.41 209.64 466.81C209.79 467.21 210.36 467.53 210.65 467.91C210.94 468.28 211.28 468.64 211.37 469.05C211.46 469.47 211.25 469.94 211.2 470.38C211.16 470.81 211.08 471.24 211.1 471.66C211.11 472.08 211.29 472.48 211.29 472.9C211.29 473.32 211.12 473.77 211.08 474.19C211.05 474.62 210.94 475.07 211.09 475.47C211.25 475.87 211.76 476.23 212.03 476.61C212.3 477 212.66 477.38 212.7 477.79C212.74 478.21 212.39 478.67 212.26 479.13C212.13 479.6 211.84 480.16 211.91 480.59C211.99 481.02 212.47 481.33 212.71 481.72C212.96 482.11 213.15 482.53 213.36 482.93C213.58 483.34 213.69 483.79 214 484.15C214.31 484.51 214.92 484.72 215.22 485.08C215.52 485.45 215.74 485.91 215.79 486.35C215.83 486.79 215.59 487.29 215.49 487.72C215.4 488.15 215.19 488.51 215.22 488.94C215.24 489.37 215.58 489.85 215.65 490.27C215.71 490.7 215.61 491.06 215.62 491.47C215.62 491.88 215.6 492.32 215.68 492.73C215.76 493.15 216.01 493.54 216.07 493.96C216.13 494.37 216.16 494.8 216.05 495.23C215.94 495.65 215.53 496.08 215.42 496.5C215.31 496.92 215.24 497.33 215.38 497.74C215.51 498.16 216.03 498.57 216.23 498.99C216.43 499.4 216.58 499.81 216.57 500.23C216.55 500.64 216.24 501.06 216.14 501.47C216.04 501.89 216.01 502.3 215.98 502.71C215.96 503.13 215.99 503.54 215.99 503.96C215.99 504.37 216 504.99 216 505.2" stroke="#e8683a" stroke-width="1.15" fill="none" stroke-linejoin="round" stroke-linecap="round"/>
<path d="M210.4 460.5C210.46 460.72 210.68 461.37 210.75 461.81C210.81 462.26 210.8 462.73 210.8 463.19C210.8 463.65 210.6 464.15 210.73 464.58C210.87 465.02 211.31 465.39 211.58 465.79C211.86 466.2 212.26 466.58 212.36 467.02C212.45 467.46 212.17 467.97 212.15 468.45C212.14 468.92 212.04 469.45 212.26 469.85C212.48 470.25 213.13 470.51 213.47 470.86C213.81 471.21 213.97 471.6 214.31 471.94C214.64 472.28 215.08 472.58 215.48 472.9C215.88 473.21 216.48 473.42 216.69 473.83C216.9 474.24 216.75 474.84 216.74 475.36C216.72 475.88 216.5 476.47 216.6 476.97C216.7 477.46 217.13 477.83 217.33 478.31C217.53 478.79 217.51 479.48 217.79 479.84C218.06 480.2 218.54 480.31 218.97 480.48C219.41 480.65 220.02 480.61 220.38 480.86C220.74 481.11 220.9 481.53 221.15 481.98C221.39 482.44 221.49 483.25 221.85 483.6C222.21 483.95 222.81 483.92 223.32 484.08C223.83 484.24 224.57 484.3 224.92 484.57C225.28 484.85 225.23 485.37 225.44 485.73C225.65 486.1 225.97 486.41 226.2 486.76C226.44 487.11 226.74 487.42 226.85 487.84C226.96 488.26 226.8 488.81 226.86 489.28C226.91 489.74 226.91 490.28 227.2 490.64C227.5 491.01 228.23 491.15 228.62 491.46C229.02 491.77 229.39 492.1 229.58 492.52C229.77 492.93 229.61 493.5 229.76 493.96C229.91 494.42 230.27 494.82 230.49 495.27C230.72 495.72 230.93 496.18 231.12 496.65C231.31 497.12 231.3 497.72 231.63 498.1C231.96 498.47 232.66 498.59 233.1 498.88C233.54 499.18 234.06 499.42 234.26 499.86C234.47 500.3 234.18 501.06 234.33 501.53C234.49 502.01 235.06 502.51 235.2 502.7" stroke="#e8683a" stroke-width="1.15" fill="none" stroke-linejoin="round" stroke-linecap="round"/>
<path d="M205.3 460L210.1 460L209.7 465L208 469L206.5 465Z" fill="#e8683a" opacity="0.55"/>
<path d="M205 372.2C205.96 368.83 196.31 364.61 190.6 365.9C193.53 370.97 203.18 375.19 205 372.2Z" fill="#fff" stroke="#2a2a2a" stroke-width="0.55"/>
<path d="M204.42 371.95L191.61 366.34M202.84 371.25L201.46 368.13M202.84 371.25L199.61 372.36M199.96 370L198.57 366.9M199.96 370L196.74 371.08M197.08 368.73L195.52 366.04M197.08 368.73L194.04 369.42M194.2 367.47L192.23 365.7M194.2 367.47L191.56 367.24" stroke="#444" stroke-width="0.4" fill="none"/>
<path d="M209.7 393.8C213.57 396.95 226.37 385.43 228.8 376.6C219.77 378.09 206.97 389.62 209.7 393.8Z" fill="#fff" stroke="#2a2a2a" stroke-width="0.55"/>
<path d="M210.46 393.11L227.46 377.8M212.56 391.22L217.82 390.91M212.56 391.22L213.42 386.03M216.38 387.78L221.61 387.44M216.38 387.78L217.27 382.62M220.21 384.34L225.02 383.54M220.21 384.34L221.5 379.64M224.03 380.9L227.88 379.04M224.03 380.9L226.28 377.26" stroke="#444" stroke-width="0.4" fill="none"/>
<path d="M208.8 345.4C212.66 345.54 212.87 339.57 209.3 331.2C205.15 339.3 204.94 345.26 208.8 345.4Z" fill="#fff" stroke="#666" stroke-width="0.5"/>
<path d="M208.82 344.83L209.27 332.19M208.88 343.27L211.41 341.23M208.88 343.27L206.49 341.05M208.99 340.07L211.17 338.02M208.99 340.07L206.95 337.87M209.1 336.88L210.5 334.8M209.1 336.88L207.85 334.7" stroke="#888" stroke-width="0.4" fill="none"/>
<path d="M207.2 345.6C207.2 348.33 207.25 357.77 207.2 362C207.15 366.23 206.82 367.17 206.9 371C206.98 374.83 207.47 381.17 207.65 385C207.83 388.83 208.14 391.17 208 394C207.86 396.83 207.03 399.33 206.8 402C206.58 404.67 206.68 407.5 206.65 410C206.62 412.5 206.57 414.58 206.65 417C206.73 419.42 206.94 421.92 207.15 424.5C207.36 427.08 207.86 429.25 207.9 432.5C207.94 435.75 207.53 439.75 207.4 444C207.28 448.25 207.19 455.33 207.15 458C207.11 460.67 207.15 459.67 207.15 460" stroke="#000" stroke-width="4.6" fill="none" stroke-linejoin="round"/>
<path d="M205.5 352.6C205.85 349.91 203.05 348.67 198.5 349.5C201.65 351.84 204.45 353.08 205.5 352.6Z" fill="#bcc83a"/>
<path d="M209.4 348.4C210.28 348.67 212.32 347.39 214.5 345.2C210.83 345.02 208.79 346.3 209.4 348.4Z" fill="#bcc83a"/>
<path d="M209.5 358.8C211.21 359.47 215.01 357.15 219 353C212.24 352.6 208.44 354.92 209.5 358.8Z" fill="#bcc83a"/>
<rect x="204.3" y="362.2" width="5.9" height="8.6" fill="#f0a040" stroke="#9a9a80" stroke-width="0.3"/>
<path d="M209.7 438.9L215.3 435.6" stroke="#222" stroke-width="0.7"/>
<path d="M205.5 423L203 421.6" stroke="#222" stroke-width="0.7"/>
<path d="M203.1 421.8C206.92 415.62 189.12 400.85 177.3 400.4C179.93 411.93 197.73 426.7 203.1 421.8Z" fill="#1f409e" stroke="#1a1a1a" stroke-width="0.6"/>
<path d="M202.07 420.94L179.11 401.9M200 419.23L198.88 412.19M200 419.23L192.87 419.43M195.75 415.7L194.72 408.54M195.75 415.7L188.52 416.01M191.49 412.17L190.19 405.34M191.49 412.17L184.54 412.15M187.23 408.64L185.23 402.65M187.23 408.64L180.98 407.78M182.98 405.11L179.76 400.58M182.98 405.11L177.93 402.79" stroke="#2a1808" stroke-width="0.55" fill="none" opacity="0.85"/>
<path d="M213.7 434.8C219.62 439.69 238.53 422.58 241.1 410C228.33 411.31 209.42 428.42 213.7 434.8Z" fill="#1f409e" stroke="#1a1a1a" stroke-width="0.6"/>
<path d="M214.8 433.81L239.18 411.74M216.99 431.82L224.7 431.54M216.99 431.82L218.04 424.18M221.51 427.73L229.33 427.56M221.51 427.73L222.46 419.97M226.03 423.64L233.55 423.13M226.03 423.64L227.28 416.21M230.55 419.55L237.3 418.19M230.55 419.55L232.57 412.97M235.07 415.46L240.47 412.61M235.07 415.46L238.44 410.37" stroke="#2a1808" stroke-width="0.55" fill="none" opacity="0.85"/>
<circle cx="206.7" cy="423.8" r="1.7" fill="#f0ee30"/>
<rect x="137.4" y="482.5" width="4" height="3.7" fill="#e2001a"/>
<text x="142.3" y="485.5" font-size="4.9" fill="#262626">0.33</text>
<rect x="137.4" y="487.04" width="4" height="3.7" fill="#ea3a1e"/>
<text x="142.3" y="490.04" font-size="4.9" fill="#262626">0.27</text>
<rect x="137.4" y="491.58" width="4" height="3.7" fill="#ee6a1e"/>
<text x="142.3" y="494.58" font-size="4.9" fill="#262626">0.2</text>
<rect x="137.4" y="496.12" width="4" height="3.7" fill="#f29a22"/>
<text x="142.3" y="499.12" font-size="4.9" fill="#262626">0.13</text>
<rect x="137.4" y="500.66" width="4" height="3.7" fill="#f5c523"/>
<text x="142.3" y="503.66" font-size="4.9" fill="#262626">0.07</text>
<rect x="137.4" y="505.2" width="4" height="3.7" fill="#f4ec2a"/>
<text x="142.3" y="508.2" font-size="4.9" fill="#262626">0</text>
<rect x="137.4" y="509.74" width="4" height="3.7" fill="#c2c636"/>
<text x="142.3" y="512.74" font-size="4.9" fill="#262626">-0.07</text>
<rect x="137.4" y="514.28" width="4" height="3.7" fill="#9a9c60"/>
<text x="142.3" y="517.28" font-size="4.9" fill="#262626">-0.13</text>
<rect x="137.4" y="518.82" width="4" height="3.7" fill="#5a6494"/>
<text x="142.3" y="521.82" font-size="4.9" fill="#262626">-0.2</text>
<rect x="137.4" y="523.36" width="4" height="3.7" fill="#2e4496"/>
<text x="142.3" y="526.36" font-size="4.9" fill="#262626">-0.27</text>
<rect x="137.4" y="527.9" width="4" height="3.7" fill="#1c3e9c"/>
<text x="142.3" y="530.9" font-size="4.9" fill="#262626">-0.33</text>
<path d="M163.2 538.2V627.7H253.2" stroke="#8a8a8a" stroke-width="0.75" fill="none"/>
<path d="M161.1 627.7H163.2" stroke="#8a8a8a" stroke-width="0.7"/>
<text x="160.4" y="630.45" font-size="7.3" text-anchor="end" fill="#262626">0.0</text>
<path d="M161.1 605.33H163.2" stroke="#8a8a8a" stroke-width="0.7"/>
<text x="160.4" y="608.08" font-size="7.3" text-anchor="end" fill="#262626">0.5</text>
<path d="M161.1 582.95H163.2" stroke="#8a8a8a" stroke-width="0.7"/>
<text x="160.4" y="585.7" font-size="7.3" text-anchor="end" fill="#262626">1.0</text>
<path d="M161.1 560.58H163.2" stroke="#8a8a8a" stroke-width="0.7"/>
<text x="160.4" y="563.33" font-size="7.3" text-anchor="end" fill="#262626">1.5</text>
<path d="M161.1 538.2H163.2" stroke="#8a8a8a" stroke-width="0.7"/>
<text x="160.4" y="540.95" font-size="7.3" text-anchor="end" fill="#262626">2.0</text>
<path d="M189.4 627.7V629.3" stroke="#8a8a8a" stroke-width="0.7"/>
<path d="M227.5 627.7V629.3" stroke="#8a8a8a" stroke-width="0.7"/>
<text transform="translate(146.5 583.65) rotate(-90)" font-size="7.55" text-anchor="middle" fill="#262626">Relative expression level</text>
<rect x="176.8" y="582.95" width="25.6" height="44.75" fill="#f0801e" stroke="#c86010" stroke-width="0.4"/>
<path d="M189.6 582.95V579.82M183.4 579.82H195.8" stroke="#808080" stroke-width="0.75" fill="none"/>
<rect x="214.8" y="603.54" width="25.6" height="24.16" fill="#35ab37" stroke="#208a22" stroke-width="0.4"/>
<path d="M227.6 603.54V602.64M221.4 602.64H233.8" stroke="#808080" stroke-width="0.75" fill="none"/>
<text x="227.6" y="604.24" font-size="8" font-weight="bold" text-anchor="middle" fill="#444">**</text>
<rect x="211.5" y="541.7" width="10" height="4.8" fill="#f0801e"/>
<rect x="211.5" y="553.5" width="10" height="4.8" fill="#35ab37"/>
<text x="226.5" y="546.6" font-size="7.3" fill="#262626">Roots</text>
<text x="226.5" y="558.4" font-size="7.3" fill="#262626">Leaves</text>
<text x="340.8" y="350.2" font-size="7.35" fill="#262626">Young leaves</text>
<text x="336.2" y="367.4" font-size="7.35" fill="#262626">Internode</text>
<text x="311" y="430.5" font-size="7.35" fill="#262626">Node</text>
<text x="345.9" y="444.2" font-size="7.35" fill="#262626">Mature leaves</text>
<text x="354.6" y="481" font-size="7.35" fill="#262626">Roots</text>
<text x="330.7" y="328.8" font-size="7.5" font-style="italic" text-anchor="middle" fill="#262626">PtrAPX7</text>
<path d="M291.4 460.98 L293.38 460.97 L295.36 460.79 L297.34 460.85 L299.32 460.71 L301.3 460.48 L303.28 460.6 L305.26 460.36 L307.24 460.41 L309.22 460.16 L311.2 459.73 L313.18 459.7 L315.17 459.79 L317.15 459.75 L319.13 459.44 L321.11 459.24 L323.09 458.99 L325.07 458.87 L327.05 458.91 L329.03 458.8 L331.01 458.9 L332.99 458.92 L334.97 458.72 L336.95 459.12 L338.93 459.02 L340.91 459.11 L342.89 458.9 L344.87 459.32 L346.85 459.14 L348.83 459.22 L350.81 459.18 L352.79 459.33 L354.77 459.27 L356.75 459.44 L358.73 459.34 L360.72 459.39 L362.7 459.71 L364.68 459.58 L366.66 459.78 L368.64 459.84 L370.62 460.07 L372.6 459.75 L374.58 459.93 L376.56 459.91 L378.54 459.87 L380.52 459.99 L382.5 460.31 L382.5 461.16 L380.52 461.18 L378.54 460.87 L376.56 461.11 L374.58 461.05 L372.6 461.25 L370.62 461.18 L368.64 461.22 L366.66 461.28 L364.68 461.36 L362.7 461.29 L360.72 461.42 L358.73 461.15 L356.75 461.38 L354.77 461.16 L352.79 461.43 L350.81 461.13 L348.83 461.18 L346.85 461.58 L344.87 461.25 L342.89 461.15 L340.91 461.19 L338.93 461.61 L336.95 461.43 L334.97 461.39 L332.99 461.34 L331.01 461.34 L329.03 461.74 L327.05 461.36 L325.07 461.37 L323.09 461.37 L321.11 461.49 L319.13 461.64 L317.15 461.76 L315.17 461.71 L313.18 461.8 L311.2 461.71 L309.22 461.62 L307.24 461.83 L305.26 461.87 L303.28 461.89 L301.3 461.87 L299.32 461.74 L297.34 461.82 L295.36 462.06 L293.38 461.91 L291.4 462.27Z" fill="#b89a72"/>
<path d="M307.81 460.57l2.46 -0.37M329.79 460.05l2.73 -0.17M334.3 459.7l3.41 -0.09M360.89 460.64l3.68 -0.21M373.47 460.53l1.65 -0.18M300.59 461.39l2.8 0.01M351.06 459.84l2.72 0.15M362.57 459.94l2.03 -0.11M300.31 461.3l1.8 -0.07M363.74 460.88l1.64 -0.1M359.09 460.09l2.35 0.34M311.95 460.41l2.77 0.37M301.69 460.77l1.92 -0.4M302.79 460.82l2.2 0.13M317.97 460.36l2.66 -0.17M319.55 460.77l2.61 0.09M298.05 460.9l2.32 0.17M326.17 460.04l2.02 0.26M359.36 460.01l2.97 -0.04M328.15 460.44l2.53 -0.23M318.02 460.4l1.8 -0.36M350.57 460.36l3.2 -0.1M365.28 460.85l1.61 -0.15M299.13 461.71l3.29 -0.14M347.02 460.53l1.9 -0.31M319.34 460.05l3.93 -0.07" stroke="#86643e" stroke-width="0.55" fill="none" opacity="0.8"/>
<path d="M328.6 460.5C328.56 460.71 328.42 461.32 328.37 461.73C328.32 462.15 328.28 462.56 328.29 462.98C328.31 463.39 328.45 463.82 328.46 464.24C328.48 464.65 328.39 465.06 328.38 465.48C328.36 465.9 328.36 466.31 328.38 466.73C328.41 467.15 328.58 467.59 328.51 467.99C328.44 468.39 328.36 468.88 327.96 469.13C327.56 469.38 326.56 469.12 326.09 469.48C325.62 469.85 325.48 470.87 325.16 471.32C324.83 471.77 324.54 471.96 324.15 472.19C323.77 472.42 323.23 472.46 322.85 472.68C322.46 472.91 322.16 473.15 321.83 473.51C321.51 473.87 321.18 474.39 320.89 474.85C320.59 475.3 320.18 475.66 320.08 476.24C319.98 476.81 320.39 477.8 320.3 478.3C320.2 478.79 319.86 479.01 319.5 479.22C319.13 479.43 318.52 479.39 318.11 479.55C317.71 479.72 317.34 479.92 317.04 480.2C316.75 480.48 316.6 480.92 316.35 481.23C316.09 481.53 315.86 481.78 315.51 482.03C315.17 482.28 314.65 482.39 314.3 482.72C313.94 483.04 313.74 483.68 313.36 483.98C312.99 484.27 312.57 484.41 312.05 484.47C311.52 484.53 310.68 484.16 310.22 484.32C309.75 484.48 309.51 484.99 309.25 485.42C308.99 485.85 308.93 486.48 308.65 486.88C308.38 487.29 307.81 487.46 307.6 487.83C307.39 488.21 307.46 488.7 307.38 489.12C307.29 489.55 307.31 490.01 307.08 490.39C306.85 490.77 306.3 491.01 305.99 491.41C305.68 491.81 305.25 492.25 305.21 492.77C305.16 493.29 305.69 493.97 305.72 494.52C305.76 495.07 305.61 495.6 305.4 496.07C305.18 496.54 304.67 496.89 304.41 497.34C304.15 497.79 304.12 498.32 303.84 498.78C303.56 499.25 302.91 499.65 302.71 500.12C302.51 500.59 302.52 501.09 302.63 501.61C302.74 502.13 303.41 502.74 303.38 503.24C303.36 503.73 302.65 504.37 302.5 504.6" stroke="#ecec48" stroke-width="1.15" fill="none" stroke-linejoin="round" stroke-linecap="round"/>
<path d="M330.5 460.5C330.51 460.71 330.52 461.33 330.54 461.74C330.56 462.15 330.61 462.57 330.63 462.98C330.64 463.39 330.6 463.81 330.65 464.22C330.69 464.63 330.88 465.04 330.9 465.45C330.92 465.87 330.9 466.28 330.76 466.7C330.61 467.11 330.13 467.53 330.01 467.95C329.89 468.37 329.89 468.78 330.05 469.19C330.2 469.6 330.73 470.01 330.93 470.42C331.13 470.83 331.26 471.24 331.24 471.65C331.22 472.06 330.82 472.4 330.82 472.86C330.81 473.33 331.1 473.94 331.21 474.45C331.31 474.96 331.51 475.5 331.45 475.94C331.39 476.38 330.89 476.68 330.84 477.12C330.79 477.55 331.13 478.05 331.15 478.53C331.16 479.02 331.18 479.64 330.94 480.02C330.71 480.39 330.15 480.54 329.74 480.78C329.32 481.03 328.77 481.17 328.45 481.49C328.12 481.81 328 482.29 327.8 482.7C327.6 483.12 327.44 483.57 327.25 484C327.07 484.43 326.79 484.78 326.67 485.27C326.56 485.77 326.75 486.55 326.58 486.99C326.4 487.43 326.05 487.71 325.62 487.91C325.19 488.1 324.46 487.98 324.01 488.15C323.56 488.32 323.19 488.58 322.92 488.94C322.66 489.3 322.59 489.87 322.43 490.32C322.27 490.76 322.15 491.19 321.96 491.61C321.78 492.03 321.5 492.42 321.34 492.84C321.19 493.25 321.2 493.71 321.02 494.11C320.84 494.51 320.56 494.88 320.26 495.25C319.97 495.61 319.4 495.91 319.24 496.32C319.08 496.72 319.2 497.21 319.29 497.66C319.38 498.12 319.73 498.61 319.78 499.05C319.83 499.48 319.71 499.87 319.59 500.28C319.48 500.69 319.18 501.07 319.08 501.48C318.98 501.89 319.05 502.31 318.98 502.72C318.91 503.13 318.72 503.53 318.68 503.95C318.63 504.36 318.7 504.99 318.7 505.2" stroke="#ecec48" stroke-width="1.15" fill="none" stroke-linejoin="round" stroke-linecap="round"/>
<path d="M332.4 460.5C332.44 460.71 332.56 461.32 332.65 461.73C332.75 462.14 332.88 462.54 332.98 462.95C333.08 463.36 333.26 463.75 333.25 464.18C333.24 464.61 333 465.08 332.93 465.52C332.86 465.96 332.68 466.41 332.84 466.81C332.99 467.21 333.56 467.53 333.85 467.91C334.14 468.28 334.48 468.64 334.57 469.05C334.66 469.47 334.45 469.94 334.4 470.38C334.36 470.81 334.28 471.24 334.3 471.66C334.31 472.08 334.49 472.48 334.49 472.9C334.49 473.32 334.32 473.77 334.28 474.19C334.25 474.62 334.14 475.07 334.29 475.47C334.45 475.87 334.96 476.23 335.23 476.61C335.5 477 335.86 477.38 335.9 477.79C335.94 478.21 335.59 478.67 335.46 479.13C335.33 479.6 335.04 480.16 335.11 480.59C335.19 481.02 335.67 481.33 335.91 481.72C336.16 482.11 336.35 482.53 336.56 482.93C336.78 483.34 336.89 483.79 337.2 484.15C337.51 484.51 338.12 484.72 338.42 485.08C338.72 485.45 338.94 485.91 338.99 486.35C339.03 486.79 338.79 487.29 338.69 487.72C338.6 488.15 338.39 488.51 338.42 488.94C338.44 489.37 338.78 489.85 338.85 490.27C338.91 490.7 338.81 491.06 338.82 491.47C338.82 491.88 338.8 492.32 338.88 492.73C338.96 493.15 339.21 493.54 339.27 493.96C339.33 494.37 339.36 494.8 339.25 495.23C339.14 495.65 338.73 496.08 338.62 496.5C338.51 496.92 338.44 497.33 338.58 497.74C338.71 498.16 339.23 498.57 339.43 498.99C339.63 499.4 339.78 499.81 339.77 500.23C339.75 500.64 339.44 501.06 339.34 501.47C339.24 501.89 339.21 502.3 339.18 502.71C339.16 503.13 339.19 503.54 339.19 503.96C339.19 504.37 339.2 504.99 339.2 505.2" stroke="#ecec48" stroke-width="1.15" fill="none" stroke-linejoin="round" stroke-linecap="round"/>
<path d="M333.6 460.5C333.66 460.72 333.88 461.37 333.95 461.81C334.01 462.26 334 462.73 334 463.19C334 463.65 333.8 464.15 333.93 464.58C334.07 465.02 334.51 465.39 334.78 465.79C335.06 466.2 335.46 466.58 335.56 467.02C335.65 467.46 335.37 467.97 335.35 468.45C335.34 468.92 335.24 469.45 335.46 469.85C335.68 470.25 336.33 470.51 336.67 470.86C337.01 471.21 337.17 471.6 337.51 471.94C337.84 472.28 338.28 472.58 338.68 472.9C339.08 473.21 339.68 473.42 339.89 473.83C340.1 474.24 339.95 474.84 339.94 475.36C339.92 475.88 339.7 476.47 339.8 476.97C339.9 477.46 340.33 477.83 340.53 478.31C340.73 478.79 340.71 479.48 340.99 479.84C341.26 480.2 341.74 480.31 342.17 480.48C342.61 480.65 343.22 480.61 343.58 480.86C343.94 481.11 344.1 481.53 344.35 481.98C344.59 482.44 344.69 483.25 345.05 483.6C345.41 483.95 346.01 483.92 346.52 484.08C347.03 484.24 347.77 484.3 348.12 484.57C348.48 484.85 348.43 485.37 348.64 485.73C348.85 486.1 349.17 486.41 349.4 486.76C349.64 487.11 349.94 487.42 350.05 487.84C350.16 488.26 350 488.81 350.06 489.28C350.11 489.74 350.11 490.28 350.4 490.64C350.7 491.01 351.43 491.15 351.82 491.46C352.22 491.77 352.59 492.1 352.78 492.52C352.97 492.93 352.81 493.5 352.96 493.96C353.11 494.42 353.47 494.82 353.69 495.27C353.92 495.72 354.13 496.18 354.32 496.65C354.51 497.12 354.5 497.72 354.83 498.1C355.16 498.47 355.86 498.59 356.3 498.88C356.74 499.18 357.26 499.42 357.46 499.86C357.67 500.3 357.38 501.06 357.53 501.53C357.69 502.01 358.26 502.51 358.4 502.7" stroke="#ecec48" stroke-width="1.15" fill="none" stroke-linejoin="round" stroke-linecap="round"/>
<path d="M328.5 460L333.3 460L332.9 465L331.2 469L329.7 465Z" fill="#ecec48" opacity="0.55"/>
<path d="M328.2 372.2C329.16 368.83 319.51 364.61 313.8 365.9C316.73 370.97 326.38 375.19 328.2 372.2Z" fill="#fff" stroke="#2a2a2a" stroke-width="0.55"/>
<path d="M327.62 371.95L314.81 366.34M326.04 371.25L324.66 368.13M326.04 371.25L322.81 372.36M323.16 370L321.77 366.9M323.16 370L319.94 371.08M320.28 368.73L318.72 366.04M320.28 368.73L317.24 369.42M317.4 367.47L315.43 365.7M317.4 367.47L314.76 367.24" stroke="#444" stroke-width="0.4" fill="none"/>
<path d="M332.9 393.8C336.77 396.95 349.57 385.43 352 376.6C342.97 378.09 330.17 389.62 332.9 393.8Z" fill="#fff" stroke="#2a2a2a" stroke-width="0.55"/>
<path d="M333.66 393.11L350.66 377.8M335.76 391.22L341.02 390.91M335.76 391.22L336.62 386.03M339.58 387.78L344.81 387.44M339.58 387.78L340.47 382.62M343.4 384.34L348.22 383.54M343.4 384.34L344.7 379.64M347.23 380.9L351.08 379.04M347.23 380.9L349.48 377.26" stroke="#444" stroke-width="0.4" fill="none"/>
<path d="M332 345.4C335.86 345.54 336.07 339.57 332.5 331.2C328.35 339.3 328.14 345.26 332 345.4Z" fill="#fff" stroke="#666" stroke-width="0.5"/>
<path d="M332.02 344.83L332.46 332.19M332.07 343.27L334.61 341.23M332.07 343.27L329.69 341.05M332.19 340.07L334.37 338.02M332.19 340.07L330.15 337.87M332.3 336.88L333.7 334.8M332.3 336.88L331.05 334.7" stroke="#888" stroke-width="0.4" fill="none"/>
<path d="M330.4 345.6C330.4 348.33 330.45 357.77 330.4 362C330.35 366.23 330.02 367.17 330.1 371C330.17 374.83 330.67 381.17 330.85 385C331.03 388.83 331.34 391.17 331.2 394C331.06 396.83 330.23 399.33 330 402C329.77 404.67 329.88 407.5 329.85 410C329.82 412.5 329.77 414.58 329.85 417C329.93 419.42 330.14 421.92 330.35 424.5C330.56 427.08 331.06 429.25 331.1 432.5C331.14 435.75 330.72 439.75 330.6 444C330.47 448.25 330.39 455.33 330.35 458C330.31 460.67 330.35 459.67 330.35 460" stroke="#000" stroke-width="4.6" fill="none" stroke-linejoin="round"/>
<path d="M328.7 352.6C329.05 349.91 326.25 348.67 321.7 349.5C324.85 351.84 327.65 353.08 328.7 352.6Z" fill="#1f409e"/>
<path d="M332.6 348.4C333.48 348.67 335.52 347.39 337.7 345.2C334.03 345.02 331.99 346.3 332.6 348.4Z" fill="#1f409e"/>
<path d="M332.7 358.8C334.41 359.47 338.21 357.15 342.2 353C335.44 352.6 331.64 354.92 332.7 358.8Z" fill="#1f409e"/>
<rect x="327.5" y="362.2" width="5.9" height="8.6" fill="#e8602a" stroke="#9a9a80" stroke-width="0.3"/>
<path d="M332.9 438.9L338.5 435.6" stroke="#222" stroke-width="0.7"/>
<path d="M328.7 423L326.2 421.6" stroke="#222" stroke-width="0.7"/>
<path d="M326.3 421.8C330.12 415.62 312.32 400.85 300.5 400.4C303.13 411.93 320.93 426.7 326.3 421.8Z" fill="#ecd820" stroke="#1a1a1a" stroke-width="0.6"/>
<path d="M325.27 420.94L302.31 401.9M323.2 419.23L322.08 412.19M323.2 419.23L316.07 419.43M318.95 415.7L317.92 408.54M318.95 415.7L311.72 416.01M314.69 412.17L313.39 405.34M314.69 412.17L307.74 412.15M310.43 408.64L308.43 402.65M310.43 408.64L304.18 407.78M306.18 405.11L302.96 400.58M306.18 405.11L301.13 402.79" stroke="#2a1808" stroke-width="0.55" fill="none" opacity="0.85"/>
<path d="M336.9 434.8C342.82 439.69 361.73 422.58 364.3 410C351.53 411.31 332.62 428.42 336.9 434.8Z" fill="#ecd820" stroke="#1a1a1a" stroke-width="0.6"/>
<path d="M338 433.81L362.38 411.74M340.19 431.82L347.9 431.54M340.19 431.82L341.24 424.18M344.71 427.73L352.53 427.56M344.71 427.73L345.66 419.97M349.23 423.64L356.75 423.13M349.23 423.64L350.48 416.21M353.75 419.55L360.5 418.19M353.75 419.55L355.77 412.97M358.27 415.46L363.67 412.61M358.27 415.46L361.64 410.37" stroke="#2a1808" stroke-width="0.55" fill="none" opacity="0.85"/>
<circle cx="329.9" cy="423.8" r="1.7" fill="#f0ee30"/>
<rect x="261" y="482.5" width="4" height="3.7" fill="#e2001a"/>
<text x="265.9" y="485.5" font-size="4.9" fill="#262626">1</text>
<rect x="261" y="487.04" width="4" height="3.7" fill="#ea3a1e"/>
<text x="265.9" y="490.04" font-size="4.9" fill="#262626">0.8</text>
<rect x="261" y="491.58" width="4" height="3.7" fill="#ee6a1e"/>
<text x="265.9" y="494.58" font-size="4.9" fill="#262626">0.6</text>
<rect x="261" y="496.12" width="4" height="3.7" fill="#f29a22"/>
<text x="265.9" y="499.12" font-size="4.9" fill="#262626">0.4</text>
<rect x="261" y="500.66" width="4" height="3.7" fill="#f5c523"/>
<text x="265.9" y="503.66" font-size="4.9" fill="#262626">0.2</text>
<rect x="261" y="505.2" width="4" height="3.7" fill="#f4ec2a"/>
<text x="265.9" y="508.2" font-size="4.9" fill="#262626">0</text>
<rect x="261" y="509.74" width="4" height="3.7" fill="#c2c636"/>
<text x="265.9" y="512.74" font-size="4.9" fill="#262626">-0.2</text>
<rect x="261" y="514.28" width="4" height="3.7" fill="#9a9c60"/>
<text x="265.9" y="517.28" font-size="4.9" fill="#262626">-0.4</text>
<rect x="261" y="518.82" width="4" height="3.7" fill="#5a6494"/>
<text x="265.9" y="521.82" font-size="4.9" fill="#262626">-0.6</text>
<rect x="261" y="523.36" width="4" height="3.7" fill="#2e4496"/>
<text x="265.9" y="526.36" font-size="4.9" fill="#262626">-0.8</text>
<rect x="261" y="527.9" width="4" height="3.7" fill="#1c3e9c"/>
<text x="265.9" y="530.9" font-size="4.9" fill="#262626">-1</text>
<path d="M288.6 538.2V627.7H378.6" stroke="#8a8a8a" stroke-width="0.75" fill="none"/>
<path d="M286.5 627.7H288.6" stroke="#8a8a8a" stroke-width="0.7"/>
<text x="285.8" y="630.45" font-size="7.3" text-anchor="end" fill="#262626">0</text>
<path d="M286.5 605.33H288.6" stroke="#8a8a8a" stroke-width="0.7"/>
<text x="285.8" y="608.08" font-size="7.3" text-anchor="end" fill="#262626">1</text>
<path d="M286.5 582.95H288.6" stroke="#8a8a8a" stroke-width="0.7"/>
<text x="285.8" y="585.7" font-size="7.3" text-anchor="end" fill="#262626">2</text>
<path d="M286.5 560.58H288.6" stroke="#8a8a8a" stroke-width="0.7"/>
<text x="285.8" y="563.33" font-size="7.3" text-anchor="end" fill="#262626">3</text>
<path d="M286.5 538.2H288.6" stroke="#8a8a8a" stroke-width="0.7"/>
<text x="285.8" y="540.95" font-size="7.3" text-anchor="end" fill="#262626">4</text>
<path d="M314.8 627.7V629.3" stroke="#8a8a8a" stroke-width="0.7"/>
<path d="M352.9 627.7V629.3" stroke="#8a8a8a" stroke-width="0.7"/>
<text transform="translate(277.3 583.65) rotate(-90)" font-size="7.55" text-anchor="middle" fill="#262626">Relative expression level</text>
<rect x="302.2" y="605.33" width="25.6" height="22.38" fill="#f0801e" stroke="#c86010" stroke-width="0.4"/>
<path d="M315 605.33V604.21M308.8 604.21H321.2" stroke="#808080" stroke-width="0.75" fill="none"/>
<rect x="340.2" y="580.27" width="25.6" height="47.43" fill="#35ab37" stroke="#208a22" stroke-width="0.4"/>
<path d="M353 580.27V576.46M346.8 576.46H359.2" stroke="#808080" stroke-width="0.75" fill="none"/>
<text x="353" y="578.06" font-size="8" font-weight="bold" text-anchor="middle" fill="#444">**</text>
<rect x="336.9" y="541.7" width="10" height="4.8" fill="#f0801e"/>
<rect x="336.9" y="553.5" width="10" height="4.8" fill="#35ab37"/>
<text x="351.9" y="546.6" font-size="7.3" fill="#262626">Roots</text>
<text x="351.9" y="558.4" font-size="7.3" fill="#262626">Leaves</text>
<text x="469.1" y="350.8" font-size="7.35" fill="#262626">Young leaves</text>
<text x="461.1" y="367.4" font-size="7.35" fill="#262626">Internode</text>
<text x="434" y="430.5" font-size="7.35" fill="#262626">Node</text>
<text x="467.7" y="444.2" font-size="7.35" fill="#262626">Mature leaves</text>
<text x="479.4" y="481" font-size="7.35" fill="#262626">Roots</text>
<text x="454" y="328.8" font-size="7.5" font-style="italic" text-anchor="middle" fill="#262626">PtrAPX8</text>
<path d="M415.1 461.28 L417.08 461.11 L419.06 460.93 L421.04 460.88 L423.02 460.89 L425 460.81 L426.98 460.58 L428.96 460.38 L430.94 460.43 L432.92 460.03 L434.9 459.75 L436.88 460.01 L438.87 459.85 L440.85 459.57 L442.83 459.31 L444.81 459.29 L446.79 459.13 L448.77 459.18 L450.75 459.09 L452.73 459.04 L454.71 458.86 L456.69 458.66 L458.67 458.58 L460.65 458.81 L462.63 459.15 L464.61 458.85 L466.59 458.96 L468.57 458.9 L470.55 459.36 L472.53 459.2 L474.51 459.21 L476.49 459.56 L478.47 459.31 L480.45 459.23 L482.43 459.73 L484.42 459.57 L486.4 459.73 L488.38 459.85 L490.36 459.69 L492.34 459.94 L494.32 459.88 L496.3 459.78 L498.28 460.03 L500.26 460.18 L502.24 460.26 L504.22 460.28 L506.2 460.24 L506.2 460.84 L504.22 461.02 L502.24 461.04 L500.26 461.19 L498.28 460.89 L496.3 461.18 L494.32 460.9 L492.34 460.9 L490.36 461.04 L488.38 460.96 L486.4 461.12 L484.42 461.29 L482.43 461.07 L480.45 461.36 L478.47 461.36 L476.49 461.41 L474.51 461.34 L472.53 461.29 L470.55 461.46 L468.57 461.28 L466.59 461.36 L464.61 461.21 L462.63 461.62 L460.65 461.65 L458.67 461.27 L456.69 461.35 L454.71 461.33 L452.73 461.41 L450.75 461.52 L448.77 461.37 L446.79 461.62 L444.81 461.59 L442.83 461.73 L440.85 461.43 L438.87 461.56 L436.88 461.62 L434.9 461.49 L432.92 461.77 L430.94 461.96 L428.96 461.74 L426.98 461.95 L425 462.07 L423.02 462.07 L421.04 461.89 L419.06 461.73 L417.08 461.9 L415.1 462.11Z" fill="#b89a72"/>
<path d="M476.76 460.1l2.32 -0.16M450.12 459.87l3.04 -0.3M431.05 460.94l2.03 0.19M431.69 460.97l2.66 -0.11M489.04 460.52l1.81 -0.24M430.47 460.55l2.25 0.07M469.5 460.57l1.98 -0M462.39 459.86l3.66 -0.06M435.74 460.6l3.04 -0.08M475.66 460.8l2.71 0.14M454.81 460.53l2.23 -0.18M463.26 459.8l3.72 -0.12M489.54 460.42l2.73 0.25M462.58 460.42l2.33 0.17M495.51 460.8l2.75 -0.15M446.15 460.38l1.74 -0.15M497.42 460.87l2.66 0.27M435.87 460.4l1.66 -0.09M447.15 460.12l2.06 0.36M448.57 460.59l2.58 0.18M450 459.92l3.81 0.24M491.31 460.35l3.54 -0.38M454.19 460.37l3.29 0.32M439.95 461.08l1.88 0.3M485.21 460.82l3.63 -0.21M435.54 460.78l3.83 -0.04" stroke="#86643e" stroke-width="0.55" fill="none" opacity="0.8"/>
<path d="M452.3 460.5C452.26 460.71 452.12 461.32 452.07 461.73C452.02 462.15 451.98 462.56 451.99 462.98C452.01 463.39 452.15 463.82 452.16 464.24C452.18 464.65 452.09 465.06 452.08 465.48C452.06 465.9 452.06 466.31 452.08 466.73C452.11 467.15 452.28 467.59 452.21 467.99C452.14 468.39 452.06 468.88 451.66 469.13C451.26 469.38 450.26 469.12 449.79 469.48C449.32 469.85 449.18 470.87 448.86 471.32C448.53 471.77 448.24 471.96 447.85 472.19C447.47 472.42 446.93 472.46 446.55 472.68C446.16 472.91 445.86 473.15 445.53 473.51C445.21 473.87 444.88 474.39 444.59 474.85C444.29 475.3 443.88 475.66 443.78 476.24C443.68 476.81 444.09 477.8 444 478.3C443.9 478.79 443.56 479.01 443.2 479.22C442.83 479.43 442.22 479.39 441.81 479.55C441.41 479.72 441.04 479.92 440.74 480.2C440.45 480.48 440.3 480.92 440.05 481.23C439.79 481.53 439.56 481.78 439.21 482.03C438.87 482.28 438.35 482.39 438 482.72C437.64 483.04 437.44 483.68 437.06 483.98C436.69 484.27 436.27 484.41 435.75 484.47C435.22 484.53 434.38 484.16 433.92 484.32C433.45 484.48 433.21 484.99 432.95 485.42C432.69 485.85 432.63 486.48 432.35 486.88C432.08 487.29 431.51 487.46 431.3 487.83C431.09 488.21 431.16 488.7 431.08 489.12C430.99 489.55 431.01 490.01 430.78 490.39C430.55 490.77 430 491.01 429.69 491.41C429.38 491.81 428.95 492.25 428.91 492.77C428.86 493.29 429.39 493.97 429.42 494.52C429.46 495.07 429.31 495.6 429.1 496.07C428.88 496.54 428.37 496.89 428.11 497.34C427.85 497.79 427.82 498.32 427.54 498.78C427.26 499.25 426.61 499.65 426.41 500.12C426.21 500.59 426.22 501.09 426.33 501.61C426.44 502.13 427.11 502.74 427.08 503.24C427.06 503.73 426.35 504.37 426.2 504.6" stroke="#eeec44" stroke-width="1.15" fill="none" stroke-linejoin="round" stroke-linecap="round"/>
<path d="M454.2 460.5C454.21 460.71 454.22 461.33 454.24 461.74C454.26 462.15 454.31 462.57 454.33 462.98C454.34 463.39 454.3 463.81 454.35 464.22C454.39 464.63 454.58 465.04 454.6 465.45C454.62 465.87 454.6 466.28 454.46 466.7C454.31 467.11 453.83 467.53 453.71 467.95C453.59 468.37 453.59 468.78 453.75 469.19C453.9 469.6 454.43 470.01 454.63 470.42C454.83 470.83 454.96 471.24 454.94 471.65C454.92 472.06 454.52 472.4 454.52 472.86C454.51 473.33 454.8 473.94 454.91 474.45C455.01 474.96 455.21 475.5 455.15 475.94C455.09 476.38 454.59 476.68 454.54 477.12C454.49 477.55 454.83 478.05 454.85 478.53C454.86 479.02 454.88 479.64 454.64 480.02C454.41 480.39 453.85 480.54 453.44 480.78C453.02 481.03 452.47 481.17 452.15 481.49C451.82 481.81 451.7 482.29 451.5 482.7C451.3 483.12 451.14 483.57 450.95 484C450.77 484.43 450.49 484.78 450.37 485.27C450.26 485.77 450.45 486.55 450.28 486.99C450.1 487.43 449.75 487.71 449.32 487.91C448.89 488.1 448.16 487.98 447.71 488.15C447.26 488.32 446.89 488.58 446.62 488.94C446.36 489.3 446.29 489.87 446.13 490.32C445.97 490.76 445.85 491.19 445.66 491.61C445.48 492.03 445.2 492.42 445.04 492.84C444.89 493.25 444.9 493.71 444.72 494.11C444.54 494.51 444.26 494.88 443.96 495.25C443.67 495.61 443.1 495.91 442.94 496.32C442.78 496.72 442.9 497.21 442.99 497.66C443.08 498.12 443.43 498.61 443.48 499.05C443.53 499.48 443.41 499.87 443.29 500.28C443.18 500.69 442.88 501.07 442.78 501.48C442.68 501.89 442.75 502.31 442.68 502.72C442.61 503.13 442.42 503.53 442.38 503.95C442.33 504.36 442.4 504.99 442.4 505.2" stroke="#eeec44" stroke-width="1.15" fill="none" stroke-linejoin="round" stroke-linecap="round"/>
<path d="M456.1 460.5C456.14 460.71 456.26 461.32 456.35 461.73C456.45 462.14 456.58 462.54 456.68 462.95C456.78 463.36 456.96 463.75 456.95 464.18C456.94 464.61 456.7 465.08 456.63 465.52C456.56 465.96 456.38 466.41 456.54 466.81C456.69 467.21 457.26 467.53 457.55 467.91C457.84 468.28 458.18 468.64 458.27 469.05C458.36 469.47 458.15 469.94 458.1 470.38C458.06 470.81 457.98 471.24 458 471.66C458.01 472.08 458.19 472.48 458.19 472.9C458.19 473.32 458.02 473.77 457.98 474.19C457.95 474.62 457.84 475.07 457.99 475.47C458.15 475.87 458.66 476.23 458.93 476.61C459.2 477 459.56 477.38 459.6 477.79C459.64 478.21 459.29 478.67 459.16 479.13C459.03 479.6 458.74 480.16 458.81 480.59C458.89 481.02 459.37 481.33 459.61 481.72C459.86 482.11 460.05 482.53 460.26 482.93C460.48 483.34 460.59 483.79 460.9 484.15C461.21 484.51 461.82 484.72 462.12 485.08C462.42 485.45 462.64 485.91 462.69 486.35C462.73 486.79 462.49 487.29 462.39 487.72C462.3 488.15 462.09 488.51 462.12 488.94C462.14 489.37 462.48 489.85 462.55 490.27C462.61 490.7 462.51 491.06 462.52 491.47C462.52 491.88 462.5 492.32 462.58 492.73C462.66 493.15 462.91 493.54 462.97 493.96C463.03 494.37 463.06 494.8 462.95 495.23C462.84 495.65 462.43 496.08 462.32 496.5C462.21 496.92 462.14 497.33 462.28 497.74C462.41 498.16 462.93 498.57 463.13 498.99C463.33 499.4 463.48 499.81 463.47 500.23C463.45 500.64 463.14 501.06 463.04 501.47C462.94 501.89 462.91 502.3 462.88 502.71C462.86 503.13 462.89 503.54 462.89 503.96C462.89 504.37 462.9 504.99 462.9 505.2" stroke="#eeec44" stroke-width="1.15" fill="none" stroke-linejoin="round" stroke-linecap="round"/>
<path d="M457.3 460.5C457.36 460.72 457.58 461.37 457.65 461.81C457.71 462.26 457.7 462.73 457.7 463.19C457.7 463.65 457.5 464.15 457.63 464.58C457.77 465.02 458.21 465.39 458.48 465.79C458.76 466.2 459.16 466.58 459.26 467.02C459.35 467.46 459.07 467.97 459.05 468.45C459.04 468.92 458.94 469.45 459.16 469.85C459.38 470.25 460.03 470.51 460.37 470.86C460.71 471.21 460.87 471.6 461.21 471.94C461.54 472.28 461.98 472.58 462.38 472.9C462.78 473.21 463.38 473.42 463.59 473.83C463.8 474.24 463.65 474.84 463.64 475.36C463.62 475.88 463.4 476.47 463.5 476.97C463.6 477.46 464.03 477.83 464.23 478.31C464.43 478.79 464.41 479.48 464.69 479.84C464.96 480.2 465.44 480.31 465.87 480.48C466.31 480.65 466.92 480.61 467.28 480.86C467.64 481.11 467.8 481.53 468.05 481.98C468.29 482.44 468.39 483.25 468.75 483.6C469.11 483.95 469.71 483.92 470.22 484.08C470.73 484.24 471.47 484.3 471.82 484.57C472.18 484.85 472.13 485.37 472.34 485.73C472.55 486.1 472.87 486.41 473.1 486.76C473.34 487.11 473.64 487.42 473.75 487.84C473.86 488.26 473.7 488.81 473.76 489.28C473.81 489.74 473.81 490.28 474.1 490.64C474.4 491.01 475.13 491.15 475.52 491.46C475.92 491.77 476.29 492.1 476.48 492.52C476.67 492.93 476.51 493.5 476.66 493.96C476.81 494.42 477.17 494.82 477.39 495.27C477.62 495.72 477.83 496.18 478.02 496.65C478.21 497.12 478.2 497.72 478.53 498.1C478.86 498.47 479.56 498.59 480 498.88C480.44 499.18 480.96 499.42 481.16 499.86C481.37 500.3 481.08 501.06 481.23 501.53C481.39 502.01 481.96 502.51 482.1 502.7" stroke="#eeec44" stroke-width="1.15" fill="none" stroke-linejoin="round" stroke-linecap="round"/>
<path d="M452.2 460L457 460L456.6 465L454.9 469L453.4 465Z" fill="#eeec44" opacity="0.55"/>
<path d="M451.9 372.2C452.86 368.83 443.21 364.61 437.5 365.9C440.43 370.97 450.08 375.19 451.9 372.2Z" fill="#fff" stroke="#2a2a2a" stroke-width="0.55"/>
<path d="M451.32 371.95L438.51 366.34M449.74 371.25L448.36 368.13M449.74 371.25L446.51 372.36M446.86 370L445.47 366.9M446.86 370L443.64 371.08M443.98 368.73L442.42 366.04M443.98 368.73L440.94 369.42M441.1 367.47L439.13 365.7M441.1 367.47L438.46 367.24" stroke="#444" stroke-width="0.4" fill="none"/>
<path d="M456.6 393.8C460.47 396.95 473.27 385.43 475.7 376.6C466.67 378.09 453.87 389.62 456.6 393.8Z" fill="#fff" stroke="#2a2a2a" stroke-width="0.55"/>
<path d="M457.36 393.11L474.36 377.8M459.46 391.22L464.72 390.91M459.46 391.22L460.32 386.03M463.28 387.78L468.51 387.44M463.28 387.78L464.17 382.62M467.1 384.34L471.92 383.54M467.1 384.34L468.4 379.64M470.92 380.9L474.78 379.04M470.92 380.9L473.18 377.26" stroke="#444" stroke-width="0.4" fill="none"/>
<path d="M455.7 345.4C459.56 345.54 459.77 339.57 456.2 331.2C452.05 339.3 451.84 345.26 455.7 345.4Z" fill="#fff" stroke="#666" stroke-width="0.5"/>
<path d="M455.72 344.83L456.16 332.19M455.77 343.27L458.31 341.23M455.77 343.27L453.39 341.05M455.89 340.07L458.07 338.02M455.89 340.07L453.85 337.87M456 336.88L457.4 334.8M456 336.88L454.75 334.7" stroke="#888" stroke-width="0.4" fill="none"/>
<path d="M454.1 345.6C454.1 348.33 454.15 357.77 454.1 362C454.05 366.23 453.72 367.17 453.8 371C453.87 374.83 454.37 381.17 454.55 385C454.73 388.83 455.04 391.17 454.9 394C454.76 396.83 453.93 399.33 453.7 402C453.47 404.67 453.57 407.5 453.55 410C453.52 412.5 453.47 414.58 453.55 417C453.63 419.42 453.84 421.92 454.05 424.5C454.26 427.08 454.76 429.25 454.8 432.5C454.84 435.75 454.42 439.75 454.3 444C454.17 448.25 454.09 455.33 454.05 458C454.01 460.67 454.05 459.67 454.05 460" stroke="#000" stroke-width="4.6" fill="none" stroke-linejoin="round"/>
<path d="M452.4 352.6C452.75 349.91 449.95 348.67 445.4 349.5C448.55 351.84 451.35 353.08 452.4 352.6Z" fill="#e08a20"/>
<path d="M456.3 348.4C457.18 348.67 459.22 347.39 461.4 345.2C457.73 345.02 455.69 346.3 456.3 348.4Z" fill="#e08a20"/>
<path d="M456.4 358.8C458.11 359.47 461.91 357.15 465.9 353C459.14 352.6 455.34 354.92 456.4 358.8Z" fill="#e08a20"/>
<rect x="451.2" y="362.2" width="5.9" height="8.6" fill="#e0e030" stroke="#9a9a80" stroke-width="0.3"/>
<path d="M456.6 438.9L462.2 435.6" stroke="#222" stroke-width="0.7"/>
<path d="M452.4 423L449.9 421.6" stroke="#222" stroke-width="0.7"/>
<path d="M450 421.8C453.82 415.62 436.02 400.85 424.2 400.4C426.83 411.93 444.63 426.7 450 421.8Z" fill="#e3141c" stroke="#1a1a1a" stroke-width="0.6"/>
<path d="M448.97 420.94L426.01 401.9M446.9 419.23L445.78 412.19M446.9 419.23L439.77 419.43M442.65 415.7L441.62 408.54M442.65 415.7L435.42 416.01M438.39 412.17L437.09 405.34M438.39 412.17L431.44 412.15M434.13 408.64L432.13 402.65M434.13 408.64L427.88 407.78M429.88 405.11L426.66 400.58M429.88 405.11L424.83 402.79" stroke="#2a1808" stroke-width="0.55" fill="none" opacity="0.85"/>
<path d="M460.6 434.8C466.52 439.69 485.43 422.58 488 410C475.23 411.31 456.32 428.42 460.6 434.8Z" fill="#e3141c" stroke="#1a1a1a" stroke-width="0.6"/>
<path d="M461.7 433.81L486.08 411.74M463.89 431.82L471.6 431.54M463.89 431.82L464.94 424.18M468.41 427.73L476.23 427.56M468.41 427.73L469.36 419.97M472.93 423.64L480.45 423.13M472.93 423.64L474.18 416.21M477.45 419.55L484.2 418.19M477.45 419.55L479.47 412.97M481.97 415.46L487.37 412.61M481.97 415.46L485.34 410.37" stroke="#2a1808" stroke-width="0.55" fill="none" opacity="0.85"/>
<circle cx="453.6" cy="423.8" r="1.7" fill="#d8d020"/>
<rect x="385" y="482.5" width="4" height="3.7" fill="#e2001a"/>
<text x="389.9" y="485.5" font-size="4.9" fill="#262626">3.49</text>
<rect x="385" y="487.04" width="4" height="3.7" fill="#ea3a1e"/>
<text x="389.9" y="490.04" font-size="4.9" fill="#262626">2.79</text>
<rect x="385" y="491.58" width="4" height="3.7" fill="#ee6a1e"/>
<text x="389.9" y="494.58" font-size="4.9" fill="#262626">2.09</text>
<rect x="385" y="496.12" width="4" height="3.7" fill="#f29a22"/>
<text x="389.9" y="499.12" font-size="4.9" fill="#262626">1.4</text>
<rect x="385" y="500.66" width="4" height="3.7" fill="#f5c523"/>
<text x="389.9" y="503.66" font-size="4.9" fill="#262626">0.7</text>
<rect x="385" y="505.2" width="4" height="3.7" fill="#f4ec2a"/>
<text x="389.9" y="508.2" font-size="4.9" fill="#262626">0</text>
<rect x="385" y="509.74" width="4" height="3.7" fill="#c2c636"/>
<text x="389.9" y="512.74" font-size="4.9" fill="#262626">-0.7</text>
<rect x="385" y="514.28" width="4" height="3.7" fill="#9a9c60"/>
<text x="389.9" y="517.28" font-size="4.9" fill="#262626">-1.4</text>
<rect x="385" y="518.82" width="4" height="3.7" fill="#5a6494"/>
<text x="389.9" y="521.82" font-size="4.9" fill="#262626">-2.09</text>
<rect x="385" y="523.36" width="4" height="3.7" fill="#2e4496"/>
<text x="389.9" y="526.36" font-size="4.9" fill="#262626">-2.79</text>
<rect x="385" y="527.9" width="4" height="3.7" fill="#1c3e9c"/>
<text x="389.9" y="530.9" font-size="4.9" fill="#262626">-3.49</text>
<path d="M411.8 538.2V627.7H501.8" stroke="#8a8a8a" stroke-width="0.75" fill="none"/>
<path d="M409.7 627.7H411.8" stroke="#8a8a8a" stroke-width="0.7"/>
<text x="409" y="630.45" font-size="7.3" text-anchor="end" fill="#262626">0</text>
<path d="M409.7 605.33H411.8" stroke="#8a8a8a" stroke-width="0.7"/>
<text x="409" y="608.08" font-size="7.3" text-anchor="end" fill="#262626">1</text>
<path d="M409.7 582.95H411.8" stroke="#8a8a8a" stroke-width="0.7"/>
<text x="409" y="585.7" font-size="7.3" text-anchor="end" fill="#262626">2</text>
<path d="M409.7 560.58H411.8" stroke="#8a8a8a" stroke-width="0.7"/>
<text x="409" y="563.33" font-size="7.3" text-anchor="end" fill="#262626">3</text>
<path d="M409.7 538.2H411.8" stroke="#8a8a8a" stroke-width="0.7"/>
<text x="409" y="540.95" font-size="7.3" text-anchor="end" fill="#262626">4</text>
<path d="M438 627.7V629.3" stroke="#8a8a8a" stroke-width="0.7"/>
<path d="M476.1 627.7V629.3" stroke="#8a8a8a" stroke-width="0.7"/>
<text transform="translate(400.5 583.65) rotate(-90)" font-size="7.55" text-anchor="middle" fill="#262626">Relative expression level</text>
<rect x="425.4" y="605.33" width="25.6" height="22.38" fill="#f0801e" stroke="#c86010" stroke-width="0.4"/>
<path d="M438.2 605.33V604.65M432 604.65H444.4" stroke="#808080" stroke-width="0.75" fill="none"/>
<rect x="463.4" y="583.62" width="25.6" height="44.08" fill="#35ab37" stroke="#208a22" stroke-width="0.4"/>
<path d="M476.2 583.62V582.28M470 582.28H482.4" stroke="#808080" stroke-width="0.75" fill="none"/>
<text x="476.2" y="583.88" font-size="8" font-weight="bold" text-anchor="middle" fill="#444">**</text>
<rect x="460.1" y="541.7" width="10" height="4.8" fill="#f0801e"/>
<rect x="460.1" y="553.5" width="10" height="4.8" fill="#35ab37"/>
<text x="475.1" y="546.6" font-size="7.3" fill="#262626">Roots</text>
<text x="475.1" y="558.4" font-size="7.3" fill="#262626">Leaves</text>
<text x="96.5" y="664" font-size="7.35" fill="#262626">Young leaves</text>
<text x="89.2" y="680.5" font-size="7.35" fill="#262626">Internode</text>
<text x="65.6" y="742.5" font-size="7.35" fill="#262626">Node</text>
<text x="95.4" y="758.5" font-size="7.35" fill="#262626">Mature leaves</text>
<text x="106.4" y="794.1" font-size="7.35" fill="#262626">Roots</text>
<text x="84.3" y="641.5" font-size="7.5" font-style="italic" text-anchor="middle" fill="#262626">PtrAPX9</text>
<path d="M44.9 773.06 L46.88 773.29 L48.86 773.04 L50.84 772.98 L52.82 772.93 L54.8 772.76 L56.78 772.32 L58.76 772.23 L60.74 772.34 L62.72 771.83 L64.7 771.84 L66.68 771.65 L68.67 771.93 L70.65 771.73 L72.63 771.52 L74.61 771.23 L76.59 771.12 L78.57 770.94 L80.55 771.09 L82.53 770.91 L84.51 770.52 L86.49 770.55 L88.47 770.92 L90.45 770.92 L92.43 770.7 L94.41 770.92 L96.39 771.19 L98.37 770.97 L100.35 771.29 L102.33 771.27 L104.31 771.53 L106.29 771.59 L108.27 771.64 L110.25 771.49 L112.23 771.38 L114.22 771.67 L116.2 771.84 L118.18 771.9 L120.16 771.81 L122.14 771.57 L124.12 771.83 L126.1 772.04 L128.08 771.89 L130.06 772.2 L132.04 772.17 L134.02 771.95 L136 771.99 L136 773.08 L134.02 772.94 L132.04 773.12 L130.06 773.21 L128.08 772.98 L126.1 772.98 L124.12 773.09 L122.14 773.09 L120.16 773.07 L118.18 773.31 L116.2 773.23 L114.22 773.08 L112.23 773.12 L110.25 773.24 L108.27 773.08 L106.29 773.3 L104.31 773.24 L102.33 773.38 L100.35 773.44 L98.37 773.48 L96.39 773.15 L94.41 773.43 L92.43 773.51 L90.45 773.26 L88.47 773.47 L86.49 773.47 L84.51 773.52 L82.53 773.69 L80.55 773.69 L78.57 773.5 L76.59 773.7 L74.61 773.58 L72.63 773.64 L70.65 773.66 L68.67 773.53 L66.68 773.95 L64.7 773.87 L62.72 773.86 L60.74 773.72 L58.76 773.74 L56.78 773.9 L54.8 773.96 L52.82 773.83 L50.84 773.91 L48.86 773.79 L46.88 774.16 L44.9 774.3Z" fill="#b89a72"/>
<path d="M68.69 772.25l2.35 -0.27M112.48 772.78l2.17 -0.32M63.05 772.71l2.55 -0.3M76.73 772.04l1.51 -0.09M66.33 772.29l3.67 0.33M101.63 772.41l3.3 0.22M92.88 772.25l2.87 -0.04M95 771.95l3.37 -0.39M117.89 772.3l1.89 -0.31M109.41 772.27l1.62 -0.15M115.31 772.53l3.7 0.14M89.08 772.39l3.69 0.12M116.85 772.75l3.84 0.32M53.36 773.18l1.57 0.37M89.23 772.17l3.65 -0.34M107.09 772.54l2.69 0.39M109.13 772.38l2.73 -0.14M100.4 772.52l2.98 -0.24M95.42 772.56l2.15 -0.38M75.95 772.2l2.62 0.04M115.63 772.86l2.35 -0.05M114.93 772.12l3.32 -0.33M74.15 772.4l2.56 -0.07M76.7 772.35l3.09 0.07M95.26 772.15l2.33 -0.03M85.84 771.85l2.59 0.12" stroke="#86643e" stroke-width="0.55" fill="none" opacity="0.8"/>
<path d="M82.1 772.5C82.06 772.71 81.92 773.32 81.87 773.73C81.82 774.15 81.78 774.56 81.79 774.98C81.81 775.39 81.95 775.82 81.96 776.24C81.98 776.65 81.89 777.06 81.88 777.48C81.86 777.9 81.86 778.31 81.88 778.73C81.91 779.15 82.08 779.59 82.01 779.99C81.94 780.39 81.86 780.88 81.46 781.13C81.06 781.38 80.06 781.12 79.59 781.48C79.12 781.85 78.98 782.87 78.66 783.32C78.33 783.77 78.04 783.96 77.65 784.19C77.27 784.42 76.73 784.46 76.35 784.68C75.96 784.91 75.66 785.15 75.33 785.51C75.01 785.87 74.68 786.39 74.39 786.85C74.09 787.3 73.68 787.66 73.58 788.24C73.48 788.81 73.89 789.8 73.8 790.3C73.7 790.79 73.36 791.01 73 791.22C72.63 791.43 72.02 791.39 71.61 791.55C71.21 791.72 70.84 791.92 70.54 792.2C70.25 792.48 70.1 792.92 69.85 793.23C69.59 793.53 69.36 793.78 69.01 794.03C68.67 794.28 68.15 794.39 67.8 794.72C67.44 795.04 67.24 795.68 66.86 795.98C66.49 796.27 66.07 796.41 65.55 796.47C65.02 796.53 64.18 796.16 63.72 796.32C63.25 796.48 63.01 796.99 62.75 797.42C62.49 797.85 62.43 798.48 62.15 798.88C61.88 799.29 61.31 799.46 61.1 799.83C60.89 800.21 60.96 800.7 60.88 801.12C60.79 801.55 60.81 802.01 60.58 802.39C60.35 802.77 59.8 803.01 59.49 803.41C59.18 803.81 58.75 804.25 58.71 804.77C58.66 805.29 59.19 805.97 59.22 806.52C59.26 807.07 59.11 807.6 58.9 808.07C58.68 808.54 58.17 808.89 57.91 809.34C57.65 809.79 57.62 810.32 57.34 810.78C57.06 811.25 56.41 811.65 56.21 812.12C56.01 812.59 56.02 813.09 56.13 813.61C56.24 814.13 56.91 814.74 56.88 815.24C56.86 815.73 56.15 816.37 56 816.6" stroke="#e8683a" stroke-width="1.15" fill="none" stroke-linejoin="round" stroke-linecap="round"/>
<path d="M84 772.5C84.01 772.71 84.02 773.33 84.04 773.74C84.06 774.15 84.11 774.57 84.13 774.98C84.14 775.39 84.1 775.81 84.15 776.22C84.19 776.63 84.38 777.04 84.4 777.45C84.42 777.87 84.4 778.28 84.26 778.7C84.11 779.11 83.63 779.53 83.51 779.95C83.39 780.37 83.39 780.78 83.55 781.19C83.7 781.6 84.23 782.01 84.43 782.42C84.63 782.83 84.76 783.24 84.74 783.65C84.72 784.06 84.32 784.4 84.32 784.86C84.31 785.33 84.6 785.94 84.71 786.45C84.81 786.96 85.01 787.5 84.95 787.94C84.89 788.38 84.39 788.68 84.34 789.12C84.29 789.55 84.63 790.05 84.65 790.53C84.66 791.02 84.68 791.64 84.44 792.02C84.21 792.39 83.65 792.54 83.24 792.78C82.82 793.03 82.27 793.17 81.95 793.49C81.62 793.81 81.5 794.29 81.3 794.7C81.1 795.12 80.94 795.57 80.75 796C80.57 796.43 80.29 796.78 80.17 797.27C80.06 797.77 80.25 798.55 80.08 798.99C79.9 799.43 79.55 799.71 79.12 799.91C78.69 800.1 77.96 799.98 77.51 800.15C77.06 800.32 76.69 800.58 76.42 800.94C76.16 801.3 76.09 801.87 75.93 802.32C75.77 802.76 75.65 803.19 75.46 803.61C75.28 804.03 75 804.42 74.84 804.84C74.69 805.25 74.7 805.71 74.52 806.11C74.34 806.51 74.06 806.88 73.76 807.25C73.47 807.61 72.9 807.91 72.74 808.32C72.58 808.72 72.7 809.21 72.79 809.66C72.88 810.12 73.23 810.61 73.28 811.05C73.33 811.48 73.21 811.87 73.09 812.28C72.98 812.69 72.68 813.07 72.58 813.48C72.48 813.89 72.55 814.31 72.48 814.72C72.41 815.13 72.22 815.53 72.18 815.95C72.13 816.36 72.2 816.99 72.2 817.2" stroke="#e8683a" stroke-width="1.15" fill="none" stroke-linejoin="round" stroke-linecap="round"/>
<path d="M85.9 772.5C85.94 772.71 86.06 773.32 86.15 773.73C86.25 774.14 86.38 774.54 86.48 774.95C86.58 775.36 86.76 775.75 86.75 776.18C86.74 776.61 86.5 777.08 86.43 777.52C86.36 777.96 86.18 778.41 86.34 778.81C86.49 779.21 87.06 779.53 87.35 779.91C87.64 780.28 87.98 780.64 88.07 781.05C88.16 781.47 87.95 781.94 87.9 782.38C87.86 782.81 87.78 783.24 87.8 783.66C87.81 784.08 87.99 784.48 87.99 784.9C87.99 785.32 87.82 785.77 87.78 786.19C87.75 786.62 87.64 787.07 87.79 787.47C87.95 787.87 88.46 788.23 88.73 788.61C89 789 89.36 789.38 89.4 789.79C89.44 790.21 89.09 790.67 88.96 791.13C88.83 791.6 88.54 792.16 88.61 792.59C88.69 793.02 89.17 793.33 89.41 793.72C89.66 794.11 89.85 794.53 90.06 794.93C90.28 795.34 90.39 795.79 90.7 796.15C91.01 796.51 91.62 796.72 91.92 797.08C92.22 797.45 92.44 797.91 92.49 798.35C92.53 798.79 92.29 799.29 92.19 799.72C92.1 800.15 91.89 800.51 91.92 800.94C91.94 801.37 92.28 801.85 92.35 802.27C92.41 802.7 92.31 803.06 92.32 803.47C92.32 803.88 92.3 804.32 92.38 804.73C92.46 805.15 92.71 805.54 92.77 805.96C92.83 806.37 92.86 806.8 92.75 807.23C92.64 807.65 92.23 808.08 92.12 808.5C92.01 808.92 91.94 809.33 92.08 809.74C92.21 810.16 92.73 810.57 92.93 810.99C93.13 811.4 93.28 811.81 93.27 812.23C93.25 812.64 92.94 813.06 92.84 813.47C92.74 813.89 92.71 814.3 92.68 814.71C92.66 815.13 92.69 815.54 92.69 815.96C92.69 816.37 92.7 816.99 92.7 817.2" stroke="#e8683a" stroke-width="1.15" fill="none" stroke-linejoin="round" stroke-linecap="round"/>
<path d="M87.1 772.5C87.16 772.72 87.38 773.37 87.45 773.81C87.51 774.26 87.5 774.73 87.5 775.19C87.5 775.65 87.3 776.15 87.43 776.58C87.57 777.02 88.01 777.39 88.28 777.79C88.56 778.2 88.96 778.58 89.06 779.02C89.15 779.46 88.87 779.97 88.85 780.45C88.84 780.92 88.74 781.45 88.96 781.85C89.18 782.25 89.83 782.51 90.17 782.86C90.51 783.21 90.67 783.6 91.01 783.94C91.34 784.28 91.78 784.58 92.18 784.9C92.58 785.21 93.18 785.42 93.39 785.83C93.6 786.24 93.45 786.84 93.44 787.36C93.42 787.88 93.2 788.47 93.3 788.97C93.4 789.46 93.83 789.83 94.03 790.31C94.23 790.79 94.21 791.48 94.49 791.84C94.76 792.2 95.24 792.31 95.67 792.48C96.11 792.65 96.72 792.61 97.08 792.86C97.44 793.11 97.6 793.53 97.85 793.98C98.09 794.44 98.19 795.25 98.55 795.6C98.91 795.95 99.51 795.92 100.02 796.08C100.53 796.24 101.27 796.3 101.62 796.57C101.98 796.85 101.93 797.37 102.14 797.73C102.35 798.1 102.67 798.41 102.9 798.76C103.14 799.11 103.44 799.42 103.55 799.84C103.66 800.26 103.5 800.81 103.56 801.28C103.61 801.74 103.61 802.28 103.9 802.64C104.2 803.01 104.93 803.15 105.32 803.46C105.72 803.77 106.09 804.1 106.28 804.52C106.47 804.93 106.31 805.5 106.46 805.96C106.61 806.42 106.97 806.82 107.19 807.27C107.42 807.72 107.63 808.18 107.82 808.65C108.01 809.12 108 809.72 108.33 810.1C108.66 810.47 109.36 810.59 109.8 810.88C110.24 811.18 110.76 811.42 110.96 811.86C111.17 812.3 110.88 813.06 111.03 813.53C111.19 814.01 111.76 814.51 111.9 814.7" stroke="#e8683a" stroke-width="1.15" fill="none" stroke-linejoin="round" stroke-linecap="round"/>
<path d="M82 772L86.8 772L86.4 777L84.7 781L83.2 777Z" fill="#e8683a" opacity="0.55"/>
<path d="M81.7 684.2C82.66 680.83 73.01 676.61 67.3 677.9C70.23 682.97 79.88 687.19 81.7 684.2Z" fill="#fff" stroke="#2a2a2a" stroke-width="0.55"/>
<path d="M81.12 683.95L68.31 678.34M79.54 683.25L78.16 680.13M79.54 683.25L76.31 684.36M76.66 682L75.27 678.9M76.66 682L73.44 683.08M73.78 680.74L72.22 678.04M73.78 680.74L70.74 681.42M70.9 679.48L68.93 677.7M70.9 679.48L68.26 679.24" stroke="#444" stroke-width="0.4" fill="none"/>
<path d="M86.4 705.8C90.27 708.95 103.07 697.43 105.5 688.6C96.47 690.09 83.67 701.62 86.4 705.8Z" fill="#fff" stroke="#2a2a2a" stroke-width="0.55"/>
<path d="M87.16 705.11L104.16 689.8M89.27 703.22L94.52 702.91M89.27 703.22L90.12 698.03M93.09 699.78L98.31 699.44M93.09 699.78L93.97 694.62M96.91 696.34L101.72 695.54M96.91 696.34L98.2 691.64M100.72 692.9L104.58 691.04M100.72 692.9L102.98 689.26" stroke="#444" stroke-width="0.4" fill="none"/>
<path d="M85.5 657.4C89.36 657.54 89.57 651.57 86 643.2C81.85 651.3 81.64 657.26 85.5 657.4Z" fill="#fff" stroke="#666" stroke-width="0.5"/>
<path d="M85.52 656.83L85.97 644.19M85.58 655.27L88.11 653.23M85.58 655.27L83.19 653.05M85.69 652.08L87.87 650.02M85.69 652.08L83.65 649.87M85.8 648.88L87.2 646.8M85.8 648.88L84.55 646.7" stroke="#888" stroke-width="0.4" fill="none"/>
<path d="M83.9 657.6C83.9 660.33 83.95 669.77 83.9 674C83.85 678.23 83.53 679.17 83.6 683C83.68 686.83 84.17 693.17 84.35 697C84.53 700.83 84.84 703.17 84.7 706C84.56 708.83 83.72 711.33 83.5 714C83.28 716.67 83.38 719.5 83.35 722C83.33 724.5 83.27 726.58 83.35 729C83.43 731.42 83.64 733.92 83.85 736.5C84.06 739.08 84.56 741.25 84.6 744.5C84.64 747.75 84.23 751.75 84.1 756C83.98 760.25 83.89 767.33 83.85 770C83.81 772.67 83.85 771.67 83.85 772" stroke="#000" stroke-width="4.6" fill="none" stroke-linejoin="round"/>
<path d="M82.2 664.6C82.55 661.91 79.75 660.67 75.2 661.5C78.35 663.84 81.15 665.08 82.2 664.6Z" fill="#bcc83a"/>
<path d="M86.1 660.4C86.98 660.67 89.02 659.39 91.2 657.2C87.53 657.02 85.49 658.3 86.1 660.4Z" fill="#bcc83a"/>
<path d="M86.2 670.8C87.91 671.47 91.71 669.15 95.7 665C88.94 664.6 85.14 666.92 86.2 670.8Z" fill="#bcc83a"/>
<rect x="81" y="674.2" width="5.9" height="8.6" fill="#f0a030" stroke="#9a9a80" stroke-width="0.3"/>
<path d="M86.4 750.9L92 747.6" stroke="#222" stroke-width="0.7"/>
<path d="M82.2 735L79.7 733.6" stroke="#222" stroke-width="0.7"/>
<path d="M79.8 733.8C83.62 727.62 65.82 712.85 54 712.4C56.63 723.93 74.43 738.7 79.8 733.8Z" fill="#1f409e" stroke="#1a1a1a" stroke-width="0.6"/>
<path d="M78.77 732.94L55.81 713.9M76.7 731.23L75.58 724.19M76.7 731.23L69.57 731.43M72.45 727.7L71.42 720.54M72.45 727.7L65.22 728.01M68.19 724.17L66.89 717.34M68.19 724.17L61.24 724.15M63.93 720.64L61.93 714.65M63.93 720.64L57.68 719.78M59.68 717.11L56.46 712.58M59.68 717.11L54.63 714.79" stroke="#2a1808" stroke-width="0.55" fill="none" opacity="0.85"/>
<path d="M90.4 746.8C96.32 751.69 115.23 734.58 117.8 722C105.03 723.31 86.12 740.42 90.4 746.8Z" fill="#1f409e" stroke="#1a1a1a" stroke-width="0.6"/>
<path d="M91.5 745.81L115.88 723.74M93.69 743.82L101.4 743.54M93.69 743.82L94.74 736.18M98.21 739.73L106.03 739.56M98.21 739.73L99.16 731.97M102.73 735.64L110.25 735.13M102.73 735.64L103.98 728.21M107.25 731.55L114 730.19M107.25 731.55L109.27 724.97M111.77 727.46L117.17 724.61M111.77 727.46L115.14 722.37" stroke="#2a1808" stroke-width="0.55" fill="none" opacity="0.85"/>
<circle cx="83.4" cy="735.8" r="1.7" fill="#f0ee30"/>
<rect x="14" y="795.5" width="4" height="3.7" fill="#e2001a"/>
<text x="18.9" y="798.5" font-size="4.9" fill="#262626">0.33</text>
<rect x="14" y="800.04" width="4" height="3.7" fill="#ea3a1e"/>
<text x="18.9" y="803.04" font-size="4.9" fill="#262626">0.27</text>
<rect x="14" y="804.58" width="4" height="3.7" fill="#ee6a1e"/>
<text x="18.9" y="807.58" font-size="4.9" fill="#262626">0.2</text>
<rect x="14" y="809.12" width="4" height="3.7" fill="#f29a22"/>
<text x="18.9" y="812.12" font-size="4.9" fill="#262626">0.13</text>
<rect x="14" y="813.66" width="4" height="3.7" fill="#f5c523"/>
<text x="18.9" y="816.66" font-size="4.9" fill="#262626">0.07</text>
<rect x="14" y="818.2" width="4" height="3.7" fill="#f4ec2a"/>
<text x="18.9" y="821.2" font-size="4.9" fill="#262626">0</text>
<rect x="14" y="822.74" width="4" height="3.7" fill="#c2c636"/>
<text x="18.9" y="825.74" font-size="4.9" fill="#262626">-0.07</text>
<rect x="14" y="827.28" width="4" height="3.7" fill="#9a9c60"/>
<text x="18.9" y="830.28" font-size="4.9" fill="#262626">-0.13</text>
<rect x="14" y="831.82" width="4" height="3.7" fill="#5a6494"/>
<text x="18.9" y="834.82" font-size="4.9" fill="#262626">-0.2</text>
<rect x="14" y="836.36" width="4" height="3.7" fill="#2e4496"/>
<text x="18.9" y="839.36" font-size="4.9" fill="#262626">-0.27</text>
<rect x="14" y="840.9" width="4" height="3.7" fill="#1c3e9c"/>
<text x="18.9" y="843.9" font-size="4.9" fill="#262626">-0.33</text>
<path d="M43.5 850.4V939.4H133.5" stroke="#8a8a8a" stroke-width="0.75" fill="none"/>
<path d="M41.4 939.4H43.5" stroke="#8a8a8a" stroke-width="0.7"/>
<text x="40.7" y="942.15" font-size="7.3" text-anchor="end" fill="#262626">0.0</text>
<path d="M41.4 909.73H43.5" stroke="#8a8a8a" stroke-width="0.7"/>
<text x="40.7" y="912.48" font-size="7.3" text-anchor="end" fill="#262626">0.5</text>
<path d="M41.4 880.07H43.5" stroke="#8a8a8a" stroke-width="0.7"/>
<text x="40.7" y="882.82" font-size="7.3" text-anchor="end" fill="#262626">1.0</text>
<path d="M41.4 850.4H43.5" stroke="#8a8a8a" stroke-width="0.7"/>
<text x="40.7" y="853.15" font-size="7.3" text-anchor="end" fill="#262626">1.5</text>
<path d="M69.7 939.4V941" stroke="#8a8a8a" stroke-width="0.7"/>
<path d="M107.8 939.4V941" stroke="#8a8a8a" stroke-width="0.7"/>
<text transform="translate(26.8 895.6) rotate(-90)" font-size="7.55" text-anchor="middle" fill="#262626">Relative expression level</text>
<rect x="57.1" y="880.07" width="25.6" height="59.33" fill="#f0801e" stroke="#c86010" stroke-width="0.4"/>
<path d="M69.9 880.07V874.13M63.7 874.13H76.1" stroke="#808080" stroke-width="0.75" fill="none"/>
<rect x="95.1" y="937.03" width="25.6" height="2.37" fill="#35ab37" stroke="#208a22" stroke-width="0.4"/>
<text x="107.9" y="938.63" font-size="8" font-weight="bold" text-anchor="middle" fill="#444">**</text>
<rect x="91.8" y="854.2" width="10" height="4.8" fill="#f0801e"/>
<rect x="91.8" y="866" width="10" height="4.8" fill="#35ab37"/>
<text x="106.8" y="859.1" font-size="7.3" fill="#262626">Roots</text>
<text x="106.8" y="870.9" font-size="7.3" fill="#262626">Leaves</text>
<text x="223.2" y="664" font-size="7.35" fill="#262626">Young leaves</text>
<text x="212.4" y="680.5" font-size="7.35" fill="#262626">Internode</text>
<text x="187.6" y="742.5" font-size="7.35" fill="#262626">Node</text>
<text x="221.5" y="758.5" font-size="7.35" fill="#262626">Mature leaves</text>
<text x="231.4" y="794.1" font-size="7.35" fill="#262626">Roots</text>
<text x="206.7" y="641.5" font-size="7.5" font-style="italic" text-anchor="middle" fill="#262626">PtrAPX10</text>
<path d="M168.2 773.27 L170.18 772.84 L172.16 772.86 L174.14 772.93 L176.12 772.71 L178.1 772.55 L180.08 772.54 L182.06 772.25 L184.04 772.16 L186.02 771.99 L188 771.99 L189.98 771.77 L191.97 771.8 L193.95 771.77 L195.93 771.2 L197.91 771.43 L199.89 771.19 L201.87 771.21 L203.85 771.1 L205.83 770.97 L207.81 770.7 L209.79 770.95 L211.77 771.06 L213.75 771.07 L215.73 770.76 L217.71 770.85 L219.69 771.19 L221.67 770.96 L223.65 771.16 L225.63 771.31 L227.61 771.42 L229.59 771.43 L231.57 771.57 L233.55 771.54 L235.53 771.33 L237.52 771.46 L239.5 771.72 L241.48 771.92 L243.46 771.8 L245.44 771.64 L247.42 772.05 L249.4 772.15 L251.38 771.92 L253.36 772.25 L255.34 772.01 L257.32 772.05 L259.3 772.36 L259.3 772.99 L257.32 772.96 L255.34 773.22 L253.36 773.13 L251.38 773.22 L249.4 772.94 L247.42 773.21 L245.44 773.35 L243.46 772.99 L241.48 773.41 L239.5 773.29 L237.52 773.19 L235.53 773.18 L233.55 773.42 L231.57 773.17 L229.59 773.14 L227.61 773.17 L225.63 773.1 L223.65 773.16 L221.67 773.38 L219.69 773.36 L217.71 773.26 L215.73 773.52 L213.75 773.28 L211.77 773.42 L209.79 773.35 L207.81 773.25 L205.83 773.41 L203.85 773.48 L201.87 773.74 L199.89 773.66 L197.91 773.62 L195.93 773.79 L193.95 773.56 L191.97 773.63 L189.98 773.58 L188 773.51 L186.02 773.66 L184.04 773.58 L182.06 773.81 L180.08 774.01 L178.1 773.93 L176.12 773.93 L174.14 774.18 L172.16 774.07 L170.18 773.82 L168.2 773.97Z" fill="#b89a72"/>
<path d="M236.08 771.88l1.63 0.26M225.56 771.97l2.69 -0.35M228.48 772.05l2.22 0.37M220.3 772.3l2.88 0.21M196.52 772.96l1.64 0.35M247.77 772.06l3.87 0.02M250.37 772.1l2.15 -0.29M209.01 771.96l2.93 -0.14M239.91 772.37l2.79 -0.24M238.66 772.41l2.7 -0.33M226.68 772.24l3.4 0.08M234.31 772.1l1.8 -0.37M200.17 772.3l2.7 0.08M194.07 772.19l3.47 0.27M193.58 772.15l2.93 -0.02M225 772.18l2.53 -0.4M231.75 772.53l3.8 0.38M179.18 773.15l2.15 0.15M189.12 772.6l2.33 0.05M178.63 773.65l1.73 0.32M244.94 772.51l2.71 0.4M211.97 772.4l3.95 0.18M204.35 772.6l1.88 -0.28M249.07 772.29l3.99 0.05M232.74 772.07l1.53 0.02M240.42 772.83l3.58 -0.2" stroke="#86643e" stroke-width="0.55" fill="none" opacity="0.8"/>
<path d="M205.4 772.5C205.36 772.71 205.22 773.32 205.17 773.73C205.12 774.15 205.08 774.56 205.09 774.98C205.11 775.39 205.25 775.82 205.26 776.24C205.28 776.65 205.19 777.06 205.18 777.48C205.16 777.9 205.16 778.31 205.18 778.73C205.21 779.15 205.38 779.59 205.31 779.99C205.24 780.39 205.16 780.88 204.76 781.13C204.36 781.38 203.36 781.12 202.89 781.48C202.42 781.85 202.28 782.87 201.96 783.32C201.63 783.77 201.34 783.96 200.95 784.19C200.57 784.42 200.03 784.46 199.65 784.68C199.26 784.91 198.96 785.15 198.63 785.51C198.31 785.87 197.98 786.39 197.69 786.85C197.39 787.3 196.98 787.66 196.88 788.24C196.78 788.81 197.19 789.8 197.1 790.3C197 790.79 196.66 791.01 196.3 791.22C195.93 791.43 195.32 791.39 194.91 791.55C194.51 791.72 194.14 791.92 193.84 792.2C193.55 792.48 193.4 792.92 193.15 793.23C192.89 793.53 192.66 793.78 192.31 794.03C191.97 794.28 191.45 794.39 191.1 794.72C190.74 795.04 190.54 795.68 190.16 795.98C189.79 796.27 189.37 796.41 188.85 796.47C188.32 796.53 187.48 796.16 187.02 796.32C186.55 796.48 186.31 796.99 186.05 797.42C185.79 797.85 185.73 798.48 185.45 798.88C185.18 799.29 184.61 799.46 184.4 799.83C184.19 800.21 184.26 800.7 184.18 801.12C184.09 801.55 184.11 802.01 183.88 802.39C183.65 802.77 183.1 803.01 182.79 803.41C182.48 803.81 182.05 804.25 182.01 804.77C181.96 805.29 182.49 805.97 182.52 806.52C182.56 807.07 182.41 807.6 182.2 808.07C181.98 808.54 181.47 808.89 181.21 809.34C180.95 809.79 180.92 810.32 180.64 810.78C180.36 811.25 179.71 811.65 179.51 812.12C179.31 812.59 179.32 813.09 179.43 813.61C179.54 814.13 180.21 814.74 180.18 815.24C180.16 815.73 179.45 816.37 179.3 816.6" stroke="#5473c2" stroke-width="1.15" fill="none" stroke-linejoin="round" stroke-linecap="round"/>
<path d="M207.3 772.5C207.31 772.71 207.32 773.33 207.34 773.74C207.36 774.15 207.41 774.57 207.43 774.98C207.44 775.39 207.4 775.81 207.45 776.22C207.49 776.63 207.68 777.04 207.7 777.45C207.72 777.87 207.7 778.28 207.56 778.7C207.41 779.11 206.93 779.53 206.81 779.95C206.69 780.37 206.69 780.78 206.85 781.19C207 781.6 207.53 782.01 207.73 782.42C207.93 782.83 208.06 783.24 208.04 783.65C208.02 784.06 207.62 784.4 207.62 784.86C207.61 785.33 207.9 785.94 208.01 786.45C208.11 786.96 208.31 787.5 208.25 787.94C208.19 788.38 207.69 788.68 207.64 789.12C207.59 789.55 207.93 790.05 207.95 790.53C207.96 791.02 207.98 791.64 207.74 792.02C207.51 792.39 206.95 792.54 206.54 792.78C206.12 793.03 205.57 793.17 205.25 793.49C204.92 793.81 204.8 794.29 204.6 794.7C204.4 795.12 204.24 795.57 204.05 796C203.87 796.43 203.59 796.78 203.47 797.27C203.36 797.77 203.55 798.55 203.38 798.99C203.2 799.43 202.85 799.71 202.42 799.91C201.99 800.1 201.26 799.98 200.81 800.15C200.36 800.32 199.99 800.58 199.72 800.94C199.46 801.3 199.39 801.87 199.23 802.32C199.07 802.76 198.95 803.19 198.76 803.61C198.58 804.03 198.3 804.42 198.14 804.84C197.99 805.25 198 805.71 197.82 806.11C197.64 806.51 197.36 806.88 197.06 807.25C196.77 807.61 196.2 807.91 196.04 808.32C195.88 808.72 196 809.21 196.09 809.66C196.18 810.12 196.53 810.61 196.58 811.05C196.63 811.48 196.51 811.87 196.39 812.28C196.28 812.69 195.98 813.07 195.88 813.48C195.78 813.89 195.85 814.31 195.78 814.72C195.71 815.13 195.52 815.53 195.48 815.95C195.43 816.36 195.5 816.99 195.5 817.2" stroke="#5473c2" stroke-width="1.15" fill="none" stroke-linejoin="round" stroke-linecap="round"/>
<path d="M209.2 772.5C209.24 772.71 209.36 773.32 209.45 773.73C209.55 774.14 209.68 774.54 209.78 774.95C209.88 775.36 210.06 775.75 210.05 776.18C210.04 776.61 209.8 777.08 209.73 777.52C209.66 777.96 209.48 778.41 209.64 778.81C209.79 779.21 210.36 779.53 210.65 779.91C210.94 780.28 211.28 780.64 211.37 781.05C211.46 781.47 211.25 781.94 211.2 782.38C211.16 782.81 211.08 783.24 211.1 783.66C211.11 784.08 211.29 784.48 211.29 784.9C211.29 785.32 211.12 785.77 211.08 786.19C211.05 786.62 210.94 787.07 211.09 787.47C211.25 787.87 211.76 788.23 212.03 788.61C212.3 789 212.66 789.38 212.7 789.79C212.74 790.21 212.39 790.67 212.26 791.13C212.13 791.6 211.84 792.16 211.91 792.59C211.99 793.02 212.47 793.33 212.71 793.72C212.96 794.11 213.15 794.53 213.36 794.93C213.58 795.34 213.69 795.79 214 796.15C214.31 796.51 214.92 796.72 215.22 797.08C215.52 797.45 215.74 797.91 215.79 798.35C215.83 798.79 215.59 799.29 215.49 799.72C215.4 800.15 215.19 800.51 215.22 800.94C215.24 801.37 215.58 801.85 215.65 802.27C215.71 802.7 215.61 803.06 215.62 803.47C215.62 803.88 215.6 804.32 215.68 804.73C215.76 805.15 216.01 805.54 216.07 805.96C216.13 806.37 216.16 806.8 216.05 807.23C215.94 807.65 215.53 808.08 215.42 808.5C215.31 808.92 215.24 809.33 215.38 809.74C215.51 810.16 216.03 810.57 216.23 810.99C216.43 811.4 216.58 811.81 216.57 812.23C216.55 812.64 216.24 813.06 216.14 813.47C216.04 813.89 216.01 814.3 215.98 814.71C215.96 815.13 215.99 815.54 215.99 815.96C215.99 816.37 216 816.99 216 817.2" stroke="#5473c2" stroke-width="1.15" fill="none" stroke-linejoin="round" stroke-linecap="round"/>
<path d="M210.4 772.5C210.46 772.72 210.68 773.37 210.75 773.81C210.81 774.26 210.8 774.73 210.8 775.19C210.8 775.65 210.6 776.15 210.73 776.58C210.87 777.02 211.31 777.39 211.58 777.79C211.86 778.2 212.26 778.58 212.36 779.02C212.45 779.46 212.17 779.97 212.15 780.45C212.14 780.92 212.04 781.45 212.26 781.85C212.48 782.25 213.13 782.51 213.47 782.86C213.81 783.21 213.97 783.6 214.31 783.94C214.64 784.28 215.08 784.58 215.48 784.9C215.88 785.21 216.48 785.42 216.69 785.83C216.9 786.24 216.75 786.84 216.74 787.36C216.72 787.88 216.5 788.47 216.6 788.97C216.7 789.46 217.13 789.83 217.33 790.31C217.53 790.79 217.51 791.48 217.79 791.84C218.06 792.2 218.54 792.31 218.97 792.48C219.41 792.65 220.02 792.61 220.38 792.86C220.74 793.11 220.9 793.53 221.15 793.98C221.39 794.44 221.49 795.25 221.85 795.6C222.21 795.95 222.81 795.92 223.32 796.08C223.83 796.24 224.57 796.3 224.92 796.57C225.28 796.85 225.23 797.37 225.44 797.73C225.65 798.1 225.97 798.41 226.2 798.76C226.44 799.11 226.74 799.42 226.85 799.84C226.96 800.26 226.8 800.81 226.86 801.28C226.91 801.74 226.91 802.28 227.2 802.64C227.5 803.01 228.23 803.15 228.62 803.46C229.02 803.77 229.39 804.1 229.58 804.52C229.77 804.93 229.61 805.5 229.76 805.96C229.91 806.42 230.27 806.82 230.49 807.27C230.72 807.72 230.93 808.18 231.12 808.65C231.31 809.12 231.3 809.72 231.63 810.1C231.96 810.47 232.66 810.59 233.1 810.88C233.54 811.18 234.06 811.42 234.26 811.86C234.47 812.3 234.18 813.06 234.33 813.53C234.49 814.01 235.06 814.51 235.2 814.7" stroke="#5473c2" stroke-width="1.15" fill="none" stroke-linejoin="round" stroke-linecap="round"/>
<path d="M205.3 772L210.1 772L209.7 777L208 781L206.5 777Z" fill="#5473c2" opacity="0.55"/>
<path d="M205 684.2C205.96 680.83 196.31 676.61 190.6 677.9C193.53 682.97 203.18 687.19 205 684.2Z" fill="#fff" stroke="#2a2a2a" stroke-width="0.55"/>
<path d="M204.42 683.95L191.61 678.34M202.84 683.25L201.46 680.13M202.84 683.25L199.61 684.36M199.96 682L198.57 678.9M199.96 682L196.74 683.08M197.08 680.74L195.52 678.04M197.08 680.74L194.04 681.42M194.2 679.48L192.23 677.7M194.2 679.48L191.56 679.24" stroke="#444" stroke-width="0.4" fill="none"/>
<path d="M209.7 705.8C213.57 708.95 226.37 697.43 228.8 688.6C219.77 690.09 206.97 701.62 209.7 705.8Z" fill="#fff" stroke="#2a2a2a" stroke-width="0.55"/>
<path d="M210.46 705.11L227.46 689.8M212.56 703.22L217.82 702.91M212.56 703.22L213.42 698.03M216.38 699.78L221.61 699.44M216.38 699.78L217.27 694.62M220.21 696.34L225.02 695.54M220.21 696.34L221.5 691.64M224.03 692.9L227.88 691.04M224.03 692.9L226.28 689.26" stroke="#444" stroke-width="0.4" fill="none"/>
<path d="M208.8 657.4C212.66 657.54 212.87 651.57 209.3 643.2C205.15 651.3 204.94 657.26 208.8 657.4Z" fill="#fff" stroke="#666" stroke-width="0.5"/>
<path d="M208.82 656.83L209.27 644.19M208.88 655.27L211.41 653.23M208.88 655.27L206.49 653.05M208.99 652.08L211.17 650.02M208.99 652.08L206.95 649.87M209.1 648.88L210.5 646.8M209.1 648.88L207.85 646.7" stroke="#888" stroke-width="0.4" fill="none"/>
<path d="M207.2 657.6C207.2 660.33 207.25 669.77 207.2 674C207.15 678.23 206.82 679.17 206.9 683C206.98 686.83 207.47 693.17 207.65 697C207.83 700.83 208.14 703.17 208 706C207.86 708.83 207.03 711.33 206.8 714C206.58 716.67 206.68 719.5 206.65 722C206.62 724.5 206.57 726.58 206.65 729C206.73 731.42 206.94 733.92 207.15 736.5C207.36 739.08 207.86 741.25 207.9 744.5C207.94 747.75 207.53 751.75 207.4 756C207.28 760.25 207.19 767.33 207.15 770C207.11 772.67 207.15 771.67 207.15 772" stroke="#000" stroke-width="4.6" fill="none" stroke-linejoin="round"/>
<path d="M205.5 664.6C205.85 661.91 203.05 660.67 198.5 661.5C201.65 663.84 204.45 665.08 205.5 664.6Z" fill="#e08a20"/>
<path d="M209.4 660.4C210.28 660.67 212.32 659.39 214.5 657.2C210.83 657.02 208.79 658.3 209.4 660.4Z" fill="#e08a20"/>
<path d="M209.5 670.8C211.21 671.47 215.01 669.15 219 665C212.24 664.6 208.44 666.92 209.5 670.8Z" fill="#e08a20"/>
<rect x="204.3" y="674.2" width="5.9" height="8.6" fill="#eee030" stroke="#9a9a80" stroke-width="0.3"/>
<path d="M209.7 750.9L215.3 747.6" stroke="#222" stroke-width="0.7"/>
<path d="M205.5 735L203 733.6" stroke="#222" stroke-width="0.7"/>
<path d="M203.1 733.8C206.92 727.62 189.12 712.85 177.3 712.4C179.93 723.93 197.73 738.7 203.1 733.8Z" fill="#e3141c" stroke="#1a1a1a" stroke-width="0.6"/>
<path d="M202.07 732.94L179.11 713.9M200 731.23L198.88 724.19M200 731.23L192.87 731.43M195.75 727.7L194.72 720.54M195.75 727.7L188.52 728.01M191.49 724.17L190.19 717.34M191.49 724.17L184.54 724.15M187.23 720.64L185.23 714.65M187.23 720.64L180.98 719.78M182.98 717.11L179.76 712.58M182.98 717.11L177.93 714.79" stroke="#2a1808" stroke-width="0.55" fill="none" opacity="0.85"/>
<path d="M213.7 746.8C219.62 751.69 238.53 734.58 241.1 722C228.33 723.31 209.42 740.42 213.7 746.8Z" fill="#e3141c" stroke="#1a1a1a" stroke-width="0.6"/>
<path d="M214.8 745.81L239.18 723.74M216.99 743.82L224.7 743.54M216.99 743.82L218.04 736.18M221.51 739.73L229.33 739.56M221.51 739.73L222.46 731.97M226.03 735.64L233.55 735.13M226.03 735.64L227.28 728.21M230.55 731.55L237.3 730.19M230.55 731.55L232.57 724.97M235.07 727.46L240.47 724.61M235.07 727.46L238.44 722.37" stroke="#2a1808" stroke-width="0.55" fill="none" opacity="0.85"/>
<circle cx="206.7" cy="735.8" r="1.7" fill="#f0ee30"/>
<rect x="137.8" y="795.5" width="4" height="3.7" fill="#e2001a"/>
<text x="142.7" y="798.5" font-size="4.9" fill="#262626">0.77</text>
<rect x="137.8" y="800.04" width="4" height="3.7" fill="#ea3a1e"/>
<text x="142.7" y="803.04" font-size="4.9" fill="#262626">0.62</text>
<rect x="137.8" y="804.58" width="4" height="3.7" fill="#ee6a1e"/>
<text x="142.7" y="807.58" font-size="4.9" fill="#262626">0.46</text>
<rect x="137.8" y="809.12" width="4" height="3.7" fill="#f29a22"/>
<text x="142.7" y="812.12" font-size="4.9" fill="#262626">0.31</text>
<rect x="137.8" y="813.66" width="4" height="3.7" fill="#f5c523"/>
<text x="142.7" y="816.66" font-size="4.9" fill="#262626">0.15</text>
<rect x="137.8" y="818.2" width="4" height="3.7" fill="#f4ec2a"/>
<text x="142.7" y="821.2" font-size="4.9" fill="#262626">0</text>
<rect x="137.8" y="822.74" width="4" height="3.7" fill="#c2c636"/>
<text x="142.7" y="825.74" font-size="4.9" fill="#262626">-0.15</text>
<rect x="137.8" y="827.28" width="4" height="3.7" fill="#9a9c60"/>
<text x="142.7" y="830.28" font-size="4.9" fill="#262626">-0.31</text>
<rect x="137.8" y="831.82" width="4" height="3.7" fill="#5a6494"/>
<text x="142.7" y="834.82" font-size="4.9" fill="#262626">-0.46</text>
<rect x="137.8" y="836.36" width="4" height="3.7" fill="#2e4496"/>
<text x="142.7" y="839.36" font-size="4.9" fill="#262626">-0.62</text>
<rect x="137.8" y="840.9" width="4" height="3.7" fill="#1c3e9c"/>
<text x="142.7" y="843.9" font-size="4.9" fill="#262626">-0.77</text>
<path d="M163.2 850.4V939.4H253.2" stroke="#8a8a8a" stroke-width="0.75" fill="none"/>
<path d="M161.1 939.4H163.2" stroke="#8a8a8a" stroke-width="0.7"/>
<text x="160.4" y="942.15" font-size="7.3" text-anchor="end" fill="#262626">0.0</text>
<path d="M161.1 909.73H163.2" stroke="#8a8a8a" stroke-width="0.7"/>
<text x="160.4" y="912.48" font-size="7.3" text-anchor="end" fill="#262626">0.5</text>
<path d="M161.1 880.07H163.2" stroke="#8a8a8a" stroke-width="0.7"/>
<text x="160.4" y="882.82" font-size="7.3" text-anchor="end" fill="#262626">1.0</text>
<path d="M161.1 850.4H163.2" stroke="#8a8a8a" stroke-width="0.7"/>
<text x="160.4" y="853.15" font-size="7.3" text-anchor="end" fill="#262626">1.5</text>
<path d="M189.4 939.4V941" stroke="#8a8a8a" stroke-width="0.7"/>
<path d="M227.5 939.4V941" stroke="#8a8a8a" stroke-width="0.7"/>
<text transform="translate(146.5 895.6) rotate(-90)" font-size="7.55" text-anchor="middle" fill="#262626">Relative expression level</text>
<rect x="176.8" y="880.07" width="25.6" height="59.33" fill="#f0801e" stroke="#c86010" stroke-width="0.4"/>
<path d="M189.6 880.07V874.13M183.4 874.13H195.8" stroke="#808080" stroke-width="0.75" fill="none"/>
<rect x="214.8" y="933.47" width="25.6" height="5.93" fill="#35ab37" stroke="#208a22" stroke-width="0.4"/>
<path d="M227.6 933.47V932.87M221.4 932.87H233.8" stroke="#808080" stroke-width="0.75" fill="none"/>
<text x="227.6" y="934.47" font-size="8" font-weight="bold" text-anchor="middle" fill="#444">**</text>
<rect x="211.5" y="854.2" width="10" height="4.8" fill="#f0801e"/>
<rect x="211.5" y="866" width="10" height="4.8" fill="#35ab37"/>
<text x="226.5" y="859.1" font-size="7.3" fill="#262626">Roots</text>
<text x="226.5" y="870.9" font-size="7.3" fill="#262626">Leaves</text>
<text x="346.1" y="664" font-size="7.35" fill="#262626">Young leaves</text>
<text x="336.2" y="680.5" font-size="7.35" fill="#262626">Internode</text>
<text x="311" y="742.5" font-size="7.35" fill="#262626">Node</text>
<text x="348.8" y="758.5" font-size="7.35" fill="#262626">Mature leaves</text>
<text x="355.7" y="794.1" font-size="7.35" fill="#262626">Roots</text>
<text x="332.8" y="641.5" font-size="7.5" font-style="italic" text-anchor="middle" fill="#262626">PtrAPX11</text>
<path d="M291.4 773.34 L293.38 772.95 L295.36 772.76 L297.34 772.72 L299.32 772.76 L301.3 772.8 L303.28 772.21 L305.26 772.26 L307.24 772.07 L309.22 772.03 L311.2 771.9 L313.18 771.92 L315.17 771.77 L317.15 771.37 L319.13 771.69 L321.11 771.26 L323.09 771.35 L325.07 771.28 L327.05 770.71 L329.03 770.67 L331.01 770.85 L332.99 770.89 L334.97 770.95 L336.95 770.79 L338.93 770.89 L340.91 770.96 L342.89 770.85 L344.87 770.9 L346.85 771.09 L348.83 771.28 L350.81 771.39 L352.79 771.56 L354.77 771.53 L356.75 771.54 L358.73 771.62 L360.72 771.79 L362.7 771.47 L364.68 771.74 L366.66 771.7 L368.64 771.69 L370.62 771.91 L372.6 771.98 L374.58 771.93 L376.56 772.06 L378.54 771.86 L380.52 772.1 L382.5 772.06 L382.5 773.27 L380.52 773.11 L378.54 772.97 L376.56 773.32 L374.58 773.29 L372.6 773 L370.62 773.12 L368.64 772.9 L366.66 773.13 L364.68 773.29 L362.7 772.96 L360.72 773.03 L358.73 773.45 L356.75 773.45 L354.77 773.47 L352.79 773.32 L350.81 773.54 L348.83 773.43 L346.85 773.3 L344.87 773.22 L342.89 773.56 L340.91 773.48 L338.93 773.3 L336.95 773.42 L334.97 773.31 L332.99 773.57 L331.01 773.66 L329.03 773.69 L327.05 773.49 L325.07 773.46 L323.09 773.52 L321.11 773.51 L319.13 773.56 L317.15 773.78 L315.17 773.65 L313.18 773.63 L311.2 773.88 L309.22 773.71 L307.24 773.73 L305.26 773.77 L303.28 773.84 L301.3 773.87 L299.32 773.92 L297.34 774.12 L295.36 773.84 L293.38 773.88 L291.4 774.1Z" fill="#b89a72"/>
<path d="M352.8 772.74l2.51 -0.15M359.16 772.55l1.59 0.01M313.34 772.47l3.74 0.1M314.75 772.45l2.3 -0.22M324.06 772.47l2.88 -0.03M351.98 772.67l1.72 -0.3M335.56 771.87l2.82 0.28M312.12 772.78l2.66 0.28M366.47 772.49l1.77 -0.03M320.5 772.13l2.34 0.1M304.35 773l1.92 -0.02M301.54 773.24l1.63 0.18M299.36 773.3l3.77 -0.34M320.38 772.1l2.57 -0.21M363.61 772.52l2.63 -0.02M321.71 772.19l2.65 -0.35M365.09 772.35l1.53 -0.16M312.55 772.62l2.61 -0.1M363.74 772.02l2.65 -0.04M303 773.2l2.3 0.1M316.75 773.1l3.37 -0.22M316.27 772.93l3.14 0.21M312.7 773.28l3.65 0.27M347.9 771.88l2.42 -0.15M323.84 772.82l2.22 -0.01M351.8 772.45l2.18 0.39" stroke="#86643e" stroke-width="0.55" fill="none" opacity="0.8"/>
<path d="M328.6 772.5C328.56 772.71 328.42 773.32 328.37 773.73C328.32 774.15 328.28 774.56 328.29 774.98C328.31 775.39 328.45 775.82 328.46 776.24C328.48 776.65 328.39 777.06 328.38 777.48C328.36 777.9 328.36 778.31 328.38 778.73C328.41 779.15 328.58 779.59 328.51 779.99C328.44 780.39 328.36 780.88 327.96 781.13C327.56 781.38 326.56 781.12 326.09 781.48C325.62 781.85 325.48 782.87 325.16 783.32C324.83 783.77 324.54 783.96 324.15 784.19C323.77 784.42 323.23 784.46 322.85 784.68C322.46 784.91 322.16 785.15 321.83 785.51C321.51 785.87 321.18 786.39 320.89 786.85C320.59 787.3 320.18 787.66 320.08 788.24C319.98 788.81 320.39 789.8 320.3 790.3C320.2 790.79 319.86 791.01 319.5 791.22C319.13 791.43 318.52 791.39 318.11 791.55C317.71 791.72 317.34 791.92 317.04 792.2C316.75 792.48 316.6 792.92 316.35 793.23C316.09 793.53 315.86 793.78 315.51 794.03C315.17 794.28 314.65 794.39 314.3 794.72C313.94 795.04 313.74 795.68 313.36 795.98C312.99 796.27 312.57 796.41 312.05 796.47C311.52 796.53 310.68 796.16 310.22 796.32C309.75 796.48 309.51 796.99 309.25 797.42C308.99 797.85 308.93 798.48 308.65 798.88C308.38 799.29 307.81 799.46 307.6 799.83C307.39 800.21 307.46 800.7 307.38 801.12C307.29 801.55 307.31 802.01 307.08 802.39C306.85 802.77 306.3 803.01 305.99 803.41C305.68 803.81 305.25 804.25 305.21 804.77C305.16 805.29 305.69 805.97 305.72 806.52C305.76 807.07 305.61 807.6 305.4 808.07C305.18 808.54 304.67 808.89 304.41 809.34C304.15 809.79 304.12 810.32 303.84 810.78C303.56 811.25 302.91 811.65 302.71 812.12C302.51 812.59 302.52 813.09 302.63 813.61C302.74 814.13 303.41 814.74 303.38 815.24C303.36 815.73 302.65 816.37 302.5 816.6" stroke="#eed430" stroke-width="1.15" fill="none" stroke-linejoin="round" stroke-linecap="round"/>
<path d="M330.5 772.5C330.51 772.71 330.52 773.33 330.54 773.74C330.56 774.15 330.61 774.57 330.63 774.98C330.64 775.39 330.6 775.81 330.65 776.22C330.69 776.63 330.88 777.04 330.9 777.45C330.92 777.87 330.9 778.28 330.76 778.7C330.61 779.11 330.13 779.53 330.01 779.95C329.89 780.37 329.89 780.78 330.05 781.19C330.2 781.6 330.73 782.01 330.93 782.42C331.13 782.83 331.26 783.24 331.24 783.65C331.22 784.06 330.82 784.4 330.82 784.86C330.81 785.33 331.1 785.94 331.21 786.45C331.31 786.96 331.51 787.5 331.45 787.94C331.39 788.38 330.89 788.68 330.84 789.12C330.79 789.55 331.13 790.05 331.15 790.53C331.16 791.02 331.18 791.64 330.94 792.02C330.71 792.39 330.15 792.54 329.74 792.78C329.32 793.03 328.77 793.17 328.45 793.49C328.12 793.81 328 794.29 327.8 794.7C327.6 795.12 327.44 795.57 327.25 796C327.07 796.43 326.79 796.78 326.67 797.27C326.56 797.77 326.75 798.55 326.58 798.99C326.4 799.43 326.05 799.71 325.62 799.91C325.19 800.1 324.46 799.98 324.01 800.15C323.56 800.32 323.19 800.58 322.92 800.94C322.66 801.3 322.59 801.87 322.43 802.32C322.27 802.76 322.15 803.19 321.96 803.61C321.78 804.03 321.5 804.42 321.34 804.84C321.19 805.25 321.2 805.71 321.02 806.11C320.84 806.51 320.56 806.88 320.26 807.25C319.97 807.61 319.4 807.91 319.24 808.32C319.08 808.72 319.2 809.21 319.29 809.66C319.38 810.12 319.73 810.61 319.78 811.05C319.83 811.48 319.71 811.87 319.59 812.28C319.48 812.69 319.18 813.07 319.08 813.48C318.98 813.89 319.05 814.31 318.98 814.72C318.91 815.13 318.72 815.53 318.68 815.95C318.63 816.36 318.7 816.99 318.7 817.2" stroke="#eed430" stroke-width="1.15" fill="none" stroke-linejoin="round" stroke-linecap="round"/>
<path d="M332.4 772.5C332.44 772.71 332.56 773.32 332.65 773.73C332.75 774.14 332.88 774.54 332.98 774.95C333.08 775.36 333.26 775.75 333.25 776.18C333.24 776.61 333 777.08 332.93 777.52C332.86 777.96 332.68 778.41 332.84 778.81C332.99 779.21 333.56 779.53 333.85 779.91C334.14 780.28 334.48 780.64 334.57 781.05C334.66 781.47 334.45 781.94 334.4 782.38C334.36 782.81 334.28 783.24 334.3 783.66C334.31 784.08 334.49 784.48 334.49 784.9C334.49 785.32 334.32 785.77 334.28 786.19C334.25 786.62 334.14 787.07 334.29 787.47C334.45 787.87 334.96 788.23 335.23 788.61C335.5 789 335.86 789.38 335.9 789.79C335.94 790.21 335.59 790.67 335.46 791.13C335.33 791.6 335.04 792.16 335.11 792.59C335.19 793.02 335.67 793.33 335.91 793.72C336.16 794.11 336.35 794.53 336.56 794.93C336.78 795.34 336.89 795.79 337.2 796.15C337.51 796.51 338.12 796.72 338.42 797.08C338.72 797.45 338.94 797.91 338.99 798.35C339.03 798.79 338.79 799.29 338.69 799.72C338.6 800.15 338.39 800.51 338.42 800.94C338.44 801.37 338.78 801.85 338.85 802.27C338.91 802.7 338.81 803.06 338.82 803.47C338.82 803.88 338.8 804.32 338.88 804.73C338.96 805.15 339.21 805.54 339.27 805.96C339.33 806.37 339.36 806.8 339.25 807.23C339.14 807.65 338.73 808.08 338.62 808.5C338.51 808.92 338.44 809.33 338.58 809.74C338.71 810.16 339.23 810.57 339.43 810.99C339.63 811.4 339.78 811.81 339.77 812.23C339.75 812.64 339.44 813.06 339.34 813.47C339.24 813.89 339.21 814.3 339.18 814.71C339.16 815.13 339.19 815.54 339.19 815.96C339.19 816.37 339.2 816.99 339.2 817.2" stroke="#eed430" stroke-width="1.15" fill="none" stroke-linejoin="round" stroke-linecap="round"/>
<path d="M333.6 772.5C333.66 772.72 333.88 773.37 333.95 773.81C334.01 774.26 334 774.73 334 775.19C334 775.65 333.8 776.15 333.93 776.58C334.07 777.02 334.51 777.39 334.78 777.79C335.06 778.2 335.46 778.58 335.56 779.02C335.65 779.46 335.37 779.97 335.35 780.45C335.34 780.92 335.24 781.45 335.46 781.85C335.68 782.25 336.33 782.51 336.67 782.86C337.01 783.21 337.17 783.6 337.51 783.94C337.84 784.28 338.28 784.58 338.68 784.9C339.08 785.21 339.68 785.42 339.89 785.83C340.1 786.24 339.95 786.84 339.94 787.36C339.92 787.88 339.7 788.47 339.8 788.97C339.9 789.46 340.33 789.83 340.53 790.31C340.73 790.79 340.71 791.48 340.99 791.84C341.26 792.2 341.74 792.31 342.17 792.48C342.61 792.65 343.22 792.61 343.58 792.86C343.94 793.11 344.1 793.53 344.35 793.98C344.59 794.44 344.69 795.25 345.05 795.6C345.41 795.95 346.01 795.92 346.52 796.08C347.03 796.24 347.77 796.3 348.12 796.57C348.48 796.85 348.43 797.37 348.64 797.73C348.85 798.1 349.17 798.41 349.4 798.76C349.64 799.11 349.94 799.42 350.05 799.84C350.16 800.26 350 800.81 350.06 801.28C350.11 801.74 350.11 802.28 350.4 802.64C350.7 803.01 351.43 803.15 351.82 803.46C352.22 803.77 352.59 804.1 352.78 804.52C352.97 804.93 352.81 805.5 352.96 805.96C353.11 806.42 353.47 806.82 353.69 807.27C353.92 807.72 354.13 808.18 354.32 808.65C354.51 809.12 354.5 809.72 354.83 810.1C355.16 810.47 355.86 810.59 356.3 810.88C356.74 811.18 357.26 811.42 357.46 811.86C357.67 812.3 357.38 813.06 357.53 813.53C357.69 814.01 358.26 814.51 358.4 814.7" stroke="#eed430" stroke-width="1.15" fill="none" stroke-linejoin="round" stroke-linecap="round"/>
<path d="M328.5 772L333.3 772L332.9 777L331.2 781L329.7 777Z" fill="#eed430" opacity="0.55"/>
<path d="M328.2 684.2C329.16 680.83 319.51 676.61 313.8 677.9C316.73 682.97 326.38 687.19 328.2 684.2Z" fill="#fff" stroke="#2a2a2a" stroke-width="0.55"/>
<path d="M327.62 683.95L314.81 678.34M326.04 683.25L324.66 680.13M326.04 683.25L322.81 684.36M323.16 682L321.77 678.9M323.16 682L319.94 683.08M320.28 680.74L318.72 678.04M320.28 680.74L317.24 681.42M317.4 679.48L315.43 677.7M317.4 679.48L314.76 679.24" stroke="#444" stroke-width="0.4" fill="none"/>
<path d="M332.9 705.8C336.77 708.95 349.57 697.43 352 688.6C342.97 690.09 330.17 701.62 332.9 705.8Z" fill="#fff" stroke="#2a2a2a" stroke-width="0.55"/>
<path d="M333.66 705.11L350.66 689.8M335.76 703.22L341.02 702.91M335.76 703.22L336.62 698.03M339.58 699.78L344.81 699.44M339.58 699.78L340.47 694.62M343.4 696.34L348.22 695.54M343.4 696.34L344.7 691.64M347.23 692.9L351.08 691.04M347.23 692.9L349.48 689.26" stroke="#444" stroke-width="0.4" fill="none"/>
<path d="M332 657.4C335.86 657.54 336.07 651.57 332.5 643.2C328.35 651.3 328.14 657.26 332 657.4Z" fill="#fff" stroke="#666" stroke-width="0.5"/>
<path d="M332.02 656.83L332.46 644.19M332.07 655.27L334.61 653.23M332.07 655.27L329.69 653.05M332.19 652.08L334.37 650.02M332.19 652.08L330.15 649.87M332.3 648.88L333.7 646.8M332.3 648.88L331.05 646.7" stroke="#888" stroke-width="0.4" fill="none"/>
<path d="M330.4 657.6C330.4 660.33 330.45 669.77 330.4 674C330.35 678.23 330.02 679.17 330.1 683C330.17 686.83 330.67 693.17 330.85 697C331.03 700.83 331.34 703.17 331.2 706C331.06 708.83 330.23 711.33 330 714C329.77 716.67 329.88 719.5 329.85 722C329.82 724.5 329.77 726.58 329.85 729C329.93 731.42 330.14 733.92 330.35 736.5C330.56 739.08 331.06 741.25 331.1 744.5C331.14 747.75 330.72 751.75 330.6 756C330.47 760.25 330.39 767.33 330.35 770C330.31 772.67 330.35 771.67 330.35 772" stroke="#000" stroke-width="4.6" fill="none" stroke-linejoin="round"/>
<path d="M328.7 664.6C329.05 661.91 326.25 660.67 321.7 661.5C324.85 663.84 327.65 665.08 328.7 664.6Z" fill="#1f409e"/>
<path d="M332.6 660.4C333.48 660.67 335.52 659.39 337.7 657.2C334.03 657.02 331.99 658.3 332.6 660.4Z" fill="#1f409e"/>
<path d="M332.7 670.8C334.41 671.47 338.21 669.15 342.2 665C335.44 664.6 331.64 666.92 332.7 670.8Z" fill="#1f409e"/>
<rect x="327.5" y="674.2" width="5.9" height="8.6" fill="#b0b050" stroke="#9a9a80" stroke-width="0.3"/>
<path d="M332.9 750.9L338.5 747.6" stroke="#222" stroke-width="0.7"/>
<path d="M328.7 735L326.2 733.6" stroke="#222" stroke-width="0.7"/>
<path d="M326.3 733.8C330.12 727.62 312.32 712.85 300.5 712.4C303.13 723.93 320.93 738.7 326.3 733.8Z" fill="#e6ea34" stroke="#1a1a1a" stroke-width="0.6"/>
<path d="M325.27 732.94L302.31 713.9M323.2 731.23L322.08 724.19M323.2 731.23L316.07 731.43M318.95 727.7L317.92 720.54M318.95 727.7L311.72 728.01M314.69 724.17L313.39 717.34M314.69 724.17L307.74 724.15M310.43 720.64L308.43 714.65M310.43 720.64L304.18 719.78M306.18 717.11L302.96 712.58M306.18 717.11L301.13 714.79" stroke="#2a1808" stroke-width="0.55" fill="none" opacity="0.85"/>
<path d="M336.9 746.8C342.82 751.69 361.73 734.58 364.3 722C351.53 723.31 332.62 740.42 336.9 746.8Z" fill="#e6ea34" stroke="#1a1a1a" stroke-width="0.6"/>
<path d="M338 745.81L362.38 723.74M340.19 743.82L347.9 743.54M340.19 743.82L341.24 736.18M344.71 739.73L352.53 739.56M344.71 739.73L345.66 731.97M349.23 735.64L356.75 735.13M349.23 735.64L350.48 728.21M353.75 731.55L360.5 730.19M353.75 731.55L355.77 724.97M358.27 727.46L363.67 724.61M358.27 727.46L361.64 722.37" stroke="#2a1808" stroke-width="0.55" fill="none" opacity="0.85"/>
<circle cx="329.9" cy="735.8" r="1.7" fill="#f0ee30"/>
<rect x="261.3" y="795.7" width="4" height="3.7" fill="#e2001a"/>
<text x="266.2" y="798.7" font-size="4.9" fill="#262626">1</text>
<rect x="261.3" y="800.24" width="4" height="3.7" fill="#ea3a1e"/>
<text x="266.2" y="803.24" font-size="4.9" fill="#262626">0.8</text>
<rect x="261.3" y="804.78" width="4" height="3.7" fill="#ee6a1e"/>
<text x="266.2" y="807.78" font-size="4.9" fill="#262626">0.6</text>
<rect x="261.3" y="809.32" width="4" height="3.7" fill="#f29a22"/>
<text x="266.2" y="812.32" font-size="4.9" fill="#262626">0.4</text>
<rect x="261.3" y="813.86" width="4" height="3.7" fill="#f5c523"/>
<text x="266.2" y="816.86" font-size="4.9" fill="#262626">0.2</text>
<rect x="261.3" y="818.4" width="4" height="3.7" fill="#f4ec2a"/>
<text x="266.2" y="821.4" font-size="4.9" fill="#262626">0</text>
<rect x="261.3" y="822.94" width="4" height="3.7" fill="#c2c636"/>
<text x="266.2" y="825.94" font-size="4.9" fill="#262626">-0.2</text>
<rect x="261.3" y="827.48" width="4" height="3.7" fill="#9a9c60"/>
<text x="266.2" y="830.48" font-size="4.9" fill="#262626">-0.4</text>
<rect x="261.3" y="832.02" width="4" height="3.7" fill="#5a6494"/>
<text x="266.2" y="835.02" font-size="4.9" fill="#262626">-0.6</text>
<rect x="261.3" y="836.56" width="4" height="3.7" fill="#2e4496"/>
<text x="266.2" y="839.56" font-size="4.9" fill="#262626">-0.8</text>
<rect x="261.3" y="841.1" width="4" height="3.7" fill="#1c3e9c"/>
<text x="266.2" y="844.1" font-size="4.9" fill="#262626">-1</text>
<path d="M288.6 850.4V939.4H378.6" stroke="#8a8a8a" stroke-width="0.75" fill="none"/>
<path d="M286.5 939.4H288.6" stroke="#8a8a8a" stroke-width="0.7"/>
<text x="285.8" y="942.15" font-size="7.3" text-anchor="end" fill="#262626">0.0</text>
<path d="M286.5 917.15H288.6" stroke="#8a8a8a" stroke-width="0.7"/>
<text x="285.8" y="919.9" font-size="7.3" text-anchor="end" fill="#262626">0.5</text>
<path d="M286.5 894.9H288.6" stroke="#8a8a8a" stroke-width="0.7"/>
<text x="285.8" y="897.65" font-size="7.3" text-anchor="end" fill="#262626">1.0</text>
<path d="M286.5 872.65H288.6" stroke="#8a8a8a" stroke-width="0.7"/>
<text x="285.8" y="875.4" font-size="7.3" text-anchor="end" fill="#262626">1.5</text>
<path d="M286.5 850.4H288.6" stroke="#8a8a8a" stroke-width="0.7"/>
<text x="285.8" y="853.15" font-size="7.3" text-anchor="end" fill="#262626">2.0</text>
<path d="M314.8 939.4V941" stroke="#8a8a8a" stroke-width="0.7"/>
<path d="M352.9 939.4V941" stroke="#8a8a8a" stroke-width="0.7"/>
<text transform="translate(271.9 895.6) rotate(-90)" font-size="7.55" text-anchor="middle" fill="#262626">Relative expression level</text>
<rect x="302.2" y="894.9" width="25.6" height="44.5" fill="#f0801e" stroke="#c86010" stroke-width="0.4"/>
<path d="M315 894.9V890.45M308.8 890.45H321.2" stroke="#808080" stroke-width="0.75" fill="none"/>
<rect x="340.2" y="917.15" width="25.6" height="22.25" fill="#35ab37" stroke="#208a22" stroke-width="0.4"/>
<path d="M353 917.15V914.92M346.8 914.92H359.2" stroke="#808080" stroke-width="0.75" fill="none"/>
<text x="353" y="916.52" font-size="8" font-weight="bold" text-anchor="middle" fill="#444">**</text>
<rect x="336.9" y="854.2" width="10" height="4.8" fill="#f0801e"/>
<rect x="336.9" y="866" width="10" height="4.8" fill="#35ab37"/>
<text x="351.9" y="859.1" font-size="7.3" fill="#262626">Roots</text>
<text x="351.9" y="870.9" font-size="7.3" fill="#262626">Leaves</text>
</svg>
</body></html>
